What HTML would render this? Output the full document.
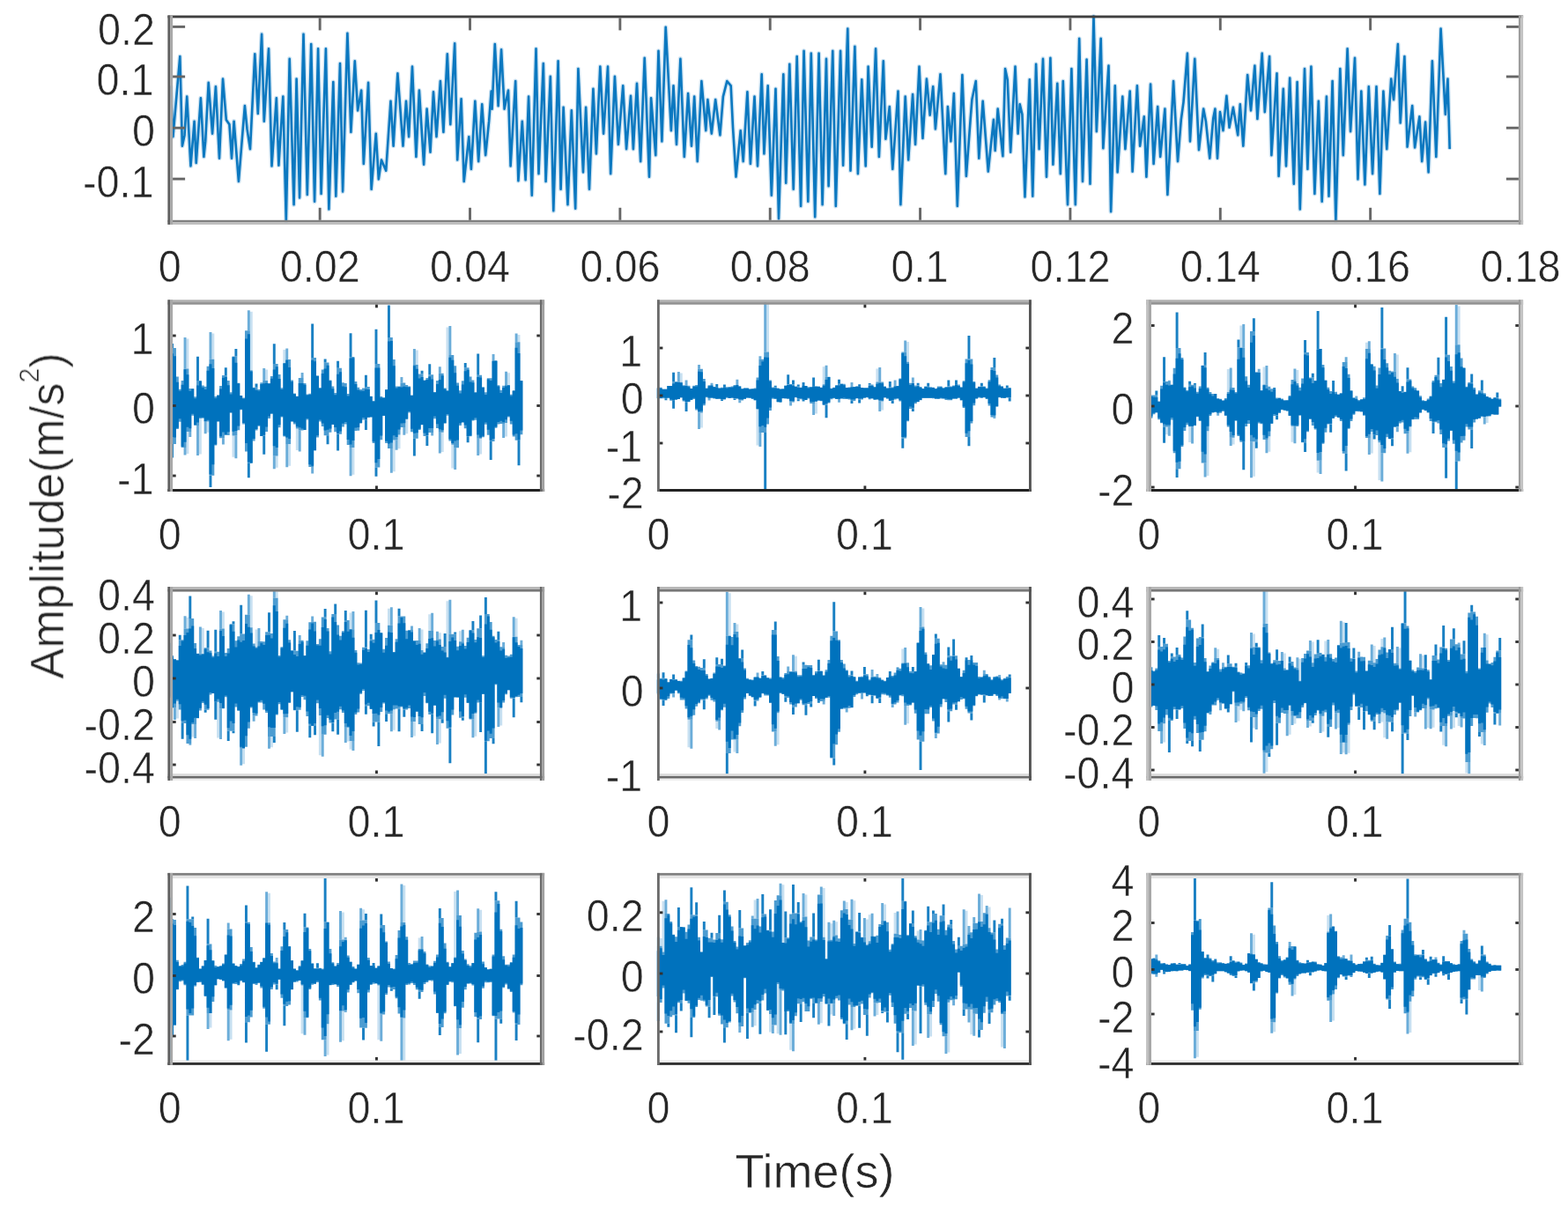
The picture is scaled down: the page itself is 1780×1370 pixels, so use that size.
<!DOCTYPE html>
<html><head><meta charset="utf-8"><title>Signals</title>
<style>
html,body{margin:0;padding:0;background:#fff;}
svg{display:block}
text{font-family:"Liberation Sans",Arial,Helvetica,sans-serif;fill:#262626;stroke:#fff;stroke-width:0.55px;filter:url(#bt);}
</style></head><body>
<svg xmlns="http://www.w3.org/2000/svg" width="1780" height="1370" viewBox="0 0 1780 1370">
<defs><filter id="bl" x="-2%" y="-5%" width="104%" height="110%"><feGaussianBlur stdDeviation="0.6"/></filter>
<filter id="bl2" x="-2%" y="-5%" width="104%" height="110%"><feGaussianBlur stdDeviation="0.45"/></filter>
<filter id="bt" x="-10%" y="-20%" width="120%" height="140%"><feGaussianBlur stdDeviation="0.7"/></filter></defs>
<rect width="1780" height="1370" fill="#fff"/>
<g id="top">
<g filter="url(#bl)"><path d="M193.8 97.4L196.4 155.2L199.9 114.9L204.3 64.1L206.9 165.7L209.5 153.4L212.2 109.6L216.5 188.5L220.6 137.7L222.7 185.0L227.9 111.4L231.4 178.0L233.2 160.4L236.7 93.9L241.1 151.7L244.9 98.2L249.0 179.7L253.0 89.5L256.8 135.9L260.4 141.2L263.0 179.7L265.6 137.7L270.9 206.0L277.9 120.1L280.5 146.4L284.0 169.2L289.3 61.4L292.8 128.9L297.1 38.7L299.8 137.7L305.0 55.3L308.5 188.5L313.8 111.4L316.4 187.6L321.3 109.6L324.8 250.7L328.7 66.7L333.6 232.3L336.6 89.5L340.1 224.4L344.5 38.7L348.8 220.9L353.2 50.0L357.1 228.8L361.1 55.3L364.6 220.0L369.9 55.3L373.4 237.5L378.3 93.0L381.3 222.7L386.0 72.0L389.1 217.4L394.4 37.8L398.4 149.9L402.8 69.3L406.1 125.4L410.2 102.6L412.8 185.9L418.1 93.9L421.6 214.8L426.8 151.7L429.8 203.4L433.0 181.5L438.2 193.7L443.5 114.9L446.6 165.7L451.4 83.3L457.5 165.7L461.0 114.9L464.1 155.2L468.0 75.5L472.4 178.0L475.9 102.6L481.1 186.7L484.6 123.6L488.5 172.7L492.0 104.4L495.5 155.2L499.9 92.1L503.4 149.9L507.8 61.4L511.3 141.2L516.2 49.2L519.2 181.5L523.6 112.3L526.7 206.0L532.3 155.2L534.9 192.0L539.3 114.9L543.2 183.2L547.2 118.4L551.2 176.2L555.1 137.7L557.7 103.5L558.6 123.6L561.8 50.0L565.6 120.1L569.1 56.2L572.6 123.6L577.0 102.6L579.6 188.5L585.2 92.1L588.4 205.1L592.8 137.7L596.6 204.3L600.1 109.6L603.8 221.8L608.5 55.3L611.5 197.2L616.8 72.0L619.6 206.0L624.8 86.8L628.3 239.3L633.6 69.3L636.6 214.8L639.6 121.9L644.5 232.3L648.8 125.4L653.2 236.7L656.4 78.1L662.0 195.5L665.1 121.9L669.0 214.8L673.4 100.9L676.9 174.5L681.3 75.5L685.1 151.7L690.0 75.5L693.2 197.2L697.9 86.8L701.9 163.9L707.2 97.4L711.1 169.2L716.0 108.8L718.9 169.2L723.0 94.7L727.2 183.2L731.7 65.8L737.0 200.7L739.1 111.4L744.3 176.2L747.5 57.9L751.4 160.4L755.7 30.8L761.9 148.2L764.5 97.4L768.0 163.9L772.4 66.7L776.8 178.0L781.1 106.1L785.0 165.7L788.2 109.6L791.7 183.2L796.4 92.1L801.3 148.2L803.4 113.1L807.8 151.7L812.2 113.1L817.4 153.4L820.9 109.6L825.3 92.1L829.7 97.4L832.0 144.7L835.5 200.7L840.7 148.2L843.7 183.2L848.4 104.4L851.9 185.9L856.5 109.6L860.0 188.5L864.7 84.2L867.4 174.5L871.7 97.4L875.8 221.8L880.5 100.9L884.0 248.1L889.3 84.2L892.2 207.8L896.3 72.8L900.7 214.8L904.7 64.1L909.1 234.0L912.6 57.9L917.3 228.8L920.8 60.6L925.2 246.3L929.6 60.6L933.6 232.3L938.0 66.7L940.6 211.3L945.3 57.9L948.8 234.0L954.1 57.9L957.1 187.6L962.3 32.5L965.5 193.7L970.4 52.7L973.9 197.2L978.3 90.4L982.7 188.5L985.6 75.5L989.7 166.6L994.1 55.3L997.9 178.0L1002.8 69.3L1005.4 157.8L1009.8 121.0L1013.3 192.0L1019.5 103.5L1022.4 232.3L1027.7 109.6L1031.2 181.5L1036.1 107.0L1039.1 163.9L1043.5 75.5L1047.5 156.9L1051.9 89.5L1055.7 130.7L1059.2 98.2L1061.9 146.4L1067.5 84.2L1073.3 197.2L1075.9 121.0L1079.4 160.4L1082.9 106.1L1086.8 234.0L1092.4 85.1L1096.9 199.9L1101.6 135.9L1103.4 113.1L1107.8 92.1L1111.3 179.7L1115.7 114.9L1121.8 194.6L1127.9 135.9L1129.7 171.0L1132.7 123.6L1138.4 177.1L1141.1 78.1L1143.7 90.4L1147.2 172.7L1152.5 75.5L1155.6 151.7L1157.7 118.4L1160.4 129.8L1163.5 223.5L1168.8 90.4L1172.3 222.7L1176.1 72.8L1179.6 169.2L1184.0 66.7L1188.0 200.7L1192.4 65.8L1195.4 186.7L1200.3 94.7L1203.8 197.2L1206.8 92.1L1212.0 232.3L1216.4 78.1L1220.8 232.3L1225.2 43.9L1229.0 206.0L1233.6 67.6L1237.5 208.6L1241.5 18.5L1244.8 149.1L1249.7 43.9L1252.3 168.3L1258.5 74.6L1261.1 240.2L1265.8 97.4L1268.6 195.5L1274.3 109.6L1277.4 169.2L1282.7 103.5L1285.6 194.6L1290.9 97.4L1294.1 165.7L1298.8 132.4L1301.4 200.7L1306.1 95.6L1309.6 185.9L1314.2 121.0L1317.2 178.0L1322.4 123.6L1325.4 220.9L1332.1 92.1L1337.0 183.2L1340.8 135.9L1343.5 115.8L1347.9 60.6L1351.0 160.4L1356.3 66.7L1361.0 170.1L1366.2 123.6L1368.9 137.7L1373.3 179.7L1377.3 134.2L1379.4 123.6L1382.0 179.7L1385.0 127.1L1388.5 148.2L1392.4 108.8L1395.5 144.7L1399.9 121.9L1405.2 153.4L1407.8 118.4L1411.3 165.7L1416.2 85.1L1420.0 125.4L1424.4 74.6L1427.4 135.0L1432.7 60.6L1435.8 127.1L1441.1 64.1L1443.4 176.2L1449.5 83.3L1451.6 199.9L1456.8 100.9L1460.0 188.5L1464.2 88.6L1468.8 208.6L1472.6 93.0L1475.8 237.5L1481.0 78.1L1484.4 192.0L1488.4 75.5L1492.4 220.0L1496.8 114.9L1500.7 228.8L1505.9 109.6L1508.5 222.7L1512.6 92.1L1516.4 250.7L1521.3 78.1L1524.8 176.2L1529.6 55.3L1533.1 149.1L1538.0 65.8L1541.5 203.4L1545.3 103.5L1549.4 209.5L1553.8 98.2L1558.1 197.2L1562.5 98.2L1566.4 220.0L1570.4 103.5L1574.3 169.2L1579.2 89.5L1582.1 113.1L1586.9 50.0L1589.7 139.4L1594.4 64.1L1597.6 166.6L1603.2 120.1L1606.1 167.5L1611.4 132.4L1614.2 183.2L1618.1 138.5L1621.6 195.5L1625.9 69.3L1630.3 178.0L1635.6 32.5L1640.8 129.8L1643.5 89.5L1645.7 169.2" fill="none" stroke="#0072bd" stroke-width="5.2" stroke-linejoin="round" stroke-opacity="0.2"/><path d="M193.8 97.4L196.4 155.2L199.9 114.9L204.3 64.1L206.9 165.7L209.5 153.4L212.2 109.6L216.5 188.5L220.6 137.7L222.7 185.0L227.9 111.4L231.4 178.0L233.2 160.4L236.7 93.9L241.1 151.7L244.9 98.2L249.0 179.7L253.0 89.5L256.8 135.9L260.4 141.2L263.0 179.7L265.6 137.7L270.9 206.0L277.9 120.1L280.5 146.4L284.0 169.2L289.3 61.4L292.8 128.9L297.1 38.7L299.8 137.7L305.0 55.3L308.5 188.5L313.8 111.4L316.4 187.6L321.3 109.6L324.8 250.7L328.7 66.7L333.6 232.3L336.6 89.5L340.1 224.4L344.5 38.7L348.8 220.9L353.2 50.0L357.1 228.8L361.1 55.3L364.6 220.0L369.9 55.3L373.4 237.5L378.3 93.0L381.3 222.7L386.0 72.0L389.1 217.4L394.4 37.8L398.4 149.9L402.8 69.3L406.1 125.4L410.2 102.6L412.8 185.9L418.1 93.9L421.6 214.8L426.8 151.7L429.8 203.4L433.0 181.5L438.2 193.7L443.5 114.9L446.6 165.7L451.4 83.3L457.5 165.7L461.0 114.9L464.1 155.2L468.0 75.5L472.4 178.0L475.9 102.6L481.1 186.7L484.6 123.6L488.5 172.7L492.0 104.4L495.5 155.2L499.9 92.1L503.4 149.9L507.8 61.4L511.3 141.2L516.2 49.2L519.2 181.5L523.6 112.3L526.7 206.0L532.3 155.2L534.9 192.0L539.3 114.9L543.2 183.2L547.2 118.4L551.2 176.2L555.1 137.7L557.7 103.5L558.6 123.6L561.8 50.0L565.6 120.1L569.1 56.2L572.6 123.6L577.0 102.6L579.6 188.5L585.2 92.1L588.4 205.1L592.8 137.7L596.6 204.3L600.1 109.6L603.8 221.8L608.5 55.3L611.5 197.2L616.8 72.0L619.6 206.0L624.8 86.8L628.3 239.3L633.6 69.3L636.6 214.8L639.6 121.9L644.5 232.3L648.8 125.4L653.2 236.7L656.4 78.1L662.0 195.5L665.1 121.9L669.0 214.8L673.4 100.9L676.9 174.5L681.3 75.5L685.1 151.7L690.0 75.5L693.2 197.2L697.9 86.8L701.9 163.9L707.2 97.4L711.1 169.2L716.0 108.8L718.9 169.2L723.0 94.7L727.2 183.2L731.7 65.8L737.0 200.7L739.1 111.4L744.3 176.2L747.5 57.9L751.4 160.4L755.7 30.8L761.9 148.2L764.5 97.4L768.0 163.9L772.4 66.7L776.8 178.0L781.1 106.1L785.0 165.7L788.2 109.6L791.7 183.2L796.4 92.1L801.3 148.2L803.4 113.1L807.8 151.7L812.2 113.1L817.4 153.4L820.9 109.6L825.3 92.1L829.7 97.4L832.0 144.7L835.5 200.7L840.7 148.2L843.7 183.2L848.4 104.4L851.9 185.9L856.5 109.6L860.0 188.5L864.7 84.2L867.4 174.5L871.7 97.4L875.8 221.8L880.5 100.9L884.0 248.1L889.3 84.2L892.2 207.8L896.3 72.8L900.7 214.8L904.7 64.1L909.1 234.0L912.6 57.9L917.3 228.8L920.8 60.6L925.2 246.3L929.6 60.6L933.6 232.3L938.0 66.7L940.6 211.3L945.3 57.9L948.8 234.0L954.1 57.9L957.1 187.6L962.3 32.5L965.5 193.7L970.4 52.7L973.9 197.2L978.3 90.4L982.7 188.5L985.6 75.5L989.7 166.6L994.1 55.3L997.9 178.0L1002.8 69.3L1005.4 157.8L1009.8 121.0L1013.3 192.0L1019.5 103.5L1022.4 232.3L1027.7 109.6L1031.2 181.5L1036.1 107.0L1039.1 163.9L1043.5 75.5L1047.5 156.9L1051.9 89.5L1055.7 130.7L1059.2 98.2L1061.9 146.4L1067.5 84.2L1073.3 197.2L1075.9 121.0L1079.4 160.4L1082.9 106.1L1086.8 234.0L1092.4 85.1L1096.9 199.9L1101.6 135.9L1103.4 113.1L1107.8 92.1L1111.3 179.7L1115.7 114.9L1121.8 194.6L1127.9 135.9L1129.7 171.0L1132.7 123.6L1138.4 177.1L1141.1 78.1L1143.7 90.4L1147.2 172.7L1152.5 75.5L1155.6 151.7L1157.7 118.4L1160.4 129.8L1163.5 223.5L1168.8 90.4L1172.3 222.7L1176.1 72.8L1179.6 169.2L1184.0 66.7L1188.0 200.7L1192.4 65.8L1195.4 186.7L1200.3 94.7L1203.8 197.2L1206.8 92.1L1212.0 232.3L1216.4 78.1L1220.8 232.3L1225.2 43.9L1229.0 206.0L1233.6 67.6L1237.5 208.6L1241.5 18.5L1244.8 149.1L1249.7 43.9L1252.3 168.3L1258.5 74.6L1261.1 240.2L1265.8 97.4L1268.6 195.5L1274.3 109.6L1277.4 169.2L1282.7 103.5L1285.6 194.6L1290.9 97.4L1294.1 165.7L1298.8 132.4L1301.4 200.7L1306.1 95.6L1309.6 185.9L1314.2 121.0L1317.2 178.0L1322.4 123.6L1325.4 220.9L1332.1 92.1L1337.0 183.2L1340.8 135.9L1343.5 115.8L1347.9 60.6L1351.0 160.4L1356.3 66.7L1361.0 170.1L1366.2 123.6L1368.9 137.7L1373.3 179.7L1377.3 134.2L1379.4 123.6L1382.0 179.7L1385.0 127.1L1388.5 148.2L1392.4 108.8L1395.5 144.7L1399.9 121.9L1405.2 153.4L1407.8 118.4L1411.3 165.7L1416.2 85.1L1420.0 125.4L1424.4 74.6L1427.4 135.0L1432.7 60.6L1435.8 127.1L1441.1 64.1L1443.4 176.2L1449.5 83.3L1451.6 199.9L1456.8 100.9L1460.0 188.5L1464.2 88.6L1468.8 208.6L1472.6 93.0L1475.8 237.5L1481.0 78.1L1484.4 192.0L1488.4 75.5L1492.4 220.0L1496.8 114.9L1500.7 228.8L1505.9 109.6L1508.5 222.7L1512.6 92.1L1516.4 250.7L1521.3 78.1L1524.8 176.2L1529.6 55.3L1533.1 149.1L1538.0 65.8L1541.5 203.4L1545.3 103.5L1549.4 209.5L1553.8 98.2L1558.1 197.2L1562.5 98.2L1566.4 220.0L1570.4 103.5L1574.3 169.2L1579.2 89.5L1582.1 113.1L1586.9 50.0L1589.7 139.4L1594.4 64.1L1597.6 166.6L1603.2 120.1L1606.1 167.5L1611.4 132.4L1614.2 183.2L1618.1 138.5L1621.6 195.5L1625.9 69.3L1630.3 178.0L1635.6 32.5L1640.8 129.8L1643.5 89.5L1645.7 169.2" fill="none" stroke="#0072bd" stroke-width="2.6" stroke-linejoin="round" stroke-opacity="0.95"/></g>
<g filter="url(#bl2)"><rect x="190.40" y="17.50" width="1538.70" height="2.90" fill="#404040"/><rect x="190.40" y="249.80" width="1538.70" height="2.60" fill="#808080"/><rect x="190.40" y="252.40" width="1538.70" height="2.50" fill="#bcbcbc"/><rect x="190.40" y="17.50" width="2.70" height="237.40" fill="#5f5f5f"/><rect x="193.10" y="17.50" width="3.00" height="237.40" fill="#a8a8a8"/><rect x="1723.90" y="17.50" width="2.60" height="237.40" fill="#9c9c9c"/><rect x="1726.50" y="17.50" width="2.60" height="237.40" fill="#c2c2c2"/><rect x="361.71" y="235.80" width="2.9" height="14.00" fill="#666666"/><rect x="361.71" y="20.40" width="2.9" height="14.00" fill="#666666"/><rect x="532.06" y="235.80" width="2.9" height="14.00" fill="#666666"/><rect x="532.06" y="20.40" width="2.9" height="14.00" fill="#666666"/><rect x="702.42" y="235.80" width="2.9" height="14.00" fill="#666666"/><rect x="702.42" y="20.40" width="2.9" height="14.00" fill="#666666"/><rect x="872.77" y="235.80" width="2.9" height="14.00" fill="#666666"/><rect x="872.77" y="20.40" width="2.9" height="14.00" fill="#666666"/><rect x="1043.13" y="235.80" width="2.9" height="14.00" fill="#666666"/><rect x="1043.13" y="20.40" width="2.9" height="14.00" fill="#666666"/><rect x="1213.48" y="235.80" width="2.9" height="14.00" fill="#666666"/><rect x="1213.48" y="20.40" width="2.9" height="14.00" fill="#666666"/><rect x="1383.84" y="235.80" width="2.9" height="14.00" fill="#666666"/><rect x="1383.84" y="20.40" width="2.9" height="14.00" fill="#666666"/><rect x="1554.19" y="235.80" width="2.9" height="14.00" fill="#666666"/><rect x="1554.19" y="20.40" width="2.9" height="14.00" fill="#666666"/><rect x="196.10" y="28.95" width="14.00" height="2.9" fill="#666666"/><rect x="1709.90" y="28.95" width="14.00" height="2.9" fill="#666666"/><rect x="196.10" y="85.55" width="14.00" height="2.9" fill="#666666"/><rect x="1709.90" y="85.55" width="14.00" height="2.9" fill="#666666"/><rect x="196.10" y="143.75" width="14.00" height="2.9" fill="#666666"/><rect x="1709.90" y="143.75" width="14.00" height="2.9" fill="#666666"/><rect x="196.10" y="201.65" width="14.00" height="2.9" fill="#666666"/><rect x="1709.90" y="201.65" width="14.00" height="2.9" fill="#666666"/></g><text transform="translate(192.8,319.5) scale(0.935,1)" text-anchor="middle" font-size="50">0</text><text transform="translate(363.2,319.5) scale(0.935,1)" text-anchor="middle" font-size="50">0.02</text><text transform="translate(533.5,319.5) scale(0.935,1)" text-anchor="middle" font-size="50">0.04</text><text transform="translate(703.9,319.5) scale(0.935,1)" text-anchor="middle" font-size="50">0.06</text><text transform="translate(874.2,319.5) scale(0.935,1)" text-anchor="middle" font-size="50">0.08</text><text transform="translate(1044.1,319.5) scale(0.935,1)" text-anchor="middle" font-size="50">0.1</text><text transform="translate(1214.9,319.5) scale(0.935,1)" text-anchor="middle" font-size="50">0.12</text><text transform="translate(1385.3,319.5) scale(0.935,1)" text-anchor="middle" font-size="50">0.14</text><text transform="translate(1555.6,319.5) scale(0.935,1)" text-anchor="middle" font-size="50">0.16</text><text transform="translate(1726.0,319.5) scale(0.935,1)" text-anchor="middle" font-size="50">0.18</text><text transform="translate(176.1,51.2) scale(0.935,1)" text-anchor="end" font-size="50">0.2</text><text transform="translate(174.6,107.8) scale(0.935,1)" text-anchor="end" font-size="50">0.1</text><text transform="translate(176.1,166.0) scale(0.935,1)" text-anchor="end" font-size="50">0</text><text transform="translate(174.6,223.9) scale(0.935,1)" text-anchor="end" font-size="50">-0.1</text>
</g>
<g id="p00">
<g filter="url(#bl)"><path d="M211.45 384.4h2.94V418.6h-2.94zM211.45 490.1h2.94V514.9h-2.94zM225.91 474.9h2.94V515.6h-2.94zM234.59 478.4h2.94V490.7h-2.94zM240.38 378.4h2.94V407.8h-2.94zM263.52 494.4h2.94V518.8h-2.94zM283.77 353.8h2.94V420.2h-2.94zM301.13 419.4h2.94V432.0h-2.94zM312.70 517.5h2.94V530.8h-2.94zM321.38 396.9h2.94V411.9h-2.94zM327.16 503.9h2.94V528.8h-2.94zM335.84 486.5h2.94V511.0h-2.94zM399.48 507.9h2.94V538.7h-2.94zM445.77 499.6h2.94V535.2h-2.94zM451.56 493.5h2.94V509.2h-2.94zM460.23 476.1h2.94V492.3h-2.94zM471.81 397.4h2.94V414.0h-2.94zM500.73 490.8h2.94V513.1h-2.94zM506.52 371.4h2.94V443.3h-2.94zM512.31 504.7h2.94V531.5h-2.94zM544.13 497.8h2.94V515.4h-2.94zM573.06 479.9h2.94V495.5h-2.94zM575.95 423.2h2.94V436.9h-2.94zM587.52 380.1h2.94V388.3h-2.94z" fill="#0072bd" fill-opacity="0.22"/><path d="M208.56 382.9h2.94V418.6h-2.94zM208.56 508.1h2.94V516.4h-2.94zM214.34 490.1h2.94V496.0h-2.94zM223.02 483.1h2.94V517.1h-2.94zM231.70 478.4h2.94V492.2h-2.94zM237.49 376.9h2.94V407.8h-2.94zM251.95 497.3h2.94V504.6h-2.94zM266.41 494.4h2.94V520.3h-2.94zM280.88 352.3h2.94V375.2h-2.94zM298.24 417.9h2.94V432.0h-2.94zM309.81 517.5h2.94V532.3h-2.94zM324.27 395.4h2.94V407.9h-2.94zM324.27 503.9h2.94V530.3h-2.94zM338.74 488.4h2.94V512.5h-2.94zM341.63 422.9h2.94V429.0h-2.94zM353.20 530.0h2.94V537.4h-2.94zM396.59 507.9h2.94V540.2h-2.94zM442.88 509.0h2.94V536.7h-2.94zM448.66 499.6h2.94V510.7h-2.94zM454.45 428.0h2.94V434.6h-2.94zM457.34 485.0h2.94V493.8h-2.94zM468.91 395.9h2.94V414.0h-2.94zM489.16 491.1h2.94V494.4h-2.94zM497.84 416.2h2.94V423.7h-2.94zM497.84 490.8h2.94V514.6h-2.94zM509.41 369.9h2.94V402.9h-2.94zM515.20 508.2h2.94V533.0h-2.94zM541.23 497.8h2.94V516.9h-2.94zM558.59 402.1h2.94V409.0h-2.94zM570.16 480.9h2.94V497.0h-2.94zM573.06 421.7h2.94V436.9h-2.94zM584.63 378.6h2.94V388.3h-2.94z" fill="#0072bd" fill-opacity="0.58"/><path d="M194.09 389.9h2.94V395.1h-2.94zM194.09 504.1h2.94V519.4h-2.94zM223.02 404.7h2.94V431.9h-2.94zM237.49 539.7h2.94V553.0h-2.94zM254.84 417.2h2.94V425.9h-2.94zM266.41 396.0h2.94V404.6h-2.94zM280.88 525.9h2.94V542.2h-2.94zM289.56 435.6h2.94V439.7h-2.94zM298.24 495.0h2.94V515.8h-2.94zM309.81 390.3h2.94V413.0h-2.94zM353.20 367.5h2.94V405.9h-2.94zM367.66 407.5h2.94V411.6h-2.94zM370.56 494.3h2.94V504.3h-2.94zM382.13 409.7h2.94V417.8h-2.94zM382.13 492.8h2.94V511.4h-2.94zM396.59 378.3h2.94V405.1h-2.94zM413.95 425.8h2.94V438.9h-2.94zM413.95 476.4h2.94V487.9h-2.94zM425.52 373.7h2.94V412.9h-2.94zM425.52 530.5h2.94V540.8h-2.94zM439.98 346.4h2.94V382.9h-2.94zM468.91 497.8h2.94V517.4h-2.94zM477.59 420.8h2.94V424.6h-2.94zM483.38 495.0h2.94V506.0h-2.94zM486.27 413.3h2.94V425.2h-2.94zM526.77 412.0h2.94V417.3h-2.94zM529.66 495.3h2.94V502.3h-2.94zM541.23 401.5h2.94V425.8h-2.94zM555.70 500.9h2.94V522.0h-2.94zM587.52 499.7h2.94V528.3h-2.94z" fill="#0072bd" fill-opacity="0.9"/><path d="M191.20 408.4h2.94V504.1h-2.94zM194.09 395.1h2.94V504.1h-2.94zM196.99 395.1h2.94V504.1h-2.94zM199.88 427.5h2.94V487.0h-2.94zM202.77 441.7h2.94V478.8h-2.94zM205.66 432.0h2.94V508.1h-2.94zM208.56 418.6h2.94V508.1h-2.94zM211.45 418.6h2.94V490.1h-2.94zM214.34 441.0h2.94V490.1h-2.94zM217.24 441.0h2.94V471.7h-2.94zM220.13 450.2h2.94V483.1h-2.94zM223.02 431.9h2.94V483.1h-2.94zM225.91 431.9h2.94V474.9h-2.94zM228.81 437.5h2.94V474.7h-2.94zM231.70 438.8h2.94V478.4h-2.94zM234.59 415.8h2.94V478.4h-2.94zM237.49 407.8h2.94V539.7h-2.94zM240.38 407.8h2.94V539.7h-2.94zM243.27 450.0h2.94V505.6h-2.94zM246.16 448.2h2.94V478.4h-2.94zM249.06 438.0h2.94V497.3h-2.94zM251.95 425.9h2.94V497.3h-2.94zM254.84 425.9h2.94V494.0h-2.94zM257.74 432.1h2.94V494.0h-2.94zM260.63 445.3h2.94V468.4h-2.94zM263.52 404.6h2.94V494.4h-2.94zM266.41 404.6h2.94V494.4h-2.94zM269.31 434.8h2.94V488.3h-2.94zM272.20 448.9h2.94V465.2h-2.94zM275.09 451.6h2.94V481.4h-2.94zM277.99 375.2h2.94V512.5h-2.94zM280.88 375.2h2.94V525.9h-2.94zM283.77 420.2h2.94V525.9h-2.94zM286.66 439.7h2.94V500.4h-2.94zM289.56 439.7h2.94V488.5h-2.94zM292.45 442.0h2.94V483.7h-2.94zM295.34 434.2h2.94V495.0h-2.94zM298.24 432.0h2.94V495.0h-2.94zM301.13 432.0h2.94V490.0h-2.94zM304.02 434.9h2.94V475.0h-2.94zM306.91 426.9h2.94V470.0h-2.94zM309.81 413.0h2.94V517.5h-2.94zM312.70 413.0h2.94V517.5h-2.94zM315.59 424.9h2.94V485.3h-2.94zM318.49 440.3h2.94V473.5h-2.94zM321.38 411.9h2.94V495.6h-2.94zM324.27 407.9h2.94V503.9h-2.94zM327.16 407.9h2.94V503.9h-2.94zM330.06 431.6h2.94V478.8h-2.94zM332.95 446.5h2.94V481.5h-2.94zM335.84 449.8h2.94V486.5h-2.94zM338.74 429.0h2.94V488.4h-2.94zM341.63 429.0h2.94V488.4h-2.94zM344.52 434.9h2.94V488.0h-2.94zM347.41 447.4h2.94V476.6h-2.94zM350.31 446.7h2.94V530.0h-2.94zM353.20 405.9h2.94V530.0h-2.94zM356.09 405.9h2.94V511.5h-2.94zM358.99 426.5h2.94V496.5h-2.94zM361.88 440.0h2.94V478.5h-2.94zM364.77 419.6h2.94V484.0h-2.94zM367.66 411.6h2.94V494.3h-2.94zM370.56 411.6h2.94V494.3h-2.94zM373.45 431.4h2.94V490.8h-2.94zM376.34 438.4h2.94V481.9h-2.94zM379.23 445.9h2.94V490.3h-2.94zM382.13 417.8h2.94V492.8h-2.94zM385.02 417.8h2.94V492.8h-2.94zM387.91 434.2h2.94V484.6h-2.94zM390.81 435.0h2.94V481.6h-2.94zM393.70 446.9h2.94V505.1h-2.94zM396.59 405.1h2.94V507.9h-2.94zM399.48 405.1h2.94V507.9h-2.94zM402.38 432.9h2.94V489.0h-2.94zM405.27 439.8h2.94V488.8h-2.94zM408.16 441.9h2.94V480.2h-2.94zM411.06 440.5h2.94V476.4h-2.94zM413.95 438.9h2.94V476.4h-2.94zM416.84 438.9h2.94V474.1h-2.94zM419.73 449.8h2.94V473.7h-2.94zM422.63 455.0h2.94V503.0h-2.94zM425.52 412.9h2.94V530.5h-2.94zM428.41 412.9h2.94V530.5h-2.94zM431.31 449.9h2.94V499.2h-2.94zM434.20 450.9h2.94V471.9h-2.94zM437.09 441.9h2.94V502.9h-2.94zM439.98 382.9h2.94V509.0h-2.94zM442.88 382.9h2.94V509.0h-2.94zM445.77 408.0h2.94V499.6h-2.94zM448.66 438.5h2.94V499.6h-2.94zM451.56 438.6h2.94V493.5h-2.94zM454.45 434.6h2.94V485.0h-2.94zM457.34 434.6h2.94V485.0h-2.94zM460.23 437.1h2.94V476.1h-2.94zM463.13 438.6h2.94V468.6h-2.94zM466.02 448.4h2.94V490.2h-2.94zM468.91 414.0h2.94V497.8h-2.94zM471.81 414.0h2.94V497.8h-2.94zM474.70 424.6h2.94V488.1h-2.94zM477.59 424.6h2.94V482.2h-2.94zM480.48 431.7h2.94V495.0h-2.94zM483.38 429.1h2.94V495.0h-2.94zM486.27 425.2h2.94V491.1h-2.94zM489.16 425.2h2.94V491.1h-2.94zM492.06 445.0h2.94V475.3h-2.94zM494.95 432.1h2.94V485.9h-2.94zM497.84 423.7h2.94V490.8h-2.94zM500.73 423.7h2.94V490.8h-2.94zM503.63 440.4h2.94V480.4h-2.94zM506.52 443.3h2.94V471.8h-2.94zM509.41 402.9h2.94V500.5h-2.94zM512.31 402.9h2.94V504.7h-2.94zM515.20 415.3h2.94V508.2h-2.94zM518.09 434.6h2.94V508.2h-2.94zM520.98 443.3h2.94V482.9h-2.94zM523.88 432.3h2.94V479.4h-2.94zM526.77 417.3h2.94V486.3h-2.94zM529.66 417.3h2.94V495.3h-2.94zM532.56 427.5h2.94V495.3h-2.94zM535.45 431.5h2.94V477.6h-2.94zM538.34 445.1h2.94V476.7h-2.94zM541.23 425.8h2.94V497.8h-2.94zM544.13 425.8h2.94V497.8h-2.94zM547.02 439.2h2.94V496.3h-2.94zM549.91 445.3h2.94V481.7h-2.94zM552.81 429.2h2.94V493.8h-2.94zM555.70 429.2h2.94V500.9h-2.94zM558.59 409.0h2.94V500.9h-2.94zM561.48 409.0h2.94V485.8h-2.94zM564.38 437.2h2.94V481.5h-2.94zM567.27 442.8h2.94V480.9h-2.94zM570.16 437.7h2.94V480.9h-2.94zM573.06 436.9h2.94V479.9h-2.94zM575.95 436.9h2.94V473.5h-2.94zM578.84 447.8h2.94V481.4h-2.94zM581.73 443.1h2.94V495.5h-2.94zM584.63 388.3h2.94V499.7h-2.94zM587.52 388.3h2.94V499.7h-2.94zM590.41 432.1h2.94V493.3h-2.94z" fill="#0072bd" fill-opacity="0.7"/><path d="M191.20 413.7h2.94V498.0h-2.94zM194.09 401.3h2.94V495.9h-2.94zM196.99 404.2h2.94V496.5h-2.94zM199.88 433.7h2.94V485.7h-2.94zM202.77 443.8h2.94V475.3h-2.94zM205.66 436.8h2.94V506.8h-2.94zM208.56 419.2h2.94V501.7h-2.94zM211.45 425.2h2.94V484.8h-2.94zM214.34 443.8h2.94V486.2h-2.94zM217.24 441.6h2.94V469.7h-2.94zM220.13 452.2h2.94V482.1h-2.94zM223.02 437.6h2.94V479.4h-2.94zM225.91 432.8h2.94V473.7h-2.94zM228.81 439.8h2.94V473.7h-2.94zM231.70 441.9h2.94V478.3h-2.94zM234.59 420.8h2.94V476.8h-2.94zM237.49 413.2h2.94V538.6h-2.94zM240.38 418.1h2.94V527.2h-2.94zM243.27 452.0h2.94V504.6h-2.94zM246.16 448.9h2.94V478.3h-2.94zM249.06 441.5h2.94V495.3h-2.94zM251.95 428.8h2.94V490.6h-2.94zM254.84 427.7h2.94V493.0h-2.94zM257.74 437.3h2.94V490.2h-2.94zM260.63 447.4h2.94V468.3h-2.94zM263.52 405.3h2.94V489.8h-2.94zM266.41 411.7h2.94V489.0h-2.94zM269.31 435.2h2.94V483.6h-2.94zM272.20 449.1h2.94V464.4h-2.94zM275.09 452.4h2.94V480.0h-2.94zM277.99 384.6h2.94V502.9h-2.94zM280.88 379.3h2.94V524.5h-2.94zM283.77 421.5h2.94V525.3h-2.94zM286.66 440.5h2.94V497.9h-2.94zM289.56 442.8h2.94V486.9h-2.94zM292.45 443.8h2.94V482.8h-2.94zM295.34 436.0h2.94V494.9h-2.94zM298.24 435.2h2.94V493.7h-2.94zM301.13 434.7h2.94V484.5h-2.94zM304.02 435.5h2.94V472.6h-2.94zM306.91 429.8h2.94V469.0h-2.94zM309.81 419.5h2.94V506.3h-2.94zM312.70 416.2h2.94V508.0h-2.94zM315.59 430.0h2.94V482.2h-2.94zM318.49 441.9h2.94V472.6h-2.94zM321.38 412.4h2.94V494.6h-2.94zM324.27 408.8h2.94V496.6h-2.94zM327.16 417.1h2.94V498.1h-2.94zM330.06 433.2h2.94V477.9h-2.94zM332.95 447.3h2.94V479.6h-2.94zM335.84 450.1h2.94V484.2h-2.94zM338.74 435.1h2.94V485.3h-2.94zM341.63 435.1h2.94V486.6h-2.94zM344.52 436.7h2.94V488.0h-2.94zM347.41 448.4h2.94V475.0h-2.94zM350.31 448.1h2.94V527.2h-2.94zM353.20 408.8h2.94V528.7h-2.94zM356.09 410.2h2.94V511.1h-2.94zM358.99 426.7h2.94V494.3h-2.94zM361.88 441.0h2.94V476.4h-2.94zM364.77 424.0h2.94V480.5h-2.94zM367.66 418.6h2.94V488.4h-2.94zM370.56 414.8h2.94V487.7h-2.94zM373.45 432.3h2.94V486.4h-2.94zM376.34 441.2h2.94V481.8h-2.94zM379.23 448.3h2.94V485.0h-2.94zM382.13 424.8h2.94V491.9h-2.94zM385.02 422.3h2.94V489.6h-2.94zM387.91 438.6h2.94V480.7h-2.94zM390.81 439.2h2.94V479.1h-2.94zM393.70 449.4h2.94V499.0h-2.94zM396.59 406.5h2.94V504.5h-2.94zM399.48 406.2h2.94V500.0h-2.94zM402.38 436.0h2.94V485.4h-2.94zM405.27 442.4h2.94V485.0h-2.94zM408.16 443.7h2.94V480.2h-2.94zM411.06 443.7h2.94V474.1h-2.94zM413.95 441.7h2.94V476.2h-2.94zM416.84 442.0h2.94V473.4h-2.94zM419.73 449.9h2.94V473.0h-2.94zM422.63 455.8h2.94V501.3h-2.94zM425.52 417.6h2.94V525.2h-2.94zM428.41 417.4h2.94V520.9h-2.94zM431.31 451.5h2.94V494.4h-2.94zM434.20 452.1h2.94V471.7h-2.94zM437.09 442.5h2.94V500.8h-2.94zM439.98 387.6h2.94V503.5h-2.94zM442.88 387.1h2.94V502.5h-2.94zM445.77 415.2h2.94V494.3h-2.94zM448.66 440.5h2.94V495.9h-2.94zM451.56 439.2h2.94V487.6h-2.94zM454.45 439.6h2.94V480.4h-2.94zM457.34 438.8h2.94V480.3h-2.94zM460.23 439.2h2.94V475.3h-2.94zM463.13 439.5h2.94V467.1h-2.94zM466.02 448.9h2.94V486.8h-2.94zM468.91 415.2h2.94V491.7h-2.94zM471.81 418.7h2.94V491.2h-2.94zM474.70 429.6h2.94V486.8h-2.94zM477.59 428.1h2.94V482.1h-2.94zM480.48 431.7h2.94V491.6h-2.94zM483.38 431.0h2.94V494.1h-2.94zM486.27 427.5h2.94V486.0h-2.94zM489.16 430.5h2.94V486.0h-2.94zM492.06 445.4h2.94V472.6h-2.94zM494.95 436.1h2.94V481.3h-2.94zM497.84 431.0h2.94V487.2h-2.94zM500.73 426.3h2.94V488.2h-2.94zM503.63 441.5h2.94V480.2h-2.94zM506.52 443.7h2.94V469.9h-2.94zM509.41 405.8h2.94V498.4h-2.94zM512.31 408.8h2.94V503.1h-2.94zM515.20 423.3h2.94V500.4h-2.94zM518.09 437.8h2.94V499.5h-2.94zM520.98 446.5h2.94V480.4h-2.94zM523.88 436.4h2.94V479.2h-2.94zM526.77 421.2h2.94V482.4h-2.94zM529.66 419.8h2.94V495.0h-2.94zM532.56 433.6h2.94V494.4h-2.94zM535.45 434.2h2.94V476.4h-2.94zM538.34 446.0h2.94V474.3h-2.94zM541.23 427.9h2.94V493.6h-2.94zM544.13 428.5h2.94V496.5h-2.94zM547.02 439.9h2.94V494.8h-2.94zM549.91 448.1h2.94V479.6h-2.94zM552.81 430.6h2.94V487.7h-2.94zM555.70 432.0h2.94V499.7h-2.94zM558.59 410.0h2.94V498.1h-2.94zM561.48 410.0h2.94V484.6h-2.94zM564.38 438.4h2.94V479.1h-2.94zM567.27 445.9h2.94V477.8h-2.94zM570.16 440.1h2.94V479.3h-2.94zM573.06 438.2h2.94V476.2h-2.94zM575.95 437.5h2.94V472.2h-2.94zM578.84 449.4h2.94V477.8h-2.94zM581.73 443.9h2.94V493.6h-2.94zM584.63 394.7h2.94V492.3h-2.94zM587.52 400.9h2.94V499.6h-2.94zM590.41 432.3h2.94V488.6h-2.94z" fill="#0072bd"/></g>
<g filter="url(#bl2)"><rect x="190.40" y="340.30" width="427.70" height="2.80" fill="#b0b0b0"/><rect x="190.40" y="343.10" width="427.70" height="2.60" fill="#909090"/><rect x="190.40" y="555.00" width="427.70" height="3.00" fill="#222222"/><rect x="190.40" y="340.30" width="2.70" height="217.70" fill="#5f5f5f"/><rect x="193.10" y="340.30" width="3.00" height="217.70" fill="#a8a8a8"/><rect x="612.90" y="340.30" width="2.60" height="217.70" fill="#6a6a6a"/><rect x="615.50" y="340.30" width="2.60" height="217.70" fill="#a0a0a0"/><rect x="426.02" y="551.40" width="2.9" height="3.60" fill="#333333"/><rect x="426.02" y="345.70" width="2.9" height="3.60" fill="#333333"/><rect x="196.10" y="379.55" width="3.60" height="2.9" fill="#333333"/><rect x="609.30" y="379.55" width="3.60" height="2.9" fill="#333333"/><rect x="196.10" y="459.05" width="3.60" height="2.9" fill="#333333"/><rect x="609.30" y="459.05" width="3.60" height="2.9" fill="#333333"/><rect x="196.10" y="538.55" width="3.60" height="2.9" fill="#333333"/><rect x="609.30" y="538.55" width="3.60" height="2.9" fill="#333333"/></g><text transform="translate(192.8,624.0) scale(0.935,1)" text-anchor="middle" font-size="50">0</text><text transform="translate(427.0,624.0) scale(0.935,1)" text-anchor="middle" font-size="50">0.1</text><text transform="translate(174.6,401.8) scale(0.935,1)" text-anchor="end" font-size="50">1</text><text transform="translate(176.1,481.3) scale(0.935,1)" text-anchor="end" font-size="50">0</text><text transform="translate(174.6,560.8) scale(0.935,1)" text-anchor="end" font-size="50">-1</text>
</g>
<g id="p01">
<g filter="url(#bl)"><path d="M771.82 423.4h2.94V433.7h-2.94zM794.94 468.5h2.94V485.5h-2.94zM858.54 464.2h2.94V505.6h-2.94zM870.10 344.7h2.94V399.6h-2.94zM925.03 455.9h2.94V469.4h-2.94zM933.70 416.2h2.94V436.3h-2.94zM994.41 418.6h2.94V433.6h-2.94zM1000.19 455.6h2.94V465.4h-2.94zM1029.10 388.1h2.94V410.7h-2.94z" fill="#0072bd" fill-opacity="0.22"/><path d="M768.93 421.9h2.94V433.2h-2.94zM777.60 431.6h2.94V437.2h-2.94zM792.05 413.9h2.94V418.7h-2.94zM792.05 468.5h2.94V487.0h-2.94zM803.62 452.1h2.94V454.5h-2.94zM806.51 434.8h2.94V437.3h-2.94zM835.41 430.8h2.94V436.9h-2.94zM838.31 454.6h2.94V457.3h-2.94zM861.43 404.3h2.94V407.7h-2.94zM861.43 490.9h2.94V507.1h-2.94zM867.21 343.2h2.94V399.6h-2.94zM896.12 456.4h2.94V460.5h-2.94zM922.14 458.0h2.94V470.9h-2.94zM936.59 414.7h2.94V427.8h-2.94zM951.05 453.0h2.94V456.7h-2.94zM965.50 434.0h2.94V438.9h-2.94zM997.30 417.1h2.94V433.4h-2.94zM997.30 455.6h2.94V466.9h-2.94zM1014.64 431.6h2.94V437.9h-2.94zM1026.21 386.6h2.94V399.4h-2.94zM1034.88 428.4h2.94V434.8h-2.94zM1127.39 473.4h2.94V475.0h-2.94z" fill="#0072bd" fill-opacity="0.58"/><path d="M754.47 452.2h2.94V454.3h-2.94zM763.14 422.7h2.94V433.2h-2.94zM763.14 454.7h2.94V463.7h-2.94zM777.60 456.2h2.94V466.9h-2.94zM812.29 435.9h2.94V439.2h-2.94zM818.07 453.2h2.94V454.9h-2.94zM820.96 436.4h2.94V439.2h-2.94zM832.52 452.6h2.94V454.1h-2.94zM867.21 490.9h2.94V555.5h-2.94zM878.78 437.7h2.94V439.6h-2.94zM893.23 425.2h2.94V436.3h-2.94zM899.01 431.6h2.94V436.3h-2.94zM904.79 436.6h2.94V438.7h-2.94zM904.79 453.2h2.94V455.2h-2.94zM910.58 434.0h2.94V437.9h-2.94zM910.58 454.0h2.94V455.4h-2.94zM922.14 428.4h2.94V438.5h-2.94zM936.59 460.1h2.94V474.2h-2.94zM951.05 430.8h2.94V435.7h-2.94zM965.50 454.9h2.94V458.1h-2.94zM974.17 436.3h2.94V438.4h-2.94zM974.17 453.5h2.94V457.4h-2.94zM985.74 435.0h2.94V436.4h-2.94zM985.74 452.2h2.94V453.3h-2.94zM1008.86 432.9h2.94V439.4h-2.94zM1011.75 455.1h2.94V458.1h-2.94zM1023.32 497.5h2.94V508.7h-2.94zM1034.88 464.1h2.94V466.9h-2.94zM1040.66 434.8h2.94V437.5h-2.94zM1052.22 434.8h2.94V438.8h-2.94zM1075.35 431.6h2.94V438.5h-2.94zM1084.02 431.6h2.94V436.4h-2.94zM1098.48 381.0h2.94V407.5h-2.94zM1098.48 495.9h2.94V506.3h-2.94zM1112.93 434.8h2.94V438.4h-2.94zM1127.39 405.9h2.94V417.1h-2.94zM1141.84 437.5h2.94V440.3h-2.94zM1144.73 451.6h2.94V455.4h-2.94z" fill="#0072bd" fill-opacity="0.9"/><path d="M745.80 439.8h2.94V452.3h-2.94zM748.69 439.8h2.94V452.3h-2.94zM751.58 441.4h2.94V452.2h-2.94zM754.47 441.4h2.94V452.2h-2.94zM757.36 437.9h2.94V451.7h-2.94zM760.25 437.9h2.94V454.7h-2.94zM763.14 433.2h2.94V454.7h-2.94zM766.04 433.2h2.94V454.0h-2.94zM768.93 433.2h2.94V453.1h-2.94zM771.82 433.7h2.94V451.4h-2.94zM774.71 437.2h2.94V455.4h-2.94zM777.60 437.2h2.94V456.2h-2.94zM780.49 437.8h2.94V456.2h-2.94zM783.38 440.9h2.94V453.9h-2.94zM786.27 437.8h2.94V453.1h-2.94zM789.16 437.1h2.94V465.4h-2.94zM792.05 418.7h2.94V468.5h-2.94zM794.94 418.7h2.94V468.5h-2.94zM797.83 430.0h2.94V460.2h-2.94zM800.73 440.6h2.94V451.2h-2.94zM803.62 437.3h2.94V452.1h-2.94zM806.51 437.3h2.94V452.1h-2.94zM809.40 439.2h2.94V452.5h-2.94zM812.29 439.2h2.94V452.9h-2.94zM815.18 440.2h2.94V452.9h-2.94zM818.07 439.7h2.94V453.2h-2.94zM820.96 439.2h2.94V453.2h-2.94zM823.85 439.2h2.94V451.7h-2.94zM826.74 439.0h2.94V452.0h-2.94zM829.63 438.6h2.94V452.0h-2.94zM832.52 436.9h2.94V452.6h-2.94zM835.41 436.9h2.94V452.6h-2.94zM838.31 438.2h2.94V454.6h-2.94zM841.20 441.0h2.94V454.6h-2.94zM844.09 440.3h2.94V453.0h-2.94zM846.98 440.3h2.94V451.8h-2.94zM849.87 441.2h2.94V451.9h-2.94zM852.76 441.3h2.94V453.1h-2.94zM855.65 440.6h2.94V454.4h-2.94zM858.54 428.6h2.94V464.2h-2.94zM861.43 407.7h2.94V490.9h-2.94zM864.32 407.7h2.94V490.9h-2.94zM867.21 399.6h2.94V490.9h-2.94zM870.10 399.6h2.94V481.4h-2.94zM873.00 431.4h2.94V466.0h-2.94zM875.89 439.6h2.94V452.7h-2.94zM878.78 439.6h2.94V453.1h-2.94zM881.67 440.5h2.94V456.6h-2.94zM884.56 441.3h2.94V456.6h-2.94zM887.45 441.0h2.94V452.2h-2.94zM890.34 437.8h2.94V452.3h-2.94zM893.23 436.3h2.94V452.6h-2.94zM896.12 436.3h2.94V456.4h-2.94zM899.01 436.3h2.94V456.4h-2.94zM901.90 438.7h2.94V451.3h-2.94zM904.79 438.7h2.94V453.2h-2.94zM907.68 439.8h2.94V453.2h-2.94zM910.58 437.9h2.94V454.0h-2.94zM913.47 437.9h2.94V454.0h-2.94zM916.36 439.3h2.94V452.5h-2.94zM919.25 438.9h2.94V458.0h-2.94zM922.14 438.5h2.94V458.0h-2.94zM925.03 438.5h2.94V455.9h-2.94zM927.92 438.5h2.94V454.5h-2.94zM930.81 439.8h2.94V455.3h-2.94zM933.70 436.3h2.94V460.1h-2.94zM936.59 427.8h2.94V460.1h-2.94zM939.48 427.8h2.94V457.4h-2.94zM942.37 440.7h2.94V453.2h-2.94zM945.27 439.8h2.94V452.3h-2.94zM948.16 437.1h2.94V453.0h-2.94zM951.05 435.7h2.94V453.0h-2.94zM953.94 435.7h2.94V452.6h-2.94zM956.83 435.7h2.94V452.9h-2.94zM959.72 439.9h2.94V452.9h-2.94zM962.61 439.6h2.94V453.4h-2.94zM965.50 438.9h2.94V454.9h-2.94zM968.39 438.9h2.94V454.9h-2.94zM971.28 438.4h2.94V452.3h-2.94zM974.17 438.4h2.94V453.5h-2.94zM977.06 440.0h2.94V453.5h-2.94zM979.95 439.9h2.94V451.9h-2.94zM982.85 439.9h2.94V451.2h-2.94zM985.74 436.4h2.94V452.2h-2.94zM988.63 436.4h2.94V452.2h-2.94zM991.52 439.2h2.94V453.8h-2.94zM994.41 433.6h2.94V453.8h-2.94zM997.30 433.4h2.94V455.6h-2.94zM1000.19 433.4h2.94V455.6h-2.94zM1003.08 438.4h2.94V451.5h-2.94zM1005.97 440.5h2.94V452.8h-2.94zM1008.86 439.4h2.94V455.1h-2.94zM1011.75 439.4h2.94V455.1h-2.94zM1014.64 437.9h2.94V453.6h-2.94zM1017.54 437.9h2.94V452.5h-2.94zM1020.43 429.6h2.94V455.6h-2.94zM1023.32 399.4h2.94V497.5h-2.94zM1026.21 399.4h2.94V497.5h-2.94zM1029.10 410.7h2.94V478.2h-2.94zM1031.99 434.8h2.94V464.1h-2.94zM1034.88 434.8h2.94V464.1h-2.94zM1037.77 437.5h2.94V458.3h-2.94zM1040.66 437.5h2.94V456.3h-2.94zM1043.55 439.0h2.94V454.2h-2.94zM1046.44 441.0h2.94V451.9h-2.94zM1049.33 438.8h2.94V452.1h-2.94zM1052.22 438.8h2.94V452.1h-2.94zM1055.12 439.3h2.94V452.1h-2.94zM1058.01 439.8h2.94V452.2h-2.94zM1060.90 441.1h2.94V452.9h-2.94zM1063.79 438.6h2.94V452.9h-2.94zM1066.68 438.6h2.94V452.6h-2.94zM1069.57 440.3h2.94V452.6h-2.94zM1072.46 439.1h2.94V454.0h-2.94zM1075.35 438.5h2.94V454.3h-2.94zM1078.24 438.5h2.94V454.3h-2.94zM1081.13 437.6h2.94V452.7h-2.94zM1084.02 436.4h2.94V452.7h-2.94zM1086.91 436.4h2.94V452.0h-2.94zM1089.81 439.3h2.94V454.5h-2.94zM1092.70 432.2h2.94V463.1h-2.94zM1095.59 407.5h2.94V495.9h-2.94zM1098.48 407.5h2.94V495.9h-2.94zM1101.37 407.5h2.94V480.6h-2.94zM1104.26 432.9h2.94V460.2h-2.94zM1107.15 440.8h2.94V452.7h-2.94zM1110.04 438.7h2.94V451.5h-2.94zM1112.93 438.4h2.94V451.5h-2.94zM1115.82 438.4h2.94V451.3h-2.94zM1118.71 440.5h2.94V452.9h-2.94zM1121.60 431.3h2.94V460.5h-2.94zM1124.49 417.1h2.94V473.4h-2.94zM1127.39 417.1h2.94V473.4h-2.94zM1130.28 425.4h2.94V461.6h-2.94zM1133.17 436.4h2.94V451.2h-2.94zM1136.06 438.6h2.94V451.8h-2.94zM1138.95 440.5h2.94V451.8h-2.94zM1141.84 440.3h2.94V451.6h-2.94zM1144.73 440.3h2.94V451.6h-2.94z" fill="#0072bd" fill-opacity="0.7"/><path d="M745.80 440.7h2.94V452.2h-2.94zM748.69 440.8h2.94V452.0h-2.94zM751.58 442.0h2.94V451.0h-2.94zM754.47 442.0h2.94V451.8h-2.94zM757.36 437.9h2.94V451.6h-2.94zM760.25 438.1h2.94V453.6h-2.94zM763.14 435.5h2.94V454.4h-2.94zM766.04 433.8h2.94V452.9h-2.94zM768.93 434.1h2.94V453.0h-2.94zM771.82 434.5h2.94V451.1h-2.94zM774.71 438.2h2.94V454.3h-2.94zM777.60 438.0h2.94V455.9h-2.94zM780.49 439.3h2.94V455.7h-2.94zM783.38 441.1h2.94V453.8h-2.94zM786.27 438.8h2.94V451.8h-2.94zM789.16 438.5h2.94V463.8h-2.94zM792.05 421.8h2.94V467.0h-2.94zM794.94 422.3h2.94V466.5h-2.94zM797.83 433.0h2.94V458.2h-2.94zM800.73 440.9h2.94V450.3h-2.94zM803.62 438.2h2.94V451.6h-2.94zM806.51 437.4h2.94V451.1h-2.94zM809.40 439.2h2.94V451.8h-2.94zM812.29 439.4h2.94V452.6h-2.94zM815.18 440.9h2.94V452.2h-2.94zM818.07 440.8h2.94V453.0h-2.94zM820.96 439.6h2.94V453.2h-2.94zM823.85 440.4h2.94V450.8h-2.94zM826.74 440.0h2.94V452.0h-2.94zM829.63 439.8h2.94V451.1h-2.94zM832.52 438.3h2.94V452.0h-2.94zM835.41 437.1h2.94V452.3h-2.94zM838.31 438.8h2.94V453.3h-2.94zM841.20 441.7h2.94V453.2h-2.94zM844.09 441.1h2.94V452.6h-2.94zM846.98 441.0h2.94V451.3h-2.94zM849.87 441.9h2.94V451.3h-2.94zM852.76 441.5h2.94V452.2h-2.94zM855.65 441.6h2.94V454.0h-2.94zM858.54 431.6h2.94V464.2h-2.94zM861.43 414.9h2.94V484.2h-2.94zM864.32 410.2h2.94V483.0h-2.94zM867.21 405.5h2.94V484.7h-2.94zM870.10 405.8h2.94V474.5h-2.94zM873.00 432.8h2.94V462.6h-2.94zM875.89 440.5h2.94V451.6h-2.94zM878.78 440.5h2.94V452.3h-2.94zM881.67 440.9h2.94V456.1h-2.94zM884.56 441.9h2.94V456.4h-2.94zM887.45 441.9h2.94V452.0h-2.94zM890.34 437.8h2.94V452.2h-2.94zM893.23 437.0h2.94V452.4h-2.94zM896.12 436.4h2.94V455.0h-2.94zM899.01 437.7h2.94V454.9h-2.94zM901.90 438.8h2.94V450.7h-2.94zM904.79 439.9h2.94V451.9h-2.94zM907.68 439.9h2.94V452.0h-2.94zM910.58 438.0h2.94V453.6h-2.94zM913.47 438.0h2.94V453.9h-2.94zM916.36 440.4h2.94V451.5h-2.94zM919.25 439.8h2.94V456.0h-2.94zM922.14 438.6h2.94V456.1h-2.94zM925.03 438.8h2.94V455.3h-2.94zM927.92 439.1h2.94V454.5h-2.94zM930.81 440.1h2.94V454.8h-2.94zM933.70 437.7h2.94V459.0h-2.94zM936.59 430.9h2.94V458.3h-2.94zM939.48 427.9h2.94V456.5h-2.94zM942.37 441.2h2.94V452.1h-2.94zM945.27 440.3h2.94V451.4h-2.94zM948.16 438.0h2.94V452.7h-2.94zM951.05 437.4h2.94V452.7h-2.94zM953.94 435.7h2.94V452.3h-2.94zM956.83 437.3h2.94V451.6h-2.94zM959.72 439.9h2.94V452.2h-2.94zM962.61 440.3h2.94V452.2h-2.94zM965.50 439.4h2.94V453.4h-2.94zM968.39 439.3h2.94V453.2h-2.94zM971.28 438.8h2.94V452.1h-2.94zM974.17 438.6h2.94V452.5h-2.94zM977.06 440.1h2.94V452.3h-2.94zM979.95 440.8h2.94V451.0h-2.94zM982.85 440.7h2.94V450.8h-2.94zM985.74 438.1h2.94V452.1h-2.94zM988.63 438.1h2.94V452.2h-2.94zM991.52 439.5h2.94V453.4h-2.94zM994.41 435.8h2.94V453.0h-2.94zM997.30 434.7h2.94V454.2h-2.94zM1000.19 435.3h2.94V454.4h-2.94zM1003.08 438.9h2.94V451.1h-2.94zM1005.97 440.7h2.94V451.7h-2.94zM1008.86 440.4h2.94V454.8h-2.94zM1011.75 440.4h2.94V454.0h-2.94zM1014.64 438.7h2.94V452.2h-2.94zM1017.54 438.3h2.94V452.2h-2.94zM1020.43 430.6h2.94V454.2h-2.94zM1023.32 400.9h2.94V495.9h-2.94zM1026.21 404.3h2.94V495.8h-2.94zM1029.10 413.0h2.94V477.0h-2.94zM1031.99 437.0h2.94V461.5h-2.94zM1034.88 435.1h2.94V462.7h-2.94zM1037.77 439.2h2.94V456.4h-2.94zM1040.66 438.2h2.94V455.9h-2.94zM1043.55 439.9h2.94V454.0h-2.94zM1046.44 441.2h2.94V451.5h-2.94zM1049.33 438.8h2.94V451.6h-2.94zM1052.22 439.8h2.94V451.5h-2.94zM1055.12 440.2h2.94V451.6h-2.94zM1058.01 440.0h2.94V451.4h-2.94zM1060.90 441.5h2.94V451.9h-2.94zM1063.79 440.0h2.94V452.3h-2.94zM1066.68 439.5h2.94V451.6h-2.94zM1069.57 440.8h2.94V452.3h-2.94zM1072.46 440.1h2.94V452.6h-2.94zM1075.35 439.5h2.94V452.9h-2.94zM1078.24 439.5h2.94V453.3h-2.94zM1081.13 438.4h2.94V452.3h-2.94zM1084.02 436.6h2.94V452.2h-2.94zM1086.91 437.9h2.94V451.1h-2.94zM1089.81 440.1h2.94V454.1h-2.94zM1092.70 433.4h2.94V461.5h-2.94zM1095.59 412.3h2.94V491.8h-2.94zM1098.48 408.9h2.94V489.3h-2.94zM1101.37 413.5h2.94V477.9h-2.94zM1104.26 434.2h2.94V457.5h-2.94zM1107.15 440.8h2.94V452.0h-2.94zM1110.04 438.9h2.94V450.6h-2.94zM1112.93 439.2h2.94V451.4h-2.94zM1115.82 439.3h2.94V450.7h-2.94zM1118.71 441.3h2.94V452.2h-2.94zM1121.60 433.2h2.94V458.1h-2.94zM1124.49 420.1h2.94V471.1h-2.94zM1127.39 421.1h2.94V471.2h-2.94zM1130.28 428.6h2.94V461.2h-2.94zM1133.17 438.3h2.94V450.8h-2.94zM1136.06 438.7h2.94V451.5h-2.94zM1138.95 441.0h2.94V451.8h-2.94zM1141.84 440.8h2.94V450.8h-2.94zM1144.73 440.6h2.94V451.3h-2.94z" fill="#0072bd"/></g>
<g filter="url(#bl2)"><rect x="746.00" y="340.30" width="424.90" height="2.80" fill="#b0b0b0"/><rect x="746.00" y="343.10" width="424.90" height="2.60" fill="#909090"/><rect x="746.00" y="555.00" width="424.90" height="3.00" fill="#222222"/><rect x="746.00" y="340.30" width="2.80" height="217.70" fill="#6a6a6a"/><rect x="1168.00" y="340.30" width="2.90" height="217.70" fill="#555555"/><rect x="980.45" y="551.40" width="2.9" height="3.60" fill="#333333"/><rect x="980.45" y="345.70" width="2.9" height="3.60" fill="#333333"/><rect x="748.80" y="393.55" width="3.60" height="2.9" fill="#333333"/><rect x="1164.40" y="393.55" width="3.60" height="2.9" fill="#333333"/><rect x="748.80" y="447.55" width="3.60" height="2.9" fill="#333333"/><rect x="1164.40" y="447.55" width="3.60" height="2.9" fill="#333333"/><rect x="748.80" y="501.55" width="3.60" height="2.9" fill="#333333"/><rect x="1164.40" y="501.55" width="3.60" height="2.9" fill="#333333"/></g><text transform="translate(747.4,624.0) scale(0.935,1)" text-anchor="middle" font-size="50">0</text><text transform="translate(981.4,624.0) scale(0.935,1)" text-anchor="middle" font-size="50">0.1</text><text transform="translate(729.2,415.8) scale(0.935,1)" text-anchor="end" font-size="50">1</text><text transform="translate(730.7,469.8) scale(0.935,1)" text-anchor="end" font-size="50">0</text><text transform="translate(729.2,523.8) scale(0.935,1)" text-anchor="end" font-size="50">-1</text><text transform="translate(730.7,577.3) scale(0.935,1)" text-anchor="end" font-size="50">-2</text>
</g>
<g id="p02">
<g filter="url(#bl)"><path d="M1322.97 484.4h2.96V493.2h-2.96zM1349.15 484.3h2.96V501.9h-2.96zM1369.52 489.2h2.96V540.0h-2.96zM1392.80 419.1h2.96V445.0h-2.96zM1398.62 496.8h2.96V504.4h-2.96zM1407.35 369.4h2.96V394.6h-2.96zM1421.90 501.2h2.96V540.7h-2.96zM1433.54 416.6h2.96V436.5h-2.96zM1439.36 495.3h2.96V512.7h-2.96zM1471.36 420.0h2.96V435.0h-2.96zM1465.54 483.8h2.96V501.8h-2.96zM1494.64 522.8h2.96V536.6h-2.96zM1549.92 388.8h2.96V396.0h-2.96zM1555.74 489.9h2.96V514.6h-2.96zM1564.47 502.3h2.96V545.0h-2.96zM1584.84 402.4h2.96V430.0h-2.96zM1599.39 484.4h2.96V513.3h-2.96zM1654.67 347.4h2.96V391.3h-2.96zM1686.68 472.6h2.96V479.9h-2.96z" fill="#0072bd" fill-opacity="0.22"/><path d="M1325.88 431.8h2.96V432.9h-2.96zM1325.88 484.4h2.96V494.7h-2.96zM1352.06 484.3h2.96V503.4h-2.96zM1366.61 525.5h2.96V541.5h-2.96zM1381.16 468.7h2.96V471.7h-2.96zM1395.71 417.6h2.96V439.9h-2.96zM1395.71 496.8h2.96V505.9h-2.96zM1410.26 367.9h2.96V394.6h-2.96zM1418.99 501.2h2.96V542.2h-2.96zM1427.72 418.8h2.96V422.2h-2.96zM1436.45 415.1h2.96V436.5h-2.96zM1436.45 498.9h2.96V514.2h-2.96zM1468.45 418.5h2.96V431.0h-2.96zM1468.45 483.9h2.96V503.3h-2.96zM1497.55 522.8h2.96V538.1h-2.96zM1526.65 405.3h2.96V410.9h-2.96zM1538.28 449.5h2.96V451.3h-2.96zM1552.83 387.3h2.96V396.0h-2.96zM1552.83 497.0h2.96V516.1h-2.96zM1567.38 514.2h2.96V546.5h-2.96zM1581.93 400.9h2.96V421.4h-2.96zM1584.84 484.6h2.96V490.3h-2.96zM1596.48 492.2h2.96V514.8h-2.96zM1651.76 345.9h2.96V391.3h-2.96zM1683.77 473.3h2.96V481.4h-2.96z" fill="#0072bd" fill-opacity="0.58"/><path d="M1305.51 473.2h2.96V474.4h-2.96zM1311.33 443.4h2.96V448.6h-2.96zM1320.06 405.3h2.96V432.9h-2.96zM1320.06 484.4h2.96V502.7h-2.96zM1334.61 354.4h2.96V395.0h-2.96zM1334.61 532.2h2.96V542.1h-2.96zM1349.15 432.8h2.96V436.7h-2.96zM1354.97 435.0h2.96V436.7h-2.96zM1366.61 400.1h2.96V414.8h-2.96zM1404.44 385.5h2.96V394.6h-2.96zM1410.26 501.8h2.96V533.2h-2.96zM1421.90 361.2h2.96V376.0h-2.96zM1424.81 501.2h2.96V508.7h-2.96zM1445.17 439.9h2.96V441.2h-2.96zM1448.08 471.9h2.96V476.2h-2.96zM1480.09 386.1h2.96V400.0h-2.96zM1480.09 502.2h2.96V513.0h-2.96zM1488.82 423.7h2.96V428.4h-2.96zM1494.64 353.0h2.96V395.9h-2.96zM1509.19 481.6h2.96V490.7h-2.96zM1512.10 431.9h2.96V444.0h-2.96zM1526.65 514.8h2.96V534.4h-2.96zM1558.65 494.0h2.96V498.5h-2.96zM1567.38 348.9h2.96V395.6h-2.96zM1579.02 498.2h2.96V506.2h-2.96zM1590.66 438.3h2.96V444.1h-2.96zM1596.48 417.3h2.96V430.5h-2.96zM1625.58 479.3h2.96V492.1h-2.96zM1631.39 405.8h2.96V425.7h-2.96zM1640.12 359.8h2.96V402.7h-2.96zM1640.12 508.1h2.96V542.7h-2.96zM1651.76 523.5h2.96V555.5h-2.96zM1669.22 424.4h2.96V434.1h-2.96zM1669.22 487.4h2.96V508.9h-2.96zM1680.86 431.6h2.96V443.2h-2.96zM1698.32 445.5h2.96V451.2h-2.96z" fill="#0072bd" fill-opacity="0.9"/><path d="M1302.60 449.5h2.96V473.2h-2.96zM1305.51 448.6h2.96V473.2h-2.96zM1308.42 448.6h2.96V470.2h-2.96zM1311.33 448.6h2.96V468.5h-2.96zM1314.24 455.7h2.96V476.3h-2.96zM1317.15 437.8h2.96V480.2h-2.96zM1320.06 432.9h2.96V484.4h-2.96zM1322.97 432.9h2.96V484.4h-2.96zM1325.88 432.9h2.96V484.4h-2.96zM1328.79 436.6h2.96V476.5h-2.96zM1331.70 417.8h2.96V514.3h-2.96zM1334.61 395.0h2.96V532.2h-2.96zM1337.52 395.0h2.96V532.2h-2.96zM1340.43 406.0h2.96V507.0h-2.96zM1343.34 439.6h2.96V489.0h-2.96zM1346.25 442.9h2.96V482.2h-2.96zM1349.15 436.7h2.96V484.3h-2.96zM1352.06 436.7h2.96V484.3h-2.96zM1354.97 436.7h2.96V483.3h-2.96zM1357.88 444.8h2.96V473.2h-2.96zM1360.79 438.6h2.96V477.6h-2.96zM1363.70 414.8h2.96V525.5h-2.96zM1366.61 414.8h2.96V525.5h-2.96zM1369.52 439.8h2.96V489.2h-2.96zM1372.43 444.9h2.96V472.1h-2.96zM1375.34 446.9h2.96V468.5h-2.96zM1378.25 446.9h2.96V467.8h-2.96zM1381.16 452.4h2.96V468.7h-2.96zM1384.07 452.7h2.96V468.7h-2.96zM1386.98 454.3h2.96V466.9h-2.96zM1389.89 452.0h2.96V471.8h-2.96zM1392.80 445.0h2.96V484.4h-2.96zM1395.71 439.9h2.96V496.8h-2.96zM1398.62 439.9h2.96V496.8h-2.96zM1401.53 444.9h2.96V477.7h-2.96zM1404.44 394.6h2.96V494.9h-2.96zM1407.35 394.6h2.96V501.8h-2.96zM1410.26 394.6h2.96V501.8h-2.96zM1413.17 427.3h2.96V484.1h-2.96zM1416.08 436.7h2.96V481.1h-2.96zM1418.99 376.0h2.96V501.2h-2.96zM1421.90 376.0h2.96V501.2h-2.96zM1424.81 422.2h2.96V501.2h-2.96zM1427.72 422.2h2.96V480.6h-2.96zM1430.63 443.0h2.96V481.3h-2.96zM1433.54 436.5h2.96V498.9h-2.96zM1436.45 436.5h2.96V498.9h-2.96zM1439.36 438.8h2.96V495.3h-2.96zM1442.26 441.2h2.96V480.9h-2.96zM1445.17 441.2h2.96V471.9h-2.96zM1448.08 451.5h2.96V471.9h-2.96zM1450.99 451.5h2.96V469.0h-2.96zM1453.90 452.5h2.96V465.3h-2.96zM1456.81 454.4h2.96V465.8h-2.96zM1459.72 454.3h2.96V466.8h-2.96zM1462.63 448.9h2.96V472.0h-2.96zM1465.54 431.0h2.96V483.8h-2.96zM1468.45 431.0h2.96V483.9h-2.96zM1471.36 435.0h2.96V483.9h-2.96zM1474.27 439.8h2.96V471.4h-2.96zM1477.18 429.5h2.96V502.2h-2.96zM1480.09 400.0h2.96V502.2h-2.96zM1483.00 400.0h2.96V490.3h-2.96zM1485.91 428.4h2.96V476.0h-2.96zM1488.82 428.4h2.96V483.0h-2.96zM1491.73 432.0h2.96V487.5h-2.96zM1494.64 395.9h2.96V522.8h-2.96zM1497.55 395.9h2.96V522.8h-2.96zM1500.46 414.1h2.96V503.7h-2.96zM1503.37 431.8h2.96V490.7h-2.96zM1506.28 439.8h2.96V481.6h-2.96zM1509.19 444.0h2.96V481.6h-2.96zM1512.10 444.0h2.96V475.1h-2.96zM1515.01 444.7h2.96V472.9h-2.96zM1517.92 447.5h2.96V473.9h-2.96zM1520.83 446.4h2.96V478.0h-2.96zM1523.74 410.9h2.96V514.8h-2.96zM1526.65 410.9h2.96V514.8h-2.96zM1529.56 424.7h2.96V486.8h-2.96zM1532.47 443.4h2.96V477.9h-2.96zM1535.37 451.3h2.96V470.8h-2.96zM1538.28 451.3h2.96V466.8h-2.96zM1541.19 454.0h2.96V467.3h-2.96zM1544.10 452.9h2.96V467.3h-2.96zM1547.01 451.2h2.96V471.7h-2.96zM1549.92 396.0h2.96V497.0h-2.96zM1552.83 396.0h2.96V497.0h-2.96zM1555.74 413.4h2.96V489.9h-2.96zM1558.65 415.8h2.96V494.0h-2.96zM1561.56 437.4h2.96V494.0h-2.96zM1564.47 417.4h2.96V502.3h-2.96zM1567.38 395.6h2.96V514.2h-2.96zM1570.29 395.6h2.96V514.2h-2.96zM1573.20 412.2h2.96V496.2h-2.96zM1576.11 420.7h2.96V498.2h-2.96zM1579.02 421.4h2.96V498.2h-2.96zM1581.93 421.4h2.96V484.6h-2.96zM1584.84 430.0h2.96V484.6h-2.96zM1587.75 444.1h2.96V480.6h-2.96zM1590.66 444.1h2.96V479.4h-2.96zM1593.57 444.7h2.96V492.2h-2.96zM1596.48 430.5h2.96V492.2h-2.96zM1599.39 430.5h2.96V484.4h-2.96zM1602.30 438.6h2.96V476.2h-2.96zM1605.21 440.2h2.96V476.1h-2.96zM1608.12 443.3h2.96V476.1h-2.96zM1611.03 449.2h2.96V468.4h-2.96zM1613.94 454.2h2.96V465.2h-2.96zM1616.85 455.1h2.96V466.2h-2.96zM1619.76 452.5h2.96V468.5h-2.96zM1622.67 449.4h2.96V478.1h-2.96zM1625.58 431.9h2.96V479.3h-2.96zM1628.48 425.7h2.96V479.3h-2.96zM1631.39 425.7h2.96V480.6h-2.96zM1634.30 434.9h2.96V493.0h-2.96zM1637.21 430.8h2.96V508.1h-2.96zM1640.12 402.7h2.96V508.1h-2.96zM1643.03 402.7h2.96V500.6h-2.96zM1645.94 415.9h2.96V489.0h-2.96zM1648.85 432.5h2.96V503.8h-2.96zM1651.76 391.3h2.96V523.5h-2.96zM1654.67 391.3h2.96V523.5h-2.96zM1657.58 406.6h2.96V502.4h-2.96zM1660.49 417.4h2.96V499.8h-2.96zM1663.40 438.7h2.96V484.5h-2.96zM1666.31 434.1h2.96V487.4h-2.96zM1669.22 434.1h2.96V487.4h-2.96zM1672.13 440.0h2.96V479.5h-2.96zM1675.04 447.3h2.96V476.0h-2.96zM1677.95 443.2h2.96V474.9h-2.96zM1680.86 443.2h2.96V473.3h-2.96zM1683.77 446.3h2.96V473.3h-2.96zM1686.68 450.0h2.96V472.6h-2.96zM1689.59 451.1h2.96V472.6h-2.96zM1692.50 452.5h2.96V470.5h-2.96zM1695.41 451.2h2.96V471.0h-2.96zM1698.32 451.2h2.96V471.0h-2.96zM1701.23 452.6h2.96V461.5h-2.96z" fill="#0072bd" fill-opacity="0.7"/><path d="M1302.60 451.4h2.96V471.2h-2.96zM1305.51 450.1h2.96V472.5h-2.96zM1308.42 450.7h2.96V468.7h-2.96zM1311.33 450.9h2.96V468.0h-2.96zM1314.24 455.8h2.96V474.6h-2.96zM1317.15 441.5h2.96V479.4h-2.96zM1320.06 434.3h2.96V481.6h-2.96zM1322.97 436.7h2.96V482.2h-2.96zM1325.88 437.4h2.96V482.3h-2.96zM1328.79 437.0h2.96V474.0h-2.96zM1331.70 424.4h2.96V511.8h-2.96zM1334.61 406.7h2.96V524.8h-2.96zM1337.52 401.3h2.96V523.8h-2.96zM1340.43 408.1h2.96V505.3h-2.96zM1343.34 440.4h2.96V485.1h-2.96zM1346.25 444.2h2.96V479.8h-2.96zM1349.15 439.2h2.96V483.6h-2.96zM1352.06 438.5h2.96V483.8h-2.96zM1354.97 440.5h2.96V482.6h-2.96zM1357.88 446.7h2.96V472.4h-2.96zM1360.79 441.0h2.96V477.6h-2.96zM1363.70 415.1h2.96V512.7h-2.96zM1366.61 417.2h2.96V515.5h-2.96zM1369.52 441.6h2.96V483.8h-2.96zM1372.43 447.3h2.96V470.3h-2.96zM1375.34 449.6h2.96V468.1h-2.96zM1378.25 447.0h2.96V467.5h-2.96zM1381.16 452.6h2.96V468.6h-2.96zM1384.07 453.6h2.96V467.3h-2.96zM1386.98 454.9h2.96V465.7h-2.96zM1389.89 453.6h2.96V471.6h-2.96zM1392.80 446.9h2.96V482.6h-2.96zM1395.71 442.6h2.96V490.0h-2.96zM1398.62 442.7h2.96V494.0h-2.96zM1401.53 446.4h2.96V477.1h-2.96zM1404.44 407.8h2.96V493.4h-2.96zM1407.35 395.1h2.96V499.7h-2.96zM1410.26 405.7h2.96V501.4h-2.96zM1413.17 432.6h2.96V480.8h-2.96zM1416.08 439.9h2.96V477.1h-2.96zM1418.99 388.8h2.96V493.7h-2.96zM1421.90 381.0h2.96V496.5h-2.96zM1424.81 423.0h2.96V498.6h-2.96zM1427.72 423.1h2.96V478.7h-2.96zM1430.63 443.6h2.96V480.3h-2.96zM1433.54 437.2h2.96V493.8h-2.96zM1436.45 441.0h2.96V497.2h-2.96zM1439.36 442.9h2.96V489.4h-2.96zM1442.26 444.7h2.96V480.4h-2.96zM1445.17 441.6h2.96V469.9h-2.96zM1448.08 452.7h2.96V470.9h-2.96zM1450.99 452.1h2.96V467.7h-2.96zM1453.90 453.4h2.96V464.8h-2.96zM1456.81 454.6h2.96V465.6h-2.96zM1459.72 454.4h2.96V466.0h-2.96zM1462.63 450.3h2.96V471.7h-2.96zM1465.54 436.3h2.96V482.5h-2.96zM1468.45 433.0h2.96V483.1h-2.96zM1471.36 437.6h2.96V482.4h-2.96zM1474.27 443.6h2.96V471.2h-2.96zM1477.18 435.6h2.96V501.7h-2.96zM1480.09 402.5h2.96V498.3h-2.96zM1483.00 403.5h2.96V488.7h-2.96zM1485.91 429.7h2.96V474.9h-2.96zM1488.82 434.9h2.96V478.9h-2.96zM1491.73 432.6h2.96V486.0h-2.96zM1494.64 396.7h2.96V513.9h-2.96zM1497.55 396.1h2.96V512.9h-2.96zM1500.46 417.3h2.96V502.5h-2.96zM1503.37 431.8h2.96V485.8h-2.96zM1506.28 442.0h2.96V480.8h-2.96zM1509.19 447.1h2.96V480.7h-2.96zM1512.10 444.5h2.96V474.6h-2.96zM1515.01 447.3h2.96V471.2h-2.96zM1517.92 448.0h2.96V473.7h-2.96zM1520.83 446.6h2.96V475.9h-2.96zM1523.74 415.9h2.96V511.9h-2.96zM1526.65 418.0h2.96V506.1h-2.96zM1529.56 428.9h2.96V485.8h-2.96zM1532.47 443.6h2.96V475.4h-2.96zM1535.37 452.1h2.96V469.4h-2.96zM1538.28 452.9h2.96V466.4h-2.96zM1541.19 455.2h2.96V466.2h-2.96zM1544.10 453.7h2.96V467.3h-2.96zM1547.01 453.0h2.96V470.7h-2.96zM1549.92 407.3h2.96V495.1h-2.96zM1552.83 400.8h2.96V492.8h-2.96zM1555.74 413.4h2.96V486.9h-2.96zM1558.65 420.4h2.96V493.2h-2.96zM1561.56 440.8h2.96V488.6h-2.96zM1564.47 424.9h2.96V499.7h-2.96zM1567.38 396.4h2.96V504.9h-2.96zM1570.29 408.1h2.96V508.9h-2.96zM1573.20 417.2h2.96V492.5h-2.96zM1576.11 425.0h2.96V498.1h-2.96zM1579.02 423.1h2.96V496.9h-2.96zM1581.93 427.8h2.96V484.5h-2.96zM1584.84 434.4h2.96V483.7h-2.96zM1587.75 444.1h2.96V478.2h-2.96zM1590.66 445.9h2.96V476.8h-2.96zM1593.57 445.0h2.96V486.8h-2.96zM1596.48 433.5h2.96V489.1h-2.96zM1599.39 432.2h2.96V483.8h-2.96zM1602.30 440.4h2.96V475.8h-2.96zM1605.21 442.7h2.96V473.5h-2.96zM1608.12 443.8h2.96V474.3h-2.96zM1611.03 450.9h2.96V468.2h-2.96zM1613.94 455.3h2.96V464.4h-2.96zM1616.85 455.5h2.96V465.8h-2.96zM1619.76 453.9h2.96V467.7h-2.96zM1622.67 450.3h2.96V474.9h-2.96zM1625.58 433.9h2.96V478.4h-2.96zM1628.48 428.1h2.96V477.7h-2.96zM1631.39 431.4h2.96V477.0h-2.96zM1634.30 439.2h2.96V487.6h-2.96zM1637.21 431.1h2.96V503.3h-2.96zM1640.12 405.6h2.96V504.2h-2.96zM1643.03 410.1h2.96V497.7h-2.96zM1645.94 420.7h2.96V488.6h-2.96zM1648.85 435.0h2.96V499.5h-2.96zM1651.76 402.2h2.96V511.8h-2.96zM1654.67 400.2h2.96V513.4h-2.96zM1657.58 416.2h2.96V495.0h-2.96zM1660.49 417.7h2.96V494.8h-2.96zM1663.40 439.8h2.96V481.3h-2.96zM1666.31 435.6h2.96V484.5h-2.96zM1669.22 435.5h2.96V484.6h-2.96zM1672.13 441.9h2.96V476.0h-2.96zM1675.04 448.0h2.96V475.0h-2.96zM1677.95 445.5h2.96V474.5h-2.96zM1680.86 446.6h2.96V472.0h-2.96zM1683.77 447.8h2.96V472.9h-2.96zM1686.68 450.3h2.96V472.3h-2.96zM1689.59 451.7h2.96V471.7h-2.96zM1692.50 453.0h2.96V470.1h-2.96zM1695.41 451.4h2.96V469.9h-2.96zM1698.32 452.4h2.96V469.9h-2.96zM1701.23 453.7h2.96V461.5h-2.96z" fill="#0072bd"/></g>
<g filter="url(#bl2)"><rect x="1301.10" y="340.30" width="428.00" height="2.80" fill="#b0b0b0"/><rect x="1301.10" y="343.10" width="428.00" height="2.60" fill="#909090"/><rect x="1301.10" y="555.00" width="428.00" height="3.00" fill="#222222"/><rect x="1301.10" y="340.30" width="2.90" height="217.70" fill="#c0c0c0"/><rect x="1304.00" y="340.30" width="3.00" height="217.70" fill="#a8a8a8"/><rect x="1723.90" y="340.30" width="2.60" height="217.70" fill="#9c9c9c"/><rect x="1726.50" y="340.30" width="2.60" height="217.70" fill="#c2c2c2"/><rect x="1537.08" y="551.40" width="2.9" height="3.60" fill="#333333"/><rect x="1537.08" y="345.70" width="2.9" height="3.60" fill="#333333"/><rect x="1307.00" y="368.05" width="3.60" height="2.9" fill="#333333"/><rect x="1720.30" y="368.05" width="3.60" height="2.9" fill="#333333"/><rect x="1307.00" y="459.55" width="3.60" height="2.9" fill="#333333"/><rect x="1720.30" y="459.55" width="3.60" height="2.9" fill="#333333"/><rect x="1307.00" y="551.55" width="3.60" height="2.9" fill="#333333"/><rect x="1720.30" y="551.55" width="3.60" height="2.9" fill="#333333"/></g><text transform="translate(1304.2,624.0) scale(0.935,1)" text-anchor="middle" font-size="50">0</text><text transform="translate(1538.0,624.0) scale(0.935,1)" text-anchor="middle" font-size="50">0.1</text><text transform="translate(1287.5,390.3) scale(0.935,1)" text-anchor="end" font-size="50">2</text><text transform="translate(1287.5,481.8) scale(0.935,1)" text-anchor="end" font-size="50">0</text><text transform="translate(1287.5,573.8) scale(0.935,1)" text-anchor="end" font-size="50">-2</text>
</g>
<g id="p10">
<g filter="url(#bl)"><path d="M199.88 795.8h2.94V815.4h-2.94zM211.45 700.8h2.94V713.4h-2.94zM217.24 822.1h2.94V836.6h-2.94zM228.81 713.0h2.94V742.3h-2.94zM251.95 694.5h2.94V713.6h-2.94zM246.16 796.7h2.94V837.4h-2.94zM275.09 849.8h2.94V867.2h-2.94zM283.77 676.3h2.94V712.2h-2.94zM289.56 714.6h2.94V734.4h-2.94zM306.91 836.1h2.94V848.3h-2.94zM312.70 671.6h2.94V678.8h-2.94zM324.27 814.3h2.94V831.4h-2.94zM361.88 811.9h2.94V857.3h-2.94zM393.70 825.8h2.94V841.5h-2.94zM396.59 695.5h2.94V714.2h-2.94zM396.59 841.1h2.94V850.5h-2.94zM439.98 690.7h2.94V709.7h-2.94zM445.77 805.2h2.94V828.7h-2.94zM468.91 819.0h2.94V835.4h-2.94zM477.59 714.5h2.94V738.1h-2.94zM486.27 697.2h2.94V716.0h-2.94zM497.84 718.3h2.94V725.6h-2.94zM497.84 816.3h2.94V843.4h-2.94zM506.52 682.2h2.94V745.8h-2.94zM520.98 716.3h2.94V728.3h-2.94zM538.34 809.7h2.94V835.7h-2.94zM567.27 803.6h2.94V823.4h-2.94zM584.63 701.8h2.94V722.8h-2.94z" fill="#0072bd" fill-opacity="0.22"/><path d="M196.99 803.4h2.94V816.9h-2.94zM208.56 699.3h2.94V713.4h-2.94zM214.34 844.0h2.94V845.8h-2.94zM220.13 822.1h2.94V838.1h-2.94zM225.91 711.5h2.94V741.7h-2.94zM249.06 693.0h2.94V713.6h-2.94zM249.06 804.2h2.94V838.9h-2.94zM272.20 849.8h2.94V868.7h-2.94zM280.88 674.8h2.94V697.8h-2.94zM286.66 812.4h2.94V818.8h-2.94zM292.45 713.1h2.94V727.9h-2.94zM304.02 836.1h2.94V849.8h-2.94zM309.81 670.1h2.94V678.8h-2.94zM321.38 814.3h2.94V832.9h-2.94zM324.27 698.8h2.94V703.3h-2.94zM338.74 720.9h2.94V726.8h-2.94zM353.20 699.6h2.94V705.7h-2.94zM364.77 833.8h2.94V858.8h-2.94zM390.81 825.8h2.94V843.0h-2.94zM399.48 694.0h2.94V714.2h-2.94zM399.48 841.1h2.94V852.0h-2.94zM442.88 689.2h2.94V709.7h-2.94zM442.88 810.2h2.94V830.2h-2.94zM466.02 710.4h2.94V714.9h-2.94zM466.02 819.0h2.94V836.9h-2.94zM474.70 713.0h2.94V727.0h-2.94zM489.16 695.7h2.94V716.0h-2.94zM494.95 716.8h2.94V725.6h-2.94zM494.95 816.3h2.94V844.9h-2.94zM509.41 680.7h2.94V719.7h-2.94zM523.88 714.8h2.94V728.3h-2.94zM535.45 816.4h2.94V837.2h-2.94zM564.38 803.6h2.94V824.9h-2.94zM570.16 729.1h2.94V734.2h-2.94zM581.73 700.3h2.94V722.8h-2.94zM590.41 726.8h2.94V732.0h-2.94z" fill="#0072bd" fill-opacity="0.58"/><path d="M191.20 729.7h2.94V743.9h-2.94zM202.77 720.7h2.94V726.3h-2.94zM205.66 821.0h2.94V838.7h-2.94zM214.34 676.5h2.94V702.1h-2.94zM231.70 805.7h2.94V808.8h-2.94zM234.59 715.8h2.94V735.2h-2.94zM243.27 714.8h2.94V739.8h-2.94zM243.27 796.7h2.94V816.7h-2.94zM257.74 829.7h2.94V840.9h-2.94zM263.52 705.3h2.94V708.2h-2.94zM263.52 829.7h2.94V832.2h-2.94zM272.20 686.8h2.94V719.4h-2.94zM304.02 695.3h2.94V717.2h-2.94zM309.81 836.1h2.94V843.1h-2.94zM332.95 715.9h2.94V738.3h-2.94zM335.84 806.3h2.94V830.7h-2.94zM350.31 824.1h2.94V837.3h-2.94zM356.09 824.1h2.94V834.3h-2.94zM367.66 690.9h2.94V700.5h-2.94zM376.34 820.4h2.94V830.2h-2.94zM379.23 685.6h2.94V696.9h-2.94zM382.13 816.6h2.94V833.8h-2.94zM390.81 693.0h2.94V704.0h-2.94zM413.95 692.8h2.94V734.7h-2.94zM413.95 801.2h2.94V810.8h-2.94zM419.73 719.8h2.94V725.7h-2.94zM422.63 819.5h2.94V824.6h-2.94zM425.52 681.6h2.94V707.1h-2.94zM428.41 819.5h2.94V847.1h-2.94zM437.09 810.2h2.94V818.9h-2.94zM451.56 690.7h2.94V699.5h-2.94zM451.56 804.4h2.94V830.2h-2.94zM457.34 805.4h2.94V813.8h-2.94zM477.59 822.1h2.94V829.9h-2.94zM489.16 810.9h2.94V832.3h-2.94zM500.73 816.3h2.94V820.8h-2.94zM503.63 718.9h2.94V733.9h-2.94zM509.41 826.8h2.94V866.3h-2.94zM515.20 717.5h2.94V719.7h-2.94zM523.88 814.7h2.94V817.8h-2.94zM535.45 705.0h2.94V715.2h-2.94zM544.13 698.4h2.94V713.3h-2.94zM544.13 797.5h2.94V831.0h-2.94zM549.91 678.0h2.94V696.9h-2.94zM549.91 841.3h2.94V878.2h-2.94zM558.59 838.1h2.94V844.3h-2.94zM564.38 716.7h2.94V726.1h-2.94zM581.73 792.8h2.94V814.2h-2.94zM590.41 790.9h2.94V797.3h-2.94z" fill="#0072bd" fill-opacity="0.9"/><path d="M191.20 743.9h2.94V792.1h-2.94zM194.09 743.9h2.94V803.4h-2.94zM196.99 747.9h2.94V803.4h-2.94zM199.88 748.9h2.94V795.8h-2.94zM202.77 726.3h2.94V805.5h-2.94zM205.66 726.3h2.94V821.0h-2.94zM208.56 713.4h2.94V821.0h-2.94zM211.45 713.4h2.94V844.0h-2.94zM214.34 702.1h2.94V844.0h-2.94zM217.24 702.1h2.94V822.1h-2.94zM220.13 730.1h2.94V822.1h-2.94zM223.02 741.7h2.94V815.3h-2.94zM225.91 741.7h2.94V806.6h-2.94zM228.81 742.3h2.94V797.9h-2.94zM231.70 735.2h2.94V805.7h-2.94zM234.59 735.2h2.94V805.7h-2.94zM237.49 738.6h2.94V788.5h-2.94zM240.38 744.5h2.94V786.9h-2.94zM243.27 739.8h2.94V796.7h-2.94zM246.16 739.8h2.94V796.7h-2.94zM249.06 713.6h2.94V804.2h-2.94zM251.95 713.6h2.94V804.2h-2.94zM254.84 741.1h2.94V791.2h-2.94zM257.74 735.9h2.94V829.7h-2.94zM260.63 708.2h2.94V829.7h-2.94zM263.52 708.2h2.94V829.7h-2.94zM266.41 727.3h2.94V802.5h-2.94zM269.31 722.3h2.94V806.7h-2.94zM272.20 719.4h2.94V849.8h-2.94zM275.09 719.4h2.94V849.8h-2.94zM277.99 697.8h2.94V847.7h-2.94zM280.88 697.8h2.94V826.8h-2.94zM283.77 712.2h2.94V803.6h-2.94zM286.66 730.6h2.94V812.4h-2.94zM289.56 734.4h2.94V812.4h-2.94zM292.45 727.9h2.94V797.6h-2.94zM295.34 727.9h2.94V797.5h-2.94zM298.24 728.3h2.94V805.5h-2.94zM301.13 717.2h2.94V809.1h-2.94zM304.02 717.2h2.94V836.1h-2.94zM306.91 719.0h2.94V836.1h-2.94zM309.81 678.8h2.94V836.1h-2.94zM312.70 678.8h2.94V811.5h-2.94zM315.59 744.0h2.94V799.2h-2.94zM318.49 734.2h2.94V805.8h-2.94zM321.38 703.3h2.94V814.3h-2.94zM324.27 703.3h2.94V814.3h-2.94zM327.16 726.2h2.94V798.1h-2.94zM330.06 738.3h2.94V785.2h-2.94zM332.95 738.3h2.94V806.3h-2.94zM335.84 738.7h2.94V806.3h-2.94zM338.74 726.8h2.94V805.8h-2.94zM341.63 726.8h2.94V791.1h-2.94zM344.52 744.3h2.94V794.2h-2.94zM347.41 727.3h2.94V813.0h-2.94zM350.31 706.3h2.94V824.1h-2.94zM353.20 705.7h2.94V824.1h-2.94zM356.09 705.7h2.94V824.1h-2.94zM358.99 731.1h2.94V798.2h-2.94zM361.88 725.2h2.94V811.9h-2.94zM364.77 700.5h2.94V833.8h-2.94zM367.66 700.5h2.94V833.8h-2.94zM370.56 712.9h2.94V815.1h-2.94zM373.45 739.3h2.94V820.4h-2.94zM376.34 696.9h2.94V820.4h-2.94zM379.23 696.9h2.94V816.6h-2.94zM382.13 709.6h2.94V816.6h-2.94zM385.02 721.8h2.94V805.3h-2.94zM387.91 716.3h2.94V808.9h-2.94zM390.81 704.0h2.94V825.8h-2.94zM393.70 704.0h2.94V825.8h-2.94zM396.59 714.2h2.94V841.1h-2.94zM399.48 714.2h2.94V841.1h-2.94zM402.38 738.1h2.94V811.0h-2.94zM405.27 752.3h2.94V808.6h-2.94zM408.16 752.4h2.94V787.8h-2.94zM411.06 734.7h2.94V783.9h-2.94zM413.95 734.7h2.94V801.2h-2.94zM416.84 736.9h2.94V801.2h-2.94zM419.73 725.7h2.94V805.1h-2.94zM422.63 725.7h2.94V819.5h-2.94zM425.52 707.1h2.94V819.5h-2.94zM428.41 707.1h2.94V819.5h-2.94zM431.31 718.1h2.94V808.1h-2.94zM434.20 736.7h2.94V798.6h-2.94zM437.09 723.9h2.94V810.2h-2.94zM439.98 709.7h2.94V810.2h-2.94zM442.88 709.7h2.94V810.2h-2.94zM445.77 740.1h2.94V805.2h-2.94zM448.66 725.3h2.94V804.4h-2.94zM451.56 699.5h2.94V804.4h-2.94zM454.45 699.5h2.94V802.6h-2.94zM457.34 699.5h2.94V805.4h-2.94zM460.23 715.8h2.94V805.4h-2.94zM463.13 714.9h2.94V804.1h-2.94zM466.02 714.9h2.94V819.0h-2.94zM468.91 726.9h2.94V819.0h-2.94zM471.81 727.0h2.94V807.9h-2.94zM474.70 727.0h2.94V822.1h-2.94zM477.59 738.1h2.94V822.1h-2.94zM480.48 740.3h2.94V789.9h-2.94zM483.38 730.3h2.94V798.2h-2.94zM486.27 716.0h2.94V810.9h-2.94zM489.16 716.0h2.94V810.9h-2.94zM492.06 726.9h2.94V800.8h-2.94zM494.95 725.6h2.94V816.3h-2.94zM497.84 725.6h2.94V816.3h-2.94zM500.73 733.9h2.94V816.3h-2.94zM503.63 733.9h2.94V792.8h-2.94zM506.52 745.8h2.94V826.8h-2.94zM509.41 719.7h2.94V826.8h-2.94zM512.31 719.7h2.94V811.5h-2.94zM515.20 719.7h2.94V791.5h-2.94zM518.09 733.8h2.94V791.7h-2.94zM520.98 728.3h2.94V814.7h-2.94zM523.88 728.3h2.94V814.7h-2.94zM526.77 733.1h2.94V791.8h-2.94zM529.66 723.7h2.94V798.0h-2.94zM532.56 715.2h2.94V816.4h-2.94zM535.45 715.2h2.94V816.4h-2.94zM538.34 725.9h2.94V809.7h-2.94zM541.23 713.3h2.94V797.5h-2.94zM544.13 713.3h2.94V797.5h-2.94zM547.02 744.2h2.94V788.1h-2.94zM549.91 696.9h2.94V841.3h-2.94zM552.81 696.9h2.94V841.3h-2.94zM555.70 706.0h2.94V838.1h-2.94zM558.59 721.7h2.94V838.1h-2.94zM561.48 726.1h2.94V777.3h-2.94zM564.38 726.1h2.94V803.6h-2.94zM567.27 734.2h2.94V803.6h-2.94zM570.16 734.2h2.94V797.6h-2.94zM573.06 743.7h2.94V788.3h-2.94zM575.95 744.5h2.94V783.3h-2.94zM578.84 742.7h2.94V792.8h-2.94zM581.73 722.8h2.94V792.8h-2.94zM584.63 722.8h2.94V791.3h-2.94zM587.52 732.0h2.94V790.9h-2.94zM590.41 732.0h2.94V790.9h-2.94z" fill="#0072bd" fill-opacity="0.7"/><path d="M191.20 745.8h2.94V789.9h-2.94zM194.09 745.4h2.94V802.9h-2.94zM196.99 748.5h2.94V798.6h-2.94zM199.88 750.1h2.94V793.7h-2.94zM202.77 733.1h2.94V799.3h-2.94zM205.66 727.5h2.94V818.2h-2.94zM208.56 720.9h2.94V817.4h-2.94zM211.45 718.1h2.94V834.3h-2.94zM214.34 713.6h2.94V838.8h-2.94zM217.24 710.6h2.94V820.2h-2.94zM220.13 736.0h2.94V814.7h-2.94zM223.02 741.9h2.94V814.9h-2.94zM225.91 743.4h2.94V803.8h-2.94zM228.81 742.5h2.94V796.2h-2.94zM231.70 736.4h2.94V799.7h-2.94zM234.59 740.2h2.94V803.9h-2.94zM237.49 741.3h2.94V786.0h-2.94zM240.38 746.3h2.94V786.9h-2.94zM243.27 741.5h2.94V796.5h-2.94zM246.16 744.9h2.94V793.5h-2.94zM249.06 715.9h2.94V798.0h-2.94zM251.95 722.0h2.94V803.7h-2.94zM254.84 745.1h2.94V789.5h-2.94zM257.74 741.5h2.94V826.3h-2.94zM260.63 709.3h2.94V818.4h-2.94zM263.52 716.7h2.94V820.9h-2.94zM266.41 734.4h2.94V798.5h-2.94zM269.31 726.6h2.94V806.3h-2.94zM272.20 728.8h2.94V847.7h-2.94zM275.09 727.1h2.94V849.1h-2.94zM277.99 708.0h2.94V835.2h-2.94zM280.88 711.8h2.94V819.6h-2.94zM283.77 718.5h2.94V801.9h-2.94zM286.66 733.5h2.94V808.9h-2.94zM289.56 735.8h2.94V809.8h-2.94zM292.45 733.5h2.94V796.3h-2.94zM295.34 729.9h2.94V794.7h-2.94zM298.24 732.0h2.94V798.8h-2.94zM301.13 720.9h2.94V806.7h-2.94zM304.02 720.7h2.94V825.3h-2.94zM306.91 724.6h2.94V826.0h-2.94zM309.81 687.2h2.94V825.9h-2.94zM312.70 694.0h2.94V810.6h-2.94zM315.59 745.5h2.94V797.1h-2.94zM318.49 735.6h2.94V805.3h-2.94zM321.38 712.7h2.94V810.3h-2.94zM324.27 707.7h2.94V810.1h-2.94zM327.16 729.4h2.94V797.1h-2.94zM330.06 738.8h2.94V785.2h-2.94zM332.95 743.1h2.94V805.7h-2.94zM335.84 744.9h2.94V802.2h-2.94zM338.74 731.0h2.94V802.7h-2.94zM341.63 728.4h2.94V788.9h-2.94zM344.52 744.3h2.94V789.7h-2.94zM347.41 732.8h2.94V807.6h-2.94zM350.31 714.6h2.94V821.4h-2.94zM353.20 707.5h2.94V823.8h-2.94zM356.09 716.5h2.94V820.9h-2.94zM358.99 732.5h2.94V794.6h-2.94zM361.88 732.7h2.94V804.1h-2.94zM364.77 712.1h2.94V824.3h-2.94zM367.66 703.1h2.94V823.2h-2.94zM370.56 716.5h2.94V811.8h-2.94zM373.45 742.6h2.94V816.7h-2.94zM376.34 700.4h2.94V820.0h-2.94zM379.23 706.0h2.94V809.0h-2.94zM382.13 720.5h2.94V807.8h-2.94zM385.02 726.6h2.94V801.7h-2.94zM387.91 718.0h2.94V806.5h-2.94zM390.81 706.1h2.94V820.9h-2.94zM393.70 716.8h2.94V824.8h-2.94zM396.59 714.6h2.94V834.9h-2.94zM399.48 723.7h2.94V829.9h-2.94zM402.38 740.8h2.94V808.7h-2.94zM405.27 754.6h2.94V804.6h-2.94zM408.16 753.9h2.94V786.6h-2.94zM411.06 737.8h2.94V782.0h-2.94zM413.95 735.9h2.94V799.4h-2.94zM416.84 739.9h2.94V797.7h-2.94zM419.73 727.4h2.94V804.5h-2.94zM422.63 729.8h2.94V809.9h-2.94zM425.52 718.0h2.94V809.8h-2.94zM428.41 714.9h2.94V811.5h-2.94zM431.31 718.7h2.94V803.0h-2.94zM434.20 740.8h2.94V796.9h-2.94zM437.09 732.7h2.94V806.4h-2.94zM439.98 717.5h2.94V807.8h-2.94zM442.88 717.9h2.94V806.6h-2.94zM445.77 740.6h2.94V800.6h-2.94zM448.66 728.7h2.94V800.4h-2.94zM451.56 707.4h2.94V801.7h-2.94zM454.45 701.1h2.94V801.4h-2.94zM457.34 707.2h2.94V804.6h-2.94zM460.23 725.2h2.94V803.6h-2.94zM463.13 716.0h2.94V800.5h-2.94zM466.02 717.4h2.94V813.4h-2.94zM468.91 727.9h2.94V814.0h-2.94zM471.81 732.1h2.94V807.3h-2.94zM474.70 730.8h2.94V813.1h-2.94zM477.59 742.7h2.94V814.2h-2.94zM480.48 741.0h2.94V785.9h-2.94zM483.38 736.1h2.94V797.6h-2.94zM486.27 724.9h2.94V807.7h-2.94zM489.16 724.3h2.94V809.8h-2.94zM492.06 733.6h2.94V800.4h-2.94zM494.95 727.5h2.94V813.6h-2.94zM497.84 731.9h2.94V812.4h-2.94zM500.73 738.4h2.94V808.3h-2.94zM503.63 740.5h2.94V788.8h-2.94zM506.52 746.6h2.94V818.3h-2.94zM509.41 728.0h2.94V825.4h-2.94zM512.31 723.5h2.94V805.4h-2.94zM515.20 727.0h2.94V791.3h-2.94zM518.09 738.2h2.94V791.3h-2.94zM520.98 732.9h2.94V807.5h-2.94zM523.88 730.4h2.94V813.0h-2.94zM526.77 736.4h2.94V788.2h-2.94zM529.66 729.1h2.94V797.4h-2.94zM532.56 715.4h2.94V815.4h-2.94zM535.45 718.4h2.94V810.1h-2.94zM538.34 729.2h2.94V808.6h-2.94zM541.23 723.2h2.94V794.5h-2.94zM544.13 724.0h2.94V797.4h-2.94zM547.02 746.0h2.94V787.5h-2.94zM549.91 708.6h2.94V840.8h-2.94zM552.81 699.5h2.94V829.6h-2.94zM555.70 714.7h2.94V832.7h-2.94zM558.59 723.3h2.94V826.6h-2.94zM561.48 729.5h2.94V776.0h-2.94zM564.38 728.0h2.94V797.6h-2.94zM567.27 738.4h2.94V803.3h-2.94zM570.16 736.7h2.94V795.0h-2.94zM573.06 746.7h2.94V786.8h-2.94zM575.95 746.3h2.94V783.3h-2.94zM578.84 745.8h2.94V791.2h-2.94zM581.73 723.3h2.94V792.1h-2.94zM584.63 729.2h2.94V790.2h-2.94zM587.52 734.0h2.94V788.8h-2.94zM590.41 736.0h2.94V786.9h-2.94z" fill="#0072bd"/></g>
<g filter="url(#bl2)"><rect x="190.40" y="666.00" width="427.70" height="2.80" fill="#b8b8b8"/><rect x="190.40" y="668.80" width="427.70" height="2.80" fill="#777777"/><rect x="190.40" y="878.10" width="427.70" height="2.80" fill="#dcdcdc"/><rect x="190.40" y="880.90" width="427.70" height="2.80" fill="#6a6a6a"/><rect x="190.40" y="883.70" width="427.70" height="2.30" fill="#eeeeee"/><rect x="190.40" y="666.00" width="2.70" height="220.00" fill="#5f5f5f"/><rect x="193.10" y="666.00" width="3.00" height="220.00" fill="#a8a8a8"/><rect x="612.90" y="666.00" width="2.60" height="220.00" fill="#6a6a6a"/><rect x="615.50" y="666.00" width="2.60" height="220.00" fill="#a0a0a0"/><rect x="426.02" y="874.50" width="2.9" height="3.60" fill="#333333"/><rect x="426.02" y="671.60" width="2.9" height="3.60" fill="#333333"/><rect x="196.10" y="719.55" width="3.60" height="2.9" fill="#333333"/><rect x="609.30" y="719.55" width="3.60" height="2.9" fill="#333333"/><rect x="196.10" y="768.55" width="3.60" height="2.9" fill="#333333"/><rect x="609.30" y="768.55" width="3.60" height="2.9" fill="#333333"/><rect x="196.10" y="818.05" width="3.60" height="2.9" fill="#333333"/><rect x="609.30" y="818.05" width="3.60" height="2.9" fill="#333333"/><rect x="196.10" y="866.55" width="3.60" height="2.9" fill="#333333"/><rect x="609.30" y="866.55" width="3.60" height="2.9" fill="#333333"/></g><text transform="translate(192.8,949.8) scale(0.935,1)" text-anchor="middle" font-size="50">0</text><text transform="translate(427.0,949.8) scale(0.935,1)" text-anchor="middle" font-size="50">0.1</text><text transform="translate(176.1,693.3) scale(0.935,1)" text-anchor="end" font-size="50">0.4</text><text transform="translate(176.1,741.8) scale(0.935,1)" text-anchor="end" font-size="50">0.2</text><text transform="translate(176.1,790.8) scale(0.935,1)" text-anchor="end" font-size="50">0</text><text transform="translate(176.1,840.3) scale(0.935,1)" text-anchor="end" font-size="50">-0.2</text><text transform="translate(176.1,888.8) scale(0.935,1)" text-anchor="end" font-size="50">-0.4</text>
</g>
<g id="p11">
<g filter="url(#bl)"><path d="M780.49 816.7h2.94V848.2h-2.94zM812.29 818.7h2.94V826.9h-2.94zM826.74 673.3h2.94V721.5h-2.94zM835.41 708.6h2.94V717.0h-2.94zM832.52 839.6h2.94V853.4h-2.94zM881.67 809.3h2.94V845.2h-2.94zM901.90 744.8h2.94V761.8h-2.94zM1023.32 736.5h2.94V752.5h-2.94zM1029.10 801.1h2.94V821.2h-2.94zM1046.44 690.6h2.94V711.6h-2.94z" fill="#0072bd" fill-opacity="0.22"/><path d="M763.14 787.4h2.94V791.5h-2.94zM783.38 816.7h2.94V849.7h-2.94zM815.18 818.7h2.94V828.4h-2.94zM823.85 671.8h2.94V721.5h-2.94zM832.52 707.1h2.94V717.0h-2.94zM835.41 839.6h2.94V854.9h-2.94zM858.54 763.6h2.94V768.2h-2.94zM878.78 830.5h2.94V846.7h-2.94zM893.23 756.6h2.94V761.9h-2.94zM899.01 743.3h2.94V761.8h-2.94zM933.70 795.9h2.94V799.6h-2.94zM959.72 804.4h2.94V808.6h-2.94zM977.06 786.8h2.94V793.5h-2.94zM988.63 759.9h2.94V767.7h-2.94zM994.41 765.0h2.94V767.7h-2.94zM1011.75 799.5h2.94V803.1h-2.94zM1026.21 735.0h2.94V752.2h-2.94zM1026.21 801.1h2.94V822.7h-2.94zM1043.55 689.1h2.94V711.6h-2.94zM1060.90 832.5h2.94V838.0h-2.94zM1069.57 751.2h2.94V754.2h-2.94zM1115.82 760.8h2.94V765.1h-2.94zM1133.17 765.9h2.94V767.5h-2.94zM1133.17 793.0h2.94V794.5h-2.94zM1141.84 793.3h2.94V796.4h-2.94z" fill="#0072bd" fill-opacity="0.58"/><path d="M745.80 764.6h2.94V769.7h-2.94zM751.58 763.3h2.94V769.7h-2.94zM751.58 795.0h2.94V800.9h-2.94zM763.14 765.6h2.94V771.0h-2.94zM783.38 720.4h2.94V726.2h-2.94zM797.83 748.2h2.94V758.1h-2.94zM797.83 794.4h2.94V805.3h-2.94zM812.29 746.2h2.94V754.1h-2.94zM818.07 747.8h2.94V754.1h-2.94zM823.85 854.9h2.94V879.1h-2.94zM841.20 737.5h2.94V747.1h-2.94zM855.65 795.5h2.94V801.5h-2.94zM864.32 761.9h2.94V766.3h-2.94zM878.78 705.4h2.94V714.9h-2.94zM890.34 792.1h2.94V796.7h-2.94zM899.01 802.6h2.94V810.9h-2.94zM910.58 751.5h2.94V754.8h-2.94zM913.47 800.2h2.94V811.8h-2.94zM919.25 799.0h2.94V802.5h-2.94zM927.92 748.7h2.94V761.6h-2.94zM927.92 795.9h2.94V797.7h-2.94zM945.27 683.2h2.94V716.6h-2.94zM945.27 860.6h2.94V868.5h-2.94zM965.50 761.5h2.94V766.3h-2.94zM979.95 757.0h2.94V765.2h-2.94zM982.85 789.0h2.94V790.3h-2.94zM988.63 789.7h2.94V798.2h-2.94zM997.30 793.1h2.94V798.1h-2.94zM1008.86 761.9h2.94V767.1h-2.94zM1017.54 757.4h2.94V758.7h-2.94zM1034.88 757.1h2.94V761.9h-2.94zM1043.55 841.7h2.94V874.0h-2.94zM1060.90 719.5h2.94V724.7h-2.94zM1075.35 734.4h2.94V744.5h-2.94zM1075.35 807.3h2.94V819.6h-2.94zM1081.13 725.5h2.94V744.3h-2.94zM1084.02 799.4h2.94V805.7h-2.94zM1095.59 746.2h2.94V749.0h-2.94zM1101.37 744.0h2.94V749.0h-2.94zM1101.37 809.6h2.94V817.5h-2.94zM1115.82 789.3h2.94V797.6h-2.94zM1144.73 765.5h2.94V768.0h-2.94z" fill="#0072bd" fill-opacity="0.9"/><path d="M745.80 769.7h2.94V788.5h-2.94zM748.69 769.7h2.94V794.3h-2.94zM751.58 769.7h2.94V795.0h-2.94zM754.47 770.0h2.94V795.0h-2.94zM757.36 774.3h2.94V793.0h-2.94zM760.25 771.0h2.94V787.4h-2.94zM763.14 771.0h2.94V787.4h-2.94zM766.04 771.2h2.94V783.7h-2.94zM768.93 772.8h2.94V787.2h-2.94zM771.82 772.7h2.94V794.6h-2.94zM774.71 769.5h2.94V794.6h-2.94zM777.60 761.5h2.94V804.4h-2.94zM780.49 726.2h2.94V816.7h-2.94zM783.38 726.2h2.94V816.7h-2.94zM786.27 749.4h2.94V811.7h-2.94zM789.16 756.1h2.94V801.8h-2.94zM792.05 756.8h2.94V798.3h-2.94zM794.94 758.1h2.94V794.4h-2.94zM797.83 758.1h2.94V794.4h-2.94zM800.73 765.0h2.94V793.4h-2.94zM803.62 770.4h2.94V789.7h-2.94zM806.51 769.8h2.94V794.7h-2.94zM809.40 763.6h2.94V796.4h-2.94zM812.29 754.1h2.94V818.7h-2.94zM815.18 754.1h2.94V818.7h-2.94zM818.07 754.1h2.94V806.2h-2.94zM820.96 755.5h2.94V802.7h-2.94zM823.85 721.5h2.94V854.9h-2.94zM826.74 721.5h2.94V854.9h-2.94zM829.63 723.0h2.94V839.5h-2.94zM832.52 717.0h2.94V839.6h-2.94zM835.41 717.0h2.94V839.6h-2.94zM838.31 747.1h2.94V824.2h-2.94zM841.20 747.1h2.94V808.9h-2.94zM844.09 758.6h2.94V793.5h-2.94zM846.98 769.7h2.94V787.0h-2.94zM849.87 770.9h2.94V790.1h-2.94zM852.76 771.5h2.94V791.6h-2.94zM855.65 768.2h2.94V795.5h-2.94zM858.54 768.2h2.94V795.5h-2.94zM861.43 769.7h2.94V791.7h-2.94zM864.32 766.3h2.94V787.2h-2.94zM867.21 766.3h2.94V789.6h-2.94zM870.10 769.3h2.94V789.6h-2.94zM873.00 769.5h2.94V797.9h-2.94zM875.89 714.9h2.94V830.5h-2.94zM878.78 714.9h2.94V830.5h-2.94zM881.67 745.1h2.94V809.3h-2.94zM884.56 768.2h2.94V787.0h-2.94zM887.45 769.1h2.94V788.1h-2.94zM890.34 764.0h2.94V792.1h-2.94zM893.23 761.9h2.94V792.1h-2.94zM896.12 761.9h2.94V799.6h-2.94zM899.01 761.8h2.94V802.6h-2.94zM901.90 761.8h2.94V802.6h-2.94zM904.79 766.3h2.94V798.3h-2.94zM907.68 766.3h2.94V794.7h-2.94zM910.58 754.8h2.94V800.2h-2.94zM913.47 754.8h2.94V800.2h-2.94zM916.36 754.9h2.94V799.0h-2.94zM919.25 754.9h2.94V799.0h-2.94zM922.14 765.9h2.94V790.1h-2.94zM925.03 762.0h2.94V793.0h-2.94zM927.92 761.6h2.94V795.9h-2.94zM930.81 761.6h2.94V795.9h-2.94zM933.70 766.6h2.94V795.9h-2.94zM936.59 760.3h2.94V791.9h-2.94zM939.48 748.9h2.94V791.7h-2.94zM942.37 721.7h2.94V860.6h-2.94zM945.27 716.6h2.94V860.6h-2.94zM948.16 716.6h2.94V845.2h-2.94zM951.05 726.2h2.94V830.7h-2.94zM953.94 748.9h2.94V804.6h-2.94zM956.83 753.4h2.94V804.4h-2.94zM959.72 760.4h2.94V804.4h-2.94zM962.61 766.3h2.94V803.7h-2.94zM965.50 766.3h2.94V803.2h-2.94zM968.39 768.1h2.94V790.9h-2.94zM971.28 772.8h2.94V788.3h-2.94zM974.17 768.2h2.94V786.8h-2.94zM977.06 767.8h2.94V786.8h-2.94zM979.95 765.2h2.94V786.8h-2.94zM982.85 765.2h2.94V789.0h-2.94zM985.74 771.2h2.94V789.0h-2.94zM988.63 767.7h2.94V789.7h-2.94zM991.52 767.7h2.94V789.7h-2.94zM994.41 767.7h2.94V793.1h-2.94zM997.30 768.9h2.94V793.1h-2.94zM1000.19 771.5h2.94V788.2h-2.94zM1003.08 772.8h2.94V788.5h-2.94zM1005.97 769.0h2.94V789.4h-2.94zM1008.86 767.1h2.94V791.8h-2.94zM1011.75 767.1h2.94V799.5h-2.94zM1014.64 763.5h2.94V799.5h-2.94zM1017.54 758.7h2.94V797.6h-2.94zM1020.43 758.7h2.94V789.5h-2.94zM1023.32 752.5h2.94V790.2h-2.94zM1026.21 752.2h2.94V801.1h-2.94zM1029.10 752.2h2.94V801.1h-2.94zM1031.99 761.9h2.94V800.5h-2.94zM1034.88 761.9h2.94V797.8h-2.94zM1037.77 762.1h2.94V809.8h-2.94zM1040.66 729.4h2.94V839.5h-2.94zM1043.55 711.6h2.94V841.7h-2.94zM1046.44 711.6h2.94V841.7h-2.94zM1049.33 740.4h2.94V810.3h-2.94zM1052.22 752.9h2.94V810.3h-2.94zM1055.12 755.2h2.94V803.1h-2.94zM1058.01 743.1h2.94V818.4h-2.94zM1060.90 724.7h2.94V832.5h-2.94zM1063.79 724.7h2.94V832.5h-2.94zM1066.68 754.2h2.94V802.4h-2.94zM1069.57 754.2h2.94V793.4h-2.94zM1072.46 754.7h2.94V797.1h-2.94zM1075.35 744.5h2.94V807.3h-2.94zM1078.24 744.5h2.94V807.3h-2.94zM1081.13 744.3h2.94V799.4h-2.94zM1084.02 744.3h2.94V799.4h-2.94zM1086.91 758.6h2.94V796.4h-2.94zM1089.81 768.0h2.94V793.9h-2.94zM1092.70 760.8h2.94V793.2h-2.94zM1095.59 749.0h2.94V804.8h-2.94zM1098.48 749.0h2.94V809.6h-2.94zM1101.37 749.0h2.94V809.6h-2.94zM1104.26 752.1h2.94V801.3h-2.94zM1107.15 752.1h2.94V790.2h-2.94zM1110.04 767.9h2.94V788.4h-2.94zM1112.93 768.5h2.94V789.1h-2.94zM1115.82 765.1h2.94V789.3h-2.94zM1118.71 765.1h2.94V789.3h-2.94zM1121.60 768.1h2.94V789.9h-2.94zM1124.49 771.2h2.94V789.9h-2.94zM1127.39 768.0h2.94V788.0h-2.94zM1130.28 767.5h2.94V790.0h-2.94zM1133.17 767.5h2.94V793.0h-2.94zM1136.06 771.3h2.94V793.0h-2.94zM1138.95 769.8h2.94V793.3h-2.94zM1141.84 768.0h2.94V793.3h-2.94zM1144.73 768.0h2.94V787.0h-2.94z" fill="#0072bd" fill-opacity="0.7"/><path d="M745.80 771.5h2.94V786.8h-2.94zM748.69 771.0h2.94V793.1h-2.94zM751.58 771.5h2.94V793.8h-2.94zM754.47 770.7h2.94V793.7h-2.94zM757.36 774.4h2.94V790.2h-2.94zM760.25 771.0h2.94V786.4h-2.94zM763.14 772.0h2.94V786.7h-2.94zM766.04 771.5h2.94V783.5h-2.94zM768.93 773.0h2.94V785.8h-2.94zM771.82 773.7h2.94V791.8h-2.94zM774.71 769.6h2.94V792.4h-2.94zM777.60 762.6h2.94V801.2h-2.94zM780.49 732.0h2.94V814.3h-2.94zM783.38 735.2h2.94V812.8h-2.94zM786.27 752.9h2.94V805.2h-2.94zM789.16 757.2h2.94V798.9h-2.94zM792.05 760.1h2.94V796.8h-2.94zM794.94 761.1h2.94V793.1h-2.94zM797.83 760.9h2.94V793.4h-2.94zM800.73 766.8h2.94V791.8h-2.94zM803.62 770.8h2.94V788.4h-2.94zM806.51 770.3h2.94V791.9h-2.94zM809.40 765.1h2.94V793.9h-2.94zM812.29 756.4h2.94V816.9h-2.94zM815.18 756.7h2.94V814.5h-2.94zM818.07 758.1h2.94V804.9h-2.94zM820.96 756.3h2.94V798.8h-2.94zM823.85 731.8h2.94V841.7h-2.94zM826.74 722.0h2.94V849.1h-2.94zM829.63 732.3h2.94V829.6h-2.94zM832.52 720.1h2.94V838.4h-2.94zM835.41 723.5h2.94V834.1h-2.94zM838.31 747.7h2.94V820.6h-2.94zM841.20 751.5h2.94V806.2h-2.94zM844.09 760.6h2.94V791.2h-2.94zM846.98 771.1h2.94V786.8h-2.94zM849.87 772.0h2.94V789.3h-2.94zM852.76 772.3h2.94V791.0h-2.94zM855.65 768.9h2.94V794.3h-2.94zM858.54 768.6h2.94V793.6h-2.94zM861.43 769.8h2.94V791.3h-2.94zM864.32 767.0h2.94V786.7h-2.94zM867.21 766.9h2.94V787.8h-2.94zM870.10 769.5h2.94V788.3h-2.94zM873.00 771.1h2.94V797.2h-2.94zM875.89 720.4h2.94V822.3h-2.94zM878.78 720.6h2.94V826.7h-2.94zM881.67 749.9h2.94V807.5h-2.94zM884.56 769.1h2.94V786.0h-2.94zM887.45 770.7h2.94V787.5h-2.94zM890.34 765.7h2.94V789.7h-2.94zM893.23 765.2h2.94V790.2h-2.94zM896.12 763.1h2.94V796.9h-2.94zM899.01 763.1h2.94V800.1h-2.94zM901.90 763.5h2.94V798.4h-2.94zM904.79 768.2h2.94V798.2h-2.94zM907.68 767.8h2.94V793.2h-2.94zM910.58 758.9h2.94V798.5h-2.94zM913.47 759.1h2.94V798.3h-2.94zM916.36 757.3h2.94V796.9h-2.94zM919.25 758.1h2.94V796.0h-2.94zM922.14 766.9h2.94V790.0h-2.94zM925.03 764.3h2.94V791.4h-2.94zM927.92 762.0h2.94V795.2h-2.94zM930.81 761.9h2.94V793.2h-2.94zM933.70 766.8h2.94V793.4h-2.94zM936.59 762.4h2.94V791.7h-2.94zM939.48 753.0h2.94V789.9h-2.94zM942.37 727.3h2.94V859.7h-2.94zM945.27 723.9h2.94V844.3h-2.94zM948.16 726.8h2.94V833.6h-2.94zM951.05 727.7h2.94V827.3h-2.94zM953.94 752.0h2.94V804.5h-2.94zM956.83 758.5h2.94V803.0h-2.94zM959.72 761.6h2.94V803.1h-2.94zM962.61 768.5h2.94V801.0h-2.94zM965.50 767.3h2.94V802.9h-2.94zM968.39 768.8h2.94V788.9h-2.94zM971.28 773.8h2.94V786.7h-2.94zM974.17 768.8h2.94V786.4h-2.94zM977.06 769.0h2.94V786.2h-2.94zM979.95 766.6h2.94V785.9h-2.94zM982.85 767.4h2.94V788.6h-2.94zM985.74 772.6h2.94V787.9h-2.94zM988.63 768.9h2.94V788.9h-2.94zM991.52 769.0h2.94V789.1h-2.94zM994.41 769.5h2.94V792.2h-2.94zM997.30 770.5h2.94V791.4h-2.94zM1000.19 772.2h2.94V786.5h-2.94zM1003.08 773.4h2.94V786.8h-2.94zM1005.97 769.1h2.94V788.5h-2.94zM1008.86 767.2h2.94V789.6h-2.94zM1011.75 768.5h2.94V798.8h-2.94zM1014.64 766.4h2.94V797.2h-2.94zM1017.54 760.7h2.94V795.1h-2.94zM1020.43 761.4h2.94V788.8h-2.94zM1023.32 753.6h2.94V788.3h-2.94zM1026.21 752.7h2.94V797.6h-2.94zM1029.10 757.3h2.94V799.2h-2.94zM1031.99 764.1h2.94V799.4h-2.94zM1034.88 764.2h2.94V797.2h-2.94zM1037.77 762.3h2.94V805.5h-2.94zM1040.66 729.8h2.94V829.4h-2.94zM1043.55 715.9h2.94V834.7h-2.94zM1046.44 713.7h2.94V830.3h-2.94zM1049.33 742.9h2.94V805.1h-2.94zM1052.22 753.7h2.94V805.3h-2.94zM1055.12 759.9h2.94V801.2h-2.94zM1058.01 743.3h2.94V815.4h-2.94zM1060.90 730.7h2.94V831.5h-2.94zM1063.79 729.8h2.94V824.7h-2.94zM1066.68 756.4h2.94V799.2h-2.94zM1069.57 758.4h2.94V793.0h-2.94zM1072.46 759.2h2.94V793.5h-2.94zM1075.35 746.5h2.94V805.3h-2.94zM1078.24 749.7h2.94V804.5h-2.94zM1081.13 745.0h2.94V797.4h-2.94zM1084.02 748.5h2.94V797.2h-2.94zM1086.91 758.9h2.94V795.9h-2.94zM1089.81 768.6h2.94V791.2h-2.94zM1092.70 763.9h2.94V792.5h-2.94zM1095.59 749.2h2.94V801.7h-2.94zM1098.48 754.8h2.94V807.5h-2.94zM1101.37 749.3h2.94V807.6h-2.94zM1104.26 754.5h2.94V800.2h-2.94zM1107.15 756.1h2.94V789.8h-2.94zM1110.04 769.7h2.94V787.8h-2.94zM1112.93 768.7h2.94V787.9h-2.94zM1115.82 767.3h2.94V788.0h-2.94zM1118.71 766.4h2.94V789.2h-2.94zM1121.60 769.2h2.94V789.7h-2.94zM1124.49 772.2h2.94V789.6h-2.94zM1127.39 769.3h2.94V787.4h-2.94zM1130.28 768.4h2.94V788.6h-2.94zM1133.17 769.7h2.94V792.1h-2.94zM1136.06 772.6h2.94V790.6h-2.94zM1138.95 770.7h2.94V792.8h-2.94zM1141.84 769.9h2.94V792.9h-2.94zM1144.73 769.2h2.94V786.8h-2.94z" fill="#0072bd"/></g>
<g filter="url(#bl2)"><rect x="746.00" y="666.00" width="424.90" height="2.80" fill="#b8b8b8"/><rect x="746.00" y="668.80" width="424.90" height="2.80" fill="#777777"/><rect x="746.00" y="878.10" width="424.90" height="2.80" fill="#dcdcdc"/><rect x="746.00" y="880.90" width="424.90" height="2.80" fill="#6a6a6a"/><rect x="746.00" y="883.70" width="424.90" height="2.30" fill="#eeeeee"/><rect x="746.00" y="666.00" width="2.80" height="220.00" fill="#6a6a6a"/><rect x="1168.00" y="666.00" width="2.90" height="220.00" fill="#555555"/><rect x="980.45" y="874.50" width="2.9" height="3.60" fill="#333333"/><rect x="980.45" y="671.60" width="2.9" height="3.60" fill="#333333"/><rect x="748.80" y="682.55" width="3.60" height="2.9" fill="#333333"/><rect x="1164.40" y="682.55" width="3.60" height="2.9" fill="#333333"/><rect x="748.80" y="779.55" width="3.60" height="2.9" fill="#333333"/><rect x="1164.40" y="779.55" width="3.60" height="2.9" fill="#333333"/></g><text transform="translate(747.4,949.8) scale(0.935,1)" text-anchor="middle" font-size="50">0</text><text transform="translate(981.4,949.8) scale(0.935,1)" text-anchor="middle" font-size="50">0.1</text><text transform="translate(729.2,704.8) scale(0.935,1)" text-anchor="end" font-size="50">1</text><text transform="translate(730.7,801.8) scale(0.935,1)" text-anchor="end" font-size="50">0</text><text transform="translate(729.2,898.3) scale(0.935,1)" text-anchor="end" font-size="50">-1</text>
</g>
<g id="p12">
<g filter="url(#bl)"><path d="M1320.06 821.2h2.96V842.6h-2.96zM1381.16 736.8h2.96V747.1h-2.96zM1404.44 801.4h2.96V818.6h-2.96zM1407.35 798.7h2.96V805.7h-2.96zM1421.90 719.5h2.96V734.4h-2.96zM1421.90 814.0h2.96V826.6h-2.96zM1436.45 670.9h2.96V708.0h-2.96zM1436.45 854.5h2.96V876.2h-2.96zM1456.81 741.6h2.96V758.4h-2.96zM1462.63 800.6h2.96V833.8h-2.96zM1468.45 812.8h2.96V821.5h-2.96zM1474.27 747.8h2.96V772.8h-2.96zM1485.91 817.9h2.96V824.4h-2.96zM1488.82 728.6h2.96V752.3h-2.96zM1500.46 812.7h2.96V830.5h-2.96zM1503.37 727.5h2.96V745.8h-2.96zM1517.92 809.3h2.96V826.1h-2.96zM1523.74 706.2h2.96V729.6h-2.96zM1523.74 843.0h2.96V854.4h-2.96zM1529.56 822.7h2.96V854.7h-2.96zM1558.65 733.1h2.96V752.3h-2.96zM1567.38 808.3h2.96V819.4h-2.96zM1567.38 725.1h2.96V734.2h-2.96zM1570.29 809.4h2.96V837.3h-2.96zM1587.75 735.6h2.96V758.4h-2.96zM1613.94 743.8h2.96V758.4h-2.96zM1619.76 793.5h2.96V826.0h-2.96zM1625.58 805.4h2.96V825.7h-2.96zM1637.21 823.9h2.96V845.7h-2.96zM1648.85 807.0h2.96V825.9h-2.96zM1654.67 809.6h2.96V823.9h-2.96zM1663.40 865.1h2.96V877.5h-2.96zM1686.68 720.3h2.96V749.4h-2.96zM1680.86 831.0h2.96V844.4h-2.96z" fill="#0072bd" fill-opacity="0.22"/><path d="M1302.60 728.7h2.96V757.3h-2.96zM1302.60 802.5h2.96V811.8h-2.96zM1317.15 830.1h2.96V844.1h-2.96zM1378.25 735.3h2.96V747.1h-2.96zM1384.07 798.7h2.96V806.3h-2.96zM1386.98 752.2h2.96V756.8h-2.96zM1401.53 801.4h2.96V820.1h-2.96zM1410.26 798.7h2.96V807.2h-2.96zM1418.99 718.0h2.96V734.4h-2.96zM1424.81 814.0h2.96V828.1h-2.96zM1433.54 669.4h2.96V708.0h-2.96zM1433.54 854.5h2.96V877.7h-2.96zM1453.90 740.1h2.96V750.1h-2.96zM1459.72 810.1h2.96V835.3h-2.96zM1465.54 812.8h2.96V823.0h-2.96zM1471.36 746.3h2.96V757.4h-2.96zM1483.00 817.9h2.96V825.9h-2.96zM1485.91 727.1h2.96V738.4h-2.96zM1497.55 812.7h2.96V832.0h-2.96zM1506.28 726.0h2.96V742.3h-2.96zM1515.01 809.3h2.96V827.6h-2.96zM1520.83 704.7h2.96V729.6h-2.96zM1520.83 843.0h2.96V855.9h-2.96zM1526.65 843.0h2.96V856.2h-2.96zM1541.19 739.8h2.96V745.4h-2.96zM1555.74 731.6h2.96V749.8h-2.96zM1564.47 810.9h2.96V820.9h-2.96zM1570.29 723.6h2.96V734.2h-2.96zM1573.20 819.4h2.96V838.8h-2.96zM1584.84 734.1h2.96V752.7h-2.96zM1605.21 808.4h2.96V813.5h-2.96zM1611.03 742.3h2.96V757.5h-2.96zM1616.85 804.0h2.96V827.5h-2.96zM1622.67 805.4h2.96V827.2h-2.96zM1640.12 823.9h2.96V847.2h-2.96zM1645.94 812.8h2.96V827.4h-2.96zM1654.67 729.6h2.96V731.3h-2.96zM1657.58 815.5h2.96V825.4h-2.96zM1666.31 865.1h2.96V879.0h-2.96zM1683.77 718.8h2.96V735.0h-2.96zM1683.77 831.0h2.96V845.9h-2.96zM1701.23 809.7h2.96V823.4h-2.96z" fill="#0072bd" fill-opacity="0.58"/><path d="M1314.24 721.1h2.96V733.9h-2.96zM1320.06 724.1h2.96V730.8h-2.96zM1325.88 817.9h2.96V854.0h-2.96zM1328.79 741.6h2.96V745.5h-2.96zM1334.61 734.9h2.96V743.0h-2.96zM1334.61 805.6h2.96V816.0h-2.96zM1346.25 693.3h2.96V703.4h-2.96zM1346.25 840.9h2.96V843.9h-2.96zM1352.06 840.9h2.96V847.2h-2.96zM1360.79 839.8h2.96V853.1h-2.96zM1363.70 708.4h2.96V723.0h-2.96zM1372.43 809.4h2.96V810.8h-2.96zM1392.80 743.5h2.96V753.2h-2.96zM1392.80 804.6h2.96V808.6h-2.96zM1401.53 752.7h2.96V756.8h-2.96zM1413.17 752.0h2.96V755.3h-2.96zM1418.99 814.0h2.96V842.5h-2.96zM1424.81 729.7h2.96V734.4h-2.96zM1439.36 854.5h2.96V859.0h-2.96zM1448.08 737.2h2.96V749.2h-2.96zM1448.08 820.7h2.96V845.7h-2.96zM1462.63 745.4h2.96V751.1h-2.96zM1488.82 817.9h2.96V820.7h-2.96zM1494.64 726.2h2.96V740.9h-2.96zM1506.28 824.9h2.96V836.7h-2.96zM1526.65 706.9h2.96V729.1h-2.96zM1535.37 735.6h2.96V747.2h-2.96zM1541.19 803.0h2.96V817.1h-2.96zM1547.01 807.2h2.96V828.2h-2.96zM1558.65 818.8h2.96V828.2h-2.96zM1579.02 711.7h2.96V737.0h-2.96zM1579.02 819.4h2.96V830.2h-2.96zM1590.66 832.4h2.96V879.2h-2.96zM1593.57 669.7h2.96V707.3h-2.96zM1596.48 832.4h2.96V840.0h-2.96zM1616.85 743.3h2.96V758.4h-2.96zM1628.48 731.5h2.96V744.0h-2.96zM1634.30 823.9h2.96V830.5h-2.96zM1637.21 710.0h2.96V734.4h-2.96zM1648.85 713.3h2.96V725.6h-2.96zM1651.76 809.6h2.96V814.3h-2.96zM1660.49 727.3h2.96V742.4h-2.96zM1669.22 686.8h2.96V694.5h-2.96zM1677.95 831.0h2.96V835.9h-2.96zM1695.41 809.7h2.96V822.4h-2.96zM1701.23 724.0h2.96V738.4h-2.96z" fill="#0072bd" fill-opacity="0.9"/><path d="M1302.60 757.3h2.96V802.5h-2.96zM1305.51 757.3h2.96V802.5h-2.96zM1308.42 761.6h2.96V801.0h-2.96zM1311.33 758.6h2.96V806.0h-2.96zM1314.24 733.9h2.96V830.1h-2.96zM1317.15 733.9h2.96V830.1h-2.96zM1320.06 730.8h2.96V821.2h-2.96zM1322.97 730.8h2.96V811.4h-2.96zM1325.88 749.9h2.96V817.9h-2.96zM1328.79 745.5h2.96V817.9h-2.96zM1331.70 745.5h2.96V805.2h-2.96zM1334.61 743.0h2.96V805.6h-2.96zM1337.52 743.0h2.96V805.6h-2.96zM1340.43 746.6h2.96V804.0h-2.96zM1343.34 722.5h2.96V827.1h-2.96zM1346.25 703.4h2.96V840.9h-2.96zM1349.15 703.4h2.96V840.9h-2.96zM1352.06 712.7h2.96V840.9h-2.96zM1354.97 752.1h2.96V816.8h-2.96zM1357.88 724.5h2.96V832.0h-2.96zM1360.79 723.0h2.96V839.8h-2.96zM1363.70 723.0h2.96V839.8h-2.96zM1366.61 747.0h2.96V830.3h-2.96zM1369.52 762.0h2.96V809.4h-2.96zM1372.43 755.5h2.96V809.4h-2.96zM1375.34 751.6h2.96V800.4h-2.96zM1378.25 747.1h2.96V800.4h-2.96zM1381.16 747.1h2.96V794.8h-2.96zM1384.07 759.6h2.96V798.7h-2.96zM1386.98 756.8h2.96V798.7h-2.96zM1389.89 756.8h2.96V804.6h-2.96zM1392.80 753.2h2.96V804.6h-2.96zM1395.71 753.2h2.96V799.4h-2.96zM1398.62 756.8h2.96V785.2h-2.96zM1401.53 756.8h2.96V801.4h-2.96zM1404.44 762.6h2.96V801.4h-2.96zM1407.35 763.5h2.96V798.7h-2.96zM1410.26 764.6h2.96V798.7h-2.96zM1413.17 755.3h2.96V791.9h-2.96zM1416.08 755.3h2.96V806.3h-2.96zM1418.99 734.4h2.96V814.0h-2.96zM1421.90 734.4h2.96V814.0h-2.96zM1424.81 734.4h2.96V814.0h-2.96zM1427.72 734.4h2.96V807.1h-2.96zM1430.63 749.2h2.96V804.7h-2.96zM1433.54 708.0h2.96V854.5h-2.96zM1436.45 708.0h2.96V854.5h-2.96zM1439.36 740.6h2.96V854.5h-2.96zM1442.26 752.8h2.96V850.3h-2.96zM1445.17 749.2h2.96V798.0h-2.96zM1448.08 749.2h2.96V820.7h-2.96zM1450.99 750.1h2.96V820.7h-2.96zM1453.90 750.1h2.96V809.0h-2.96zM1456.81 758.4h2.96V810.1h-2.96zM1459.72 760.3h2.96V810.1h-2.96zM1462.63 751.1h2.96V800.6h-2.96zM1465.54 751.1h2.96V812.8h-2.96zM1468.45 757.4h2.96V812.8h-2.96zM1471.36 757.4h2.96V815.2h-2.96zM1474.27 772.8h2.96V815.2h-2.96zM1477.18 747.0h2.96V803.1h-2.96zM1480.09 741.9h2.96V798.3h-2.96zM1483.00 738.4h2.96V817.9h-2.96zM1485.91 738.4h2.96V817.9h-2.96zM1488.82 752.3h2.96V817.9h-2.96zM1491.73 742.4h2.96V811.9h-2.96zM1494.64 740.9h2.96V806.5h-2.96zM1497.55 740.9h2.96V812.7h-2.96zM1500.46 742.8h2.96V812.7h-2.96zM1503.37 745.8h2.96V808.4h-2.96zM1506.28 742.3h2.96V824.9h-2.96zM1509.19 742.3h2.96V824.9h-2.96zM1512.10 747.9h2.96V800.6h-2.96zM1515.01 746.5h2.96V809.3h-2.96zM1517.92 731.9h2.96V809.3h-2.96zM1520.83 729.6h2.96V843.0h-2.96zM1523.74 729.6h2.96V843.0h-2.96zM1526.65 729.1h2.96V843.0h-2.96zM1529.56 729.1h2.96V822.7h-2.96zM1532.47 747.2h2.96V805.9h-2.96zM1535.37 747.2h2.96V788.4h-2.96zM1538.28 761.5h2.96V801.7h-2.96zM1541.19 745.4h2.96V803.0h-2.96zM1544.10 745.4h2.96V803.0h-2.96zM1547.01 745.7h2.96V807.2h-2.96zM1549.92 761.5h2.96V807.2h-2.96zM1552.83 749.8h2.96V811.3h-2.96zM1555.74 749.8h2.96V818.8h-2.96zM1558.65 752.3h2.96V818.8h-2.96zM1561.56 748.1h2.96V810.9h-2.96zM1564.47 737.6h2.96V810.9h-2.96zM1567.38 734.2h2.96V808.3h-2.96zM1570.29 734.2h2.96V809.4h-2.96zM1573.20 740.6h2.96V819.4h-2.96zM1576.11 737.0h2.96V819.4h-2.96zM1579.02 737.0h2.96V819.4h-2.96zM1581.93 752.7h2.96V811.2h-2.96zM1584.84 752.7h2.96V806.6h-2.96zM1587.75 758.4h2.96V797.6h-2.96zM1590.66 707.3h2.96V832.4h-2.96zM1593.57 707.3h2.96V832.4h-2.96zM1596.48 710.5h2.96V832.4h-2.96zM1599.39 749.5h2.96V813.0h-2.96zM1602.30 760.3h2.96V790.0h-2.96zM1605.21 761.9h2.96V808.4h-2.96zM1608.12 757.5h2.96V808.4h-2.96zM1611.03 757.5h2.96V806.3h-2.96zM1613.94 758.4h2.96V804.0h-2.96zM1616.85 758.4h2.96V804.0h-2.96zM1619.76 760.2h2.96V793.5h-2.96zM1622.67 771.1h2.96V805.4h-2.96zM1625.58 744.0h2.96V805.4h-2.96zM1628.48 744.0h2.96V804.2h-2.96zM1631.39 748.6h2.96V803.4h-2.96zM1634.30 734.4h2.96V823.9h-2.96zM1637.21 734.4h2.96V823.9h-2.96zM1640.12 735.7h2.96V823.9h-2.96zM1643.03 748.9h2.96V812.8h-2.96zM1645.94 725.6h2.96V812.8h-2.96zM1648.85 725.6h2.96V807.0h-2.96zM1651.76 731.3h2.96V809.6h-2.96zM1654.67 731.3h2.96V809.6h-2.96zM1657.58 742.4h2.96V815.5h-2.96zM1660.49 742.4h2.96V815.5h-2.96zM1663.40 761.7h2.96V865.1h-2.96zM1666.31 695.6h2.96V865.1h-2.96zM1669.22 694.5h2.96V824.0h-2.96zM1672.13 694.5h2.96V814.9h-2.96zM1675.04 699.8h2.96V815.2h-2.96zM1677.95 758.5h2.96V831.0h-2.96zM1680.86 735.0h2.96V831.0h-2.96zM1683.77 735.0h2.96V831.0h-2.96zM1686.68 749.4h2.96V808.7h-2.96zM1689.59 753.2h2.96V798.4h-2.96zM1692.50 751.9h2.96V803.1h-2.96zM1695.41 745.8h2.96V809.7h-2.96zM1698.32 738.4h2.96V809.7h-2.96zM1701.23 738.4h2.96V809.7h-2.96z" fill="#0072bd" fill-opacity="0.7"/><path d="M1302.60 759.5h2.96V800.7h-2.96zM1305.51 761.0h2.96V801.2h-2.96zM1308.42 762.3h2.96V800.7h-2.96zM1311.33 760.6h2.96V801.6h-2.96zM1314.24 737.5h2.96V821.5h-2.96zM1317.15 739.5h2.96V819.8h-2.96zM1320.06 737.2h2.96V814.4h-2.96zM1322.97 734.4h2.96V805.0h-2.96zM1325.88 751.7h2.96V814.7h-2.96zM1328.79 747.7h2.96V816.4h-2.96zM1331.70 751.0h2.96V802.2h-2.96zM1334.61 749.1h2.96V804.9h-2.96zM1337.52 745.3h2.96V805.3h-2.96zM1340.43 749.1h2.96V801.3h-2.96zM1343.34 731.8h2.96V820.4h-2.96zM1346.25 711.8h2.96V837.4h-2.96zM1349.15 715.8h2.96V830.8h-2.96zM1352.06 714.7h2.96V832.3h-2.96zM1354.97 755.8h2.96V812.8h-2.96zM1357.88 733.9h2.96V822.1h-2.96zM1360.79 731.9h2.96V831.6h-2.96zM1363.70 724.4h2.96V830.9h-2.96zM1366.61 751.2h2.96V823.8h-2.96zM1369.52 762.8h2.96V808.9h-2.96zM1372.43 759.1h2.96V807.6h-2.96zM1375.34 752.7h2.96V799.3h-2.96zM1378.25 752.9h2.96V796.6h-2.96zM1381.16 749.2h2.96V792.3h-2.96zM1384.07 762.5h2.96V797.3h-2.96zM1386.98 759.3h2.96V798.1h-2.96zM1389.89 757.9h2.96V804.2h-2.96zM1392.80 757.0h2.96V804.4h-2.96zM1395.71 757.1h2.96V798.9h-2.96zM1398.62 757.7h2.96V784.2h-2.96zM1401.53 757.7h2.96V797.6h-2.96zM1404.44 763.2h2.96V797.3h-2.96zM1407.35 765.7h2.96V796.3h-2.96zM1410.26 764.7h2.96V796.5h-2.96zM1413.17 755.6h2.96V790.0h-2.96zM1416.08 758.5h2.96V802.8h-2.96zM1418.99 736.3h2.96V807.6h-2.96zM1421.90 742.9h2.96V808.1h-2.96zM1424.81 735.0h2.96V810.5h-2.96zM1427.72 735.6h2.96V804.4h-2.96zM1430.63 753.0h2.96V800.8h-2.96zM1433.54 711.9h2.96V851.5h-2.96zM1436.45 718.2h2.96V846.5h-2.96zM1439.36 742.0h2.96V843.6h-2.96zM1442.26 753.8h2.96V846.4h-2.96zM1445.17 752.3h2.96V795.0h-2.96zM1448.08 754.5h2.96V812.7h-2.96zM1450.99 753.9h2.96V814.4h-2.96zM1453.90 750.1h2.96V803.4h-2.96zM1456.81 761.1h2.96V805.9h-2.96zM1459.72 760.8h2.96V805.9h-2.96zM1462.63 752.7h2.96V800.4h-2.96zM1465.54 755.7h2.96V807.0h-2.96zM1468.45 759.2h2.96V812.1h-2.96zM1471.36 760.5h2.96V811.6h-2.96zM1474.27 773.6h2.96V808.2h-2.96zM1477.18 751.7h2.96V800.6h-2.96zM1480.09 747.6h2.96V797.7h-2.96zM1483.00 742.3h2.96V816.2h-2.96zM1485.91 745.4h2.96V812.1h-2.96zM1488.82 757.1h2.96V814.4h-2.96zM1491.73 747.5h2.96V809.2h-2.96zM1494.64 747.0h2.96V805.7h-2.96zM1497.55 745.1h2.96V810.0h-2.96zM1500.46 742.9h2.96V806.7h-2.96zM1503.37 750.7h2.96V805.5h-2.96zM1506.28 742.8h2.96V821.8h-2.96zM1509.19 746.7h2.96V816.4h-2.96zM1512.10 750.7h2.96V797.6h-2.96zM1515.01 752.0h2.96V806.8h-2.96zM1517.92 732.9h2.96V805.5h-2.96zM1520.83 735.6h2.96V833.7h-2.96zM1523.74 733.7h2.96V842.1h-2.96zM1526.65 732.9h2.96V834.1h-2.96zM1529.56 735.9h2.96V820.5h-2.96zM1532.47 751.1h2.96V801.9h-2.96zM1535.37 748.1h2.96V786.4h-2.96zM1538.28 763.4h2.96V801.4h-2.96zM1541.19 746.8h2.96V800.9h-2.96zM1544.10 750.4h2.96V798.7h-2.96zM1547.01 750.3h2.96V807.0h-2.96zM1549.92 761.8h2.96V801.3h-2.96zM1552.83 754.2h2.96V811.1h-2.96zM1555.74 754.9h2.96V816.9h-2.96zM1558.65 756.9h2.96V813.4h-2.96zM1561.56 753.4h2.96V809.1h-2.96zM1564.47 743.6h2.96V810.2h-2.96zM1567.38 742.5h2.96V803.8h-2.96zM1570.29 735.6h2.96V806.1h-2.96zM1573.20 747.1h2.96V811.6h-2.96zM1576.11 737.0h2.96V812.2h-2.96zM1579.02 741.0h2.96V814.1h-2.96zM1581.93 755.6h2.96V805.8h-2.96zM1584.84 755.3h2.96V804.9h-2.96zM1587.75 759.8h2.96V797.6h-2.96zM1590.66 707.7h2.96V823.2h-2.96zM1593.57 713.7h2.96V831.1h-2.96zM1596.48 713.2h2.96V827.7h-2.96zM1599.39 750.1h2.96V806.0h-2.96zM1602.30 762.1h2.96V789.0h-2.96zM1605.21 764.1h2.96V803.0h-2.96zM1608.12 760.8h2.96V807.7h-2.96zM1611.03 760.5h2.96V805.5h-2.96zM1613.94 760.7h2.96V798.8h-2.96zM1616.85 758.8h2.96V800.3h-2.96zM1619.76 762.2h2.96V791.8h-2.96zM1622.67 771.8h2.96V801.7h-2.96zM1625.58 750.1h2.96V801.2h-2.96zM1628.48 750.0h2.96V799.6h-2.96zM1631.39 752.7h2.96V803.3h-2.96zM1634.30 741.6h2.96V819.8h-2.96zM1637.21 735.9h2.96V815.0h-2.96zM1640.12 737.7h2.96V821.1h-2.96zM1643.03 750.9h2.96V810.4h-2.96zM1645.94 735.7h2.96V808.1h-2.96zM1648.85 733.4h2.96V802.0h-2.96zM1651.76 738.2h2.96V807.8h-2.96zM1654.67 735.1h2.96V809.5h-2.96zM1657.58 748.8h2.96V812.9h-2.96zM1660.49 747.8h2.96V808.6h-2.96zM1663.40 764.2h2.96V855.7h-2.96zM1666.31 700.8h2.96V854.0h-2.96zM1669.22 703.4h2.96V814.9h-2.96zM1672.13 697.2h2.96V810.9h-2.96zM1675.04 709.8h2.96V811.1h-2.96zM1677.95 760.0h2.96V821.2h-2.96zM1680.86 740.8h2.96V820.6h-2.96zM1683.77 735.1h2.96V828.2h-2.96zM1686.68 753.4h2.96V802.4h-2.96zM1689.59 754.0h2.96V796.5h-2.96zM1692.50 755.3h2.96V799.5h-2.96zM1695.41 750.5h2.96V808.1h-2.96zM1698.32 740.4h2.96V809.5h-2.96zM1701.23 745.9h2.96V805.5h-2.96z" fill="#0072bd"/></g>
<g filter="url(#bl2)"><rect x="1301.10" y="666.00" width="428.00" height="2.80" fill="#b8b8b8"/><rect x="1301.10" y="668.80" width="428.00" height="2.80" fill="#777777"/><rect x="1301.10" y="878.10" width="428.00" height="2.80" fill="#dcdcdc"/><rect x="1301.10" y="880.90" width="428.00" height="2.80" fill="#6a6a6a"/><rect x="1301.10" y="883.70" width="428.00" height="2.30" fill="#eeeeee"/><rect x="1301.10" y="666.00" width="2.90" height="220.00" fill="#c0c0c0"/><rect x="1304.00" y="666.00" width="3.00" height="220.00" fill="#a8a8a8"/><rect x="1723.90" y="666.00" width="2.60" height="220.00" fill="#9c9c9c"/><rect x="1726.50" y="666.00" width="2.60" height="220.00" fill="#c2c2c2"/><rect x="1537.08" y="874.50" width="2.9" height="3.60" fill="#333333"/><rect x="1537.08" y="671.60" width="2.9" height="3.60" fill="#333333"/><rect x="1307.00" y="678.55" width="3.60" height="2.9" fill="#333333"/><rect x="1720.30" y="678.55" width="3.60" height="2.9" fill="#333333"/><rect x="1307.00" y="727.05" width="3.60" height="2.9" fill="#333333"/><rect x="1720.30" y="727.05" width="3.60" height="2.9" fill="#333333"/><rect x="1307.00" y="775.55" width="3.60" height="2.9" fill="#333333"/><rect x="1720.30" y="775.55" width="3.60" height="2.9" fill="#333333"/><rect x="1307.00" y="824.05" width="3.60" height="2.9" fill="#333333"/><rect x="1720.30" y="824.05" width="3.60" height="2.9" fill="#333333"/><rect x="1307.00" y="872.55" width="3.60" height="2.9" fill="#333333"/><rect x="1720.30" y="872.55" width="3.60" height="2.9" fill="#333333"/></g><text transform="translate(1304.2,949.8) scale(0.935,1)" text-anchor="middle" font-size="50">0</text><text transform="translate(1538.0,949.8) scale(0.935,1)" text-anchor="middle" font-size="50">0.1</text><text transform="translate(1287.5,700.8) scale(0.935,1)" text-anchor="end" font-size="50">0.4</text><text transform="translate(1287.5,749.3) scale(0.935,1)" text-anchor="end" font-size="50">0.2</text><text transform="translate(1287.5,797.8) scale(0.935,1)" text-anchor="end" font-size="50">0</text><text transform="translate(1287.5,846.3) scale(0.935,1)" text-anchor="end" font-size="50">-0.2</text><text transform="translate(1287.5,894.8) scale(0.935,1)" text-anchor="end" font-size="50">-0.4</text>
</g>
<g id="p20">
<g filter="url(#bl)"><path d="M237.49 1150.1h2.94V1166.6h-2.94zM260.63 1146.6h2.94V1179.8h-2.94zM304.02 1013.7h2.94V1047.2h-2.94zM341.63 1118.5h2.94V1173.3h-2.94zM370.56 1162.3h2.94V1197.4h-2.94zM387.91 1035.6h2.94V1066.6h-2.94zM387.91 1147.6h2.94V1181.2h-2.94zM411.06 1032.2h2.94V1044.6h-2.94zM428.41 1118.4h2.94V1180.2h-2.94zM457.34 1005.1h2.94V1047.0h-2.94zM457.34 1155.5h2.94V1203.7h-2.94zM474.70 1064.6h2.94V1077.1h-2.94zM515.20 1012.1h2.94V1086.5h-2.94zM520.98 1167.1h2.94V1196.1h-2.94zM544.13 1032.8h2.94V1057.5h-2.94z" fill="#0072bd" fill-opacity="0.22"/><path d="M234.59 1150.1h2.94V1168.1h-2.94zM257.74 1047.6h2.94V1054.4h-2.94zM257.74 1146.6h2.94V1181.3h-2.94zM301.13 1012.2h2.94V1047.2h-2.94zM312.70 1087.1h2.94V1091.4h-2.94zM344.52 1155.3h2.94V1174.8h-2.94zM367.66 1180.3h2.94V1198.9h-2.94zM385.02 1034.1h2.94V1066.6h-2.94zM385.02 1147.6h2.94V1182.7h-2.94zM390.81 1063.7h2.94V1066.6h-2.94zM390.81 1147.6h2.94V1149.0h-2.94zM408.16 1030.7h2.94V1044.6h-2.94zM431.31 1151.4h2.94V1181.7h-2.94zM454.45 1003.6h2.94V1047.0h-2.94zM454.45 1155.5h2.94V1205.2h-2.94zM477.59 1063.1h2.94V1077.1h-2.94zM518.09 1010.6h2.94V1038.9h-2.94zM518.09 1167.1h2.94V1197.6h-2.94zM541.23 1031.3h2.94V1057.5h-2.94z" fill="#0072bd" fill-opacity="0.58"/><path d="M191.20 1018.8h2.94V1043.1h-2.94zM191.20 1177.3h2.94V1204.3h-2.94zM211.45 1005.4h2.94V1043.3h-2.94zM211.45 1152.5h2.94V1204.9h-2.94zM217.24 1040.5h2.94V1043.3h-2.94zM234.59 1042.8h2.94V1071.5h-2.94zM269.31 1117.1h2.94V1118.3h-2.94zM277.99 1027.4h2.94V1046.7h-2.94zM277.99 1160.3h2.94V1183.5h-2.94zM289.56 1116.6h2.94V1117.7h-2.94zM301.13 1162.8h2.94V1193.7h-2.94zM312.70 1117.4h2.94V1123.2h-2.94zM321.38 1046.9h2.94V1055.0h-2.94zM321.38 1142.0h2.94V1164.2h-2.94zM344.52 1036.7h2.94V1052.5h-2.94zM358.99 1093.2h2.94V1098.8h-2.94zM367.66 996.4h2.94V1046.5h-2.94zM411.06 1166.7h2.94V1180.6h-2.94zM413.95 1037.0h2.94V1044.6h-2.94zM422.63 1093.1h2.94V1096.0h-2.94zM431.31 1037.4h2.94V1050.0h-2.94zM442.88 1123.1h2.94V1124.7h-2.94zM474.70 1125.9h2.94V1133.8h-2.94zM497.84 1030.9h2.94V1042.0h-2.94zM497.84 1165.9h2.94V1174.9h-2.94zM541.23 1157.0h2.94V1183.3h-2.94zM561.48 1012.3h2.94V1022.3h-2.94zM561.48 1156.6h2.94V1204.4h-2.94zM567.27 1156.6h2.94V1161.7h-2.94zM584.63 1022.7h2.94V1041.6h-2.94zM584.63 1163.0h2.94V1181.0h-2.94z" fill="#0072bd" fill-opacity="0.9"/><path d="M191.20 1043.1h2.94V1177.3h-2.94zM194.09 1043.1h2.94V1177.3h-2.94zM196.99 1044.0h2.94V1163.6h-2.94zM199.88 1089.8h2.94V1123.3h-2.94zM202.77 1096.1h2.94V1114.3h-2.94zM205.66 1094.9h2.94V1113.5h-2.94zM208.56 1091.8h2.94V1118.3h-2.94zM211.45 1043.3h2.94V1152.5h-2.94zM214.34 1043.3h2.94V1152.5h-2.94zM217.24 1043.3h2.94V1152.5h-2.94zM220.13 1053.0h2.94V1119.6h-2.94zM223.02 1086.8h2.94V1114.8h-2.94zM225.91 1099.3h2.94V1115.0h-2.94zM228.81 1096.3h2.94V1117.6h-2.94zM231.70 1090.1h2.94V1131.1h-2.94zM234.59 1071.5h2.94V1150.1h-2.94zM237.49 1071.5h2.94V1150.1h-2.94zM240.38 1090.2h2.94V1137.1h-2.94zM243.27 1095.9h2.94V1118.4h-2.94zM246.16 1097.0h2.94V1111.6h-2.94zM249.06 1096.2h2.94V1112.1h-2.94zM251.95 1093.6h2.94V1113.5h-2.94zM254.84 1083.4h2.94V1121.4h-2.94zM257.74 1054.4h2.94V1146.6h-2.94zM260.63 1054.4h2.94V1146.6h-2.94zM263.52 1093.2h2.94V1116.7h-2.94zM266.41 1096.1h2.94V1117.1h-2.94zM269.31 1097.2h2.94V1117.1h-2.94zM272.20 1093.9h2.94V1113.4h-2.94zM275.09 1088.6h2.94V1115.3h-2.94zM277.99 1046.7h2.94V1160.3h-2.94zM280.88 1046.7h2.94V1160.3h-2.94zM283.77 1074.9h2.94V1154.4h-2.94zM286.66 1091.7h2.94V1116.6h-2.94zM289.56 1098.1h2.94V1116.6h-2.94zM292.45 1094.8h2.94V1116.1h-2.94zM295.34 1091.7h2.94V1121.4h-2.94zM298.24 1087.1h2.94V1144.8h-2.94zM301.13 1047.2h2.94V1162.8h-2.94zM304.02 1047.2h2.94V1162.8h-2.94zM306.91 1081.9h2.94V1122.9h-2.94zM309.81 1091.4h2.94V1117.4h-2.94zM312.70 1091.4h2.94V1117.4h-2.94zM315.59 1099.5h2.94V1111.9h-2.94zM318.49 1074.2h2.94V1132.8h-2.94zM321.38 1055.0h2.94V1142.0h-2.94zM324.27 1055.0h2.94V1142.0h-2.94zM327.16 1074.1h2.94V1140.4h-2.94zM330.06 1090.1h2.94V1123.2h-2.94zM332.95 1099.3h2.94V1114.6h-2.94zM335.84 1101.1h2.94V1114.6h-2.94zM338.74 1096.3h2.94V1113.0h-2.94zM341.63 1090.2h2.94V1118.5h-2.94zM344.52 1052.5h2.94V1155.3h-2.94zM347.41 1052.5h2.94V1155.3h-2.94zM350.31 1077.0h2.94V1123.0h-2.94zM353.20 1093.3h2.94V1117.8h-2.94zM356.09 1099.3h2.94V1116.9h-2.94zM358.99 1098.8h2.94V1115.0h-2.94zM361.88 1098.8h2.94V1135.4h-2.94zM364.77 1099.4h2.94V1180.3h-2.94zM367.66 1046.5h2.94V1180.3h-2.94zM370.56 1046.5h2.94V1162.3h-2.94zM373.45 1077.0h2.94V1118.2h-2.94zM376.34 1092.3h2.94V1117.9h-2.94zM379.23 1096.3h2.94V1117.3h-2.94zM382.13 1093.0h2.94V1120.1h-2.94zM385.02 1066.6h2.94V1147.6h-2.94zM387.91 1066.6h2.94V1147.6h-2.94zM390.81 1066.6h2.94V1147.6h-2.94zM393.70 1084.5h2.94V1126.6h-2.94zM396.59 1091.6h2.94V1118.1h-2.94zM399.48 1097.1h2.94V1115.3h-2.94zM402.38 1099.4h2.94V1113.4h-2.94zM405.27 1094.5h2.94V1127.2h-2.94zM408.16 1044.6h2.94V1166.6h-2.94zM411.06 1044.6h2.94V1166.7h-2.94zM413.95 1044.6h2.94V1166.7h-2.94zM416.84 1087.0h2.94V1126.5h-2.94zM419.73 1096.0h2.94V1117.8h-2.94zM422.63 1096.0h2.94V1116.7h-2.94zM425.52 1098.6h2.94V1116.5h-2.94zM428.41 1096.3h2.94V1118.4h-2.94zM431.31 1050.0h2.94V1151.4h-2.94zM434.20 1050.0h2.94V1151.4h-2.94zM437.09 1068.5h2.94V1128.9h-2.94zM439.98 1091.5h2.94V1120.6h-2.94zM442.88 1098.9h2.94V1123.1h-2.94zM445.77 1099.5h2.94V1123.1h-2.94zM448.66 1084.0h2.94V1133.3h-2.94zM451.56 1056.1h2.94V1150.5h-2.94zM454.45 1047.0h2.94V1155.5h-2.94zM457.34 1047.0h2.94V1155.5h-2.94zM460.23 1063.2h2.94V1118.1h-2.94zM463.13 1092.9h2.94V1117.5h-2.94zM466.02 1094.3h2.94V1116.0h-2.94zM468.91 1090.5h2.94V1118.1h-2.94zM471.81 1090.5h2.94V1123.3h-2.94zM474.70 1077.1h2.94V1125.9h-2.94zM477.59 1077.1h2.94V1125.9h-2.94zM480.48 1080.1h2.94V1116.9h-2.94zM483.38 1094.5h2.94V1115.1h-2.94zM486.27 1096.3h2.94V1113.1h-2.94zM489.16 1096.4h2.94V1113.4h-2.94zM492.06 1090.8h2.94V1128.5h-2.94zM494.95 1083.6h2.94V1150.0h-2.94zM497.84 1042.0h2.94V1165.9h-2.94zM500.73 1042.0h2.94V1165.9h-2.94zM503.63 1070.5h2.94V1150.3h-2.94zM506.52 1091.7h2.94V1118.0h-2.94zM509.41 1097.2h2.94V1114.4h-2.94zM512.31 1093.2h2.94V1115.2h-2.94zM515.20 1086.5h2.94V1142.2h-2.94zM518.09 1038.9h2.94V1167.1h-2.94zM520.98 1038.9h2.94V1167.1h-2.94zM523.88 1079.1h2.94V1143.7h-2.94zM526.77 1088.4h2.94V1123.2h-2.94zM529.66 1094.3h2.94V1116.7h-2.94zM532.56 1096.1h2.94V1116.6h-2.94zM535.45 1093.0h2.94V1118.5h-2.94zM538.34 1058.7h2.94V1153.9h-2.94zM541.23 1057.5h2.94V1157.0h-2.94zM544.13 1057.5h2.94V1157.0h-2.94zM547.02 1091.5h2.94V1121.7h-2.94zM549.91 1098.0h2.94V1115.3h-2.94zM552.81 1100.3h2.94V1115.3h-2.94zM555.70 1099.4h2.94V1115.1h-2.94zM558.59 1083.6h2.94V1153.2h-2.94zM561.48 1022.3h2.94V1156.6h-2.94zM564.38 1022.3h2.94V1156.6h-2.94zM567.27 1054.8h2.94V1156.6h-2.94zM570.16 1085.2h2.94V1121.3h-2.94zM573.06 1094.8h2.94V1117.5h-2.94zM575.95 1094.7h2.94V1122.7h-2.94zM578.84 1092.1h2.94V1126.1h-2.94zM581.73 1083.5h2.94V1149.6h-2.94zM584.63 1041.6h2.94V1163.0h-2.94zM587.52 1041.6h2.94V1163.0h-2.94zM590.41 1046.4h2.94V1118.3h-2.94z" fill="#0072bd" fill-opacity="0.7"/><path d="M191.20 1047.6h2.94V1167.3h-2.94zM194.09 1048.6h2.94V1174.8h-2.94zM196.99 1050.0h2.94V1163.4h-2.94zM199.88 1092.0h2.94V1122.7h-2.94zM202.77 1096.9h2.94V1112.7h-2.94zM205.66 1096.6h2.94V1112.2h-2.94zM208.56 1093.6h2.94V1116.8h-2.94zM211.45 1045.8h2.94V1145.4h-2.94zM214.34 1047.1h2.94V1150.1h-2.94zM217.24 1050.9h2.94V1144.6h-2.94zM220.13 1062.3h2.94V1118.0h-2.94zM223.02 1087.6h2.94V1114.8h-2.94zM225.91 1100.0h2.94V1113.7h-2.94zM228.81 1096.8h2.94V1117.4h-2.94zM231.70 1090.1h2.94V1130.3h-2.94zM234.59 1073.3h2.94V1143.8h-2.94zM237.49 1078.3h2.94V1149.9h-2.94zM240.38 1090.6h2.94V1131.3h-2.94zM243.27 1097.9h2.94V1118.0h-2.94zM246.16 1097.6h2.94V1111.0h-2.94zM249.06 1096.8h2.94V1111.6h-2.94zM251.95 1094.8h2.94V1113.1h-2.94zM254.84 1083.7h2.94V1121.2h-2.94zM257.74 1061.6h2.94V1144.4h-2.94zM260.63 1062.6h2.94V1140.7h-2.94zM263.52 1094.1h2.94V1115.7h-2.94zM266.41 1096.4h2.94V1115.1h-2.94zM269.31 1097.3h2.94V1116.8h-2.94zM272.20 1095.6h2.94V1112.8h-2.94zM275.09 1091.1h2.94V1114.8h-2.94zM277.99 1047.8h2.94V1153.9h-2.94zM280.88 1049.0h2.94V1152.6h-2.94zM283.77 1079.9h2.94V1146.8h-2.94zM286.66 1092.3h2.94V1116.4h-2.94zM289.56 1099.0h2.94V1116.3h-2.94zM292.45 1095.2h2.94V1114.9h-2.94zM295.34 1092.0h2.94V1119.4h-2.94zM298.24 1088.0h2.94V1142.8h-2.94zM301.13 1047.6h2.94V1154.6h-2.94zM304.02 1049.8h2.94V1159.5h-2.94zM306.91 1085.0h2.94V1120.6h-2.94zM309.81 1093.2h2.94V1115.3h-2.94zM312.70 1093.3h2.94V1116.8h-2.94zM315.59 1099.7h2.94V1111.6h-2.94zM318.49 1079.1h2.94V1128.4h-2.94zM321.38 1063.1h2.94V1139.8h-2.94zM324.27 1058.2h2.94V1136.8h-2.94zM327.16 1074.5h2.94V1136.2h-2.94zM330.06 1090.4h2.94V1123.0h-2.94zM332.95 1100.0h2.94V1114.4h-2.94zM335.84 1102.0h2.94V1113.1h-2.94zM338.74 1097.2h2.94V1112.7h-2.94zM341.63 1090.6h2.94V1117.3h-2.94zM344.52 1058.1h2.94V1147.7h-2.94zM347.41 1053.6h2.94V1154.6h-2.94zM350.31 1079.2h2.94V1121.4h-2.94zM353.20 1093.9h2.94V1116.2h-2.94zM356.09 1099.6h2.94V1116.2h-2.94zM358.99 1099.8h2.94V1113.6h-2.94zM361.88 1099.3h2.94V1132.7h-2.94zM364.77 1100.6h2.94V1166.4h-2.94zM367.66 1054.1h2.94V1176.1h-2.94zM370.56 1046.9h2.94V1151.2h-2.94zM373.45 1082.3h2.94V1117.9h-2.94zM376.34 1093.6h2.94V1116.4h-2.94zM379.23 1096.9h2.94V1117.2h-2.94zM382.13 1094.9h2.94V1117.9h-2.94zM385.02 1074.2h2.94V1147.2h-2.94zM387.91 1068.9h2.94V1141.2h-2.94zM390.81 1067.2h2.94V1146.2h-2.94zM393.70 1086.8h2.94V1123.2h-2.94zM396.59 1092.1h2.94V1117.6h-2.94zM399.48 1098.5h2.94V1114.5h-2.94zM402.38 1099.8h2.94V1113.3h-2.94zM405.27 1095.1h2.94V1123.1h-2.94zM408.16 1053.7h2.94V1155.8h-2.94zM411.06 1050.4h2.94V1155.1h-2.94zM413.95 1048.1h2.94V1161.0h-2.94zM416.84 1089.7h2.94V1123.5h-2.94zM419.73 1096.3h2.94V1117.3h-2.94zM422.63 1096.2h2.94V1115.0h-2.94zM425.52 1099.1h2.94V1116.0h-2.94zM428.41 1096.8h2.94V1117.3h-2.94zM431.31 1053.6h2.94V1149.8h-2.94zM434.20 1058.3h2.94V1148.3h-2.94zM437.09 1069.9h2.94V1127.0h-2.94zM439.98 1093.9h2.94V1118.1h-2.94zM442.88 1098.9h2.94V1120.5h-2.94zM445.77 1100.3h2.94V1120.0h-2.94zM448.66 1088.2h2.94V1131.5h-2.94zM451.56 1064.6h2.94V1143.2h-2.94zM454.45 1051.4h2.94V1154.4h-2.94zM457.34 1049.7h2.94V1146.5h-2.94zM460.23 1066.7h2.94V1116.5h-2.94zM463.13 1095.2h2.94V1115.7h-2.94zM466.02 1094.8h2.94V1114.2h-2.94zM468.91 1093.0h2.94V1115.7h-2.94zM471.81 1092.8h2.94V1120.7h-2.94zM474.70 1078.5h2.94V1123.3h-2.94zM477.59 1077.8h2.94V1123.8h-2.94zM480.48 1081.9h2.94V1115.1h-2.94zM483.38 1095.3h2.94V1113.6h-2.94zM486.27 1098.0h2.94V1111.9h-2.94zM489.16 1096.7h2.94V1112.0h-2.94zM492.06 1093.0h2.94V1125.5h-2.94zM494.95 1086.5h2.94V1149.6h-2.94zM497.84 1047.8h2.94V1161.9h-2.94zM500.73 1052.0h2.94V1156.6h-2.94zM503.63 1076.7h2.94V1148.4h-2.94zM506.52 1092.7h2.94V1117.4h-2.94zM509.41 1097.4h2.94V1113.8h-2.94zM512.31 1093.3h2.94V1113.7h-2.94zM515.20 1087.4h2.94V1141.7h-2.94zM518.09 1044.3h2.94V1157.3h-2.94zM520.98 1051.7h2.94V1163.3h-2.94zM523.88 1082.5h2.94V1136.9h-2.94zM526.77 1090.1h2.94V1120.1h-2.94zM529.66 1096.1h2.94V1116.1h-2.94zM532.56 1097.8h2.94V1115.4h-2.94zM535.45 1093.3h2.94V1117.0h-2.94zM538.34 1066.6h2.94V1149.0h-2.94zM541.23 1064.0h2.94V1154.9h-2.94zM544.13 1061.0h2.94V1153.3h-2.94zM547.02 1094.3h2.94V1119.5h-2.94zM549.91 1098.2h2.94V1113.6h-2.94zM552.81 1100.4h2.94V1114.2h-2.94zM555.70 1099.9h2.94V1113.8h-2.94zM558.59 1085.6h2.94V1152.4h-2.94zM561.48 1035.5h2.94V1152.9h-2.94zM564.38 1026.1h2.94V1149.0h-2.94zM567.27 1057.0h2.94V1147.6h-2.94zM570.16 1089.3h2.94V1119.9h-2.94zM573.06 1095.7h2.94V1115.8h-2.94zM575.95 1096.8h2.94V1122.0h-2.94zM578.84 1092.9h2.94V1124.8h-2.94zM581.73 1086.8h2.94V1148.0h-2.94zM584.63 1050.3h2.94V1161.3h-2.94zM587.52 1054.0h2.94V1151.6h-2.94zM590.41 1053.1h2.94V1116.4h-2.94z" fill="#0072bd"/></g>
<g filter="url(#bl2)"><rect x="190.40" y="990.90" width="427.70" height="2.90" fill="#808080"/><rect x="190.40" y="993.80" width="427.70" height="3.20" fill="#e4e4e4"/><rect x="190.40" y="1203.50" width="427.70" height="2.50" fill="#e8e8e8"/><rect x="190.40" y="1206.00" width="427.70" height="2.90" fill="#333333"/><rect x="190.40" y="990.90" width="2.70" height="218.00" fill="#5f5f5f"/><rect x="193.10" y="990.90" width="3.00" height="218.00" fill="#a8a8a8"/><rect x="612.90" y="990.90" width="2.60" height="218.00" fill="#6a6a6a"/><rect x="615.50" y="990.90" width="2.60" height="218.00" fill="#a0a0a0"/><rect x="426.02" y="1199.90" width="2.9" height="3.60" fill="#333333"/><rect x="426.02" y="997.00" width="2.9" height="3.60" fill="#333333"/><rect x="196.10" y="1036.05" width="3.60" height="2.9" fill="#333333"/><rect x="609.30" y="1036.05" width="3.60" height="2.9" fill="#333333"/><rect x="196.10" y="1106.05" width="3.60" height="2.9" fill="#333333"/><rect x="609.30" y="1106.05" width="3.60" height="2.9" fill="#333333"/><rect x="196.10" y="1174.55" width="3.60" height="2.9" fill="#333333"/><rect x="609.30" y="1174.55" width="3.60" height="2.9" fill="#333333"/></g><text transform="translate(192.8,1274.9) scale(0.935,1)" text-anchor="middle" font-size="50">0</text><text transform="translate(427.0,1274.9) scale(0.935,1)" text-anchor="middle" font-size="50">0.1</text><text transform="translate(176.1,1058.3) scale(0.935,1)" text-anchor="end" font-size="50">2</text><text transform="translate(176.1,1128.3) scale(0.935,1)" text-anchor="end" font-size="50">0</text><text transform="translate(176.1,1196.8) scale(0.935,1)" text-anchor="end" font-size="50">-2</text>
</g>
<g id="p21">
<g filter="url(#bl)"><path d="M748.69 1065.1h2.94V1073.7h-2.94zM751.58 1022.8h2.94V1080.4h-2.94zM855.65 1146.1h2.94V1164.3h-2.94zM855.65 1021.4h2.94V1042.8h-2.94zM873.00 1150.9h2.94V1171.6h-2.94zM887.45 1004.2h2.94V1070.0h-2.94zM881.67 1116.9h2.94V1173.2h-2.94zM896.12 1161.9h2.94V1191.7h-2.94zM913.47 1015.6h2.94V1040.4h-2.94zM930.81 1137.1h2.94V1161.2h-2.94zM933.70 1007.9h2.94V1063.7h-2.94zM942.37 1048.3h2.94V1066.7h-2.94zM948.16 1046.2h2.94V1061.5h-2.94zM942.37 1139.3h2.94V1151.6h-2.94zM959.72 1023.9h2.94V1031.9h-2.94zM968.39 1022.2h2.94V1071.0h-2.94zM968.39 1142.9h2.94V1167.7h-2.94zM982.85 1043.4h2.94V1072.3h-2.94zM985.74 1038.2h2.94V1068.3h-2.94zM994.41 1138.6h2.94V1152.0h-2.94zM1003.08 1026.5h2.94V1045.1h-2.94zM1014.64 1036.1h2.94V1059.8h-2.94zM1037.77 1147.4h2.94V1185.4h-2.94zM1040.66 1056.6h2.94V1066.6h-2.94zM1055.12 1151.3h2.94V1176.6h-2.94zM1075.35 1137.7h2.94V1194.6h-2.94zM1095.59 1033.8h2.94V1071.6h-2.94zM1101.37 1145.7h2.94V1159.1h-2.94zM1101.37 1145.7h2.94V1174.2h-2.94zM1112.93 1016.0h2.94V1046.1h-2.94zM1121.60 1029.5h2.94V1053.3h-2.94zM1136.06 1151.0h2.94V1188.4h-2.94z" fill="#0072bd" fill-opacity="0.22"/><path d="M745.80 1063.6h2.94V1073.7h-2.94zM754.47 1021.3h2.94V1036.9h-2.94zM838.31 1165.1h2.94V1172.0h-2.94zM852.76 1039.5h2.94V1042.8h-2.94zM852.76 1149.4h2.94V1165.8h-2.94zM858.54 1019.9h2.94V1042.8h-2.94zM875.89 1163.5h2.94V1173.1h-2.94zM884.56 1002.7h2.94V1016.2h-2.94zM884.56 1124.4h2.94V1174.7h-2.94zM899.01 1161.9h2.94V1193.2h-2.94zM910.58 1014.1h2.94V1040.4h-2.94zM927.92 1139.0h2.94V1162.7h-2.94zM930.81 1006.4h2.94V1015.5h-2.94zM939.48 1046.8h2.94V1066.7h-2.94zM945.27 1044.7h2.94V1061.5h-2.94zM945.27 1139.3h2.94V1153.1h-2.94zM956.83 1022.4h2.94V1031.9h-2.94zM965.50 1020.7h2.94V1043.8h-2.94zM965.50 1142.9h2.94V1169.2h-2.94zM979.95 1041.9h2.94V1063.7h-2.94zM988.63 1036.7h2.94V1062.7h-2.94zM991.52 1138.6h2.94V1153.5h-2.94zM1000.19 1025.0h2.94V1045.1h-2.94zM1017.54 1034.6h2.94V1059.8h-2.94zM1034.88 1147.4h2.94V1186.9h-2.94zM1043.55 1055.1h2.94V1066.6h-2.94zM1052.22 1151.3h2.94V1178.1h-2.94zM1072.46 1176.3h2.94V1196.1h-2.94zM1081.13 1135.2h2.94V1141.3h-2.94zM1092.70 1032.3h2.94V1071.6h-2.94zM1098.48 1050.9h2.94V1058.2h-2.94zM1098.48 1145.7h2.94V1160.6h-2.94zM1104.26 1041.1h2.94V1047.7h-2.94zM1104.26 1150.7h2.94V1175.7h-2.94zM1110.04 1014.5h2.94V1046.1h-2.94zM1118.71 1028.0h2.94V1036.3h-2.94zM1138.95 1151.0h2.94V1189.9h-2.94zM1144.73 1030.4h2.94V1064.5h-2.94z" fill="#0072bd" fill-opacity="0.58"/><path d="M745.80 1138.0h2.94V1158.9h-2.94zM757.36 1161.8h2.94V1165.8h-2.94zM766.04 1152.2h2.94V1172.3h-2.94zM768.93 1029.9h2.94V1051.9h-2.94zM771.82 1138.3h2.94V1147.6h-2.94zM783.38 1007.2h2.94V1038.4h-2.94zM783.38 1155.1h2.94V1177.2h-2.94zM789.16 1024.3h2.94V1038.4h-2.94zM797.83 1045.9h2.94V1055.4h-2.94zM803.62 1142.6h2.94V1155.3h-2.94zM806.51 1058.8h2.94V1064.8h-2.94zM809.40 1131.3h2.94V1152.0h-2.94zM815.18 1038.7h2.94V1059.0h-2.94zM820.96 1010.4h2.94V1023.8h-2.94zM820.96 1166.2h2.94V1183.6h-2.94zM838.31 1033.1h2.94V1053.6h-2.94zM846.98 1149.4h2.94V1179.0h-2.94zM861.43 1138.9h2.94V1173.8h-2.94zM864.32 1015.1h2.94V1037.4h-2.94zM873.00 1032.2h2.94V1055.7h-2.94zM890.34 1034.4h2.94V1064.2h-2.94zM890.34 1148.1h2.94V1174.2h-2.94zM899.01 1004.0h2.94V1036.5h-2.94zM904.79 1024.1h2.94V1036.5h-2.94zM907.68 1139.3h2.94V1160.0h-2.94zM922.14 1036.5h2.94V1063.6h-2.94zM922.14 1139.0h2.94V1155.3h-2.94zM939.48 1139.6h2.94V1164.6h-2.94zM959.72 1162.2h2.94V1180.1h-2.94zM974.17 1036.1h2.94V1057.4h-2.94zM974.17 1141.8h2.94V1166.7h-2.94zM982.85 1152.1h2.94V1175.8h-2.94zM1000.19 1148.6h2.94V1149.9h-2.94zM1005.97 1148.6h2.94V1160.5h-2.94zM1017.54 1172.3h2.94V1194.2h-2.94zM1023.32 994.0h2.94V1022.7h-2.94zM1023.32 1172.3h2.94V1202.8h-2.94zM1029.10 1150.8h2.94V1156.9h-2.94zM1034.88 1033.5h2.94V1048.0h-2.94zM1043.55 1119.7h2.94V1173.1h-2.94zM1052.22 1028.7h2.94V1046.6h-2.94zM1058.01 1033.6h2.94V1037.0h-2.94zM1069.57 1026.4h2.94V1039.3h-2.94zM1078.24 1044.1h2.94V1049.6h-2.94zM1086.91 1063.7h2.94V1073.7h-2.94zM1092.70 1145.4h2.94V1153.0h-2.94zM1110.04 1169.1h2.94V1177.4h-2.94zM1121.60 1149.3h2.94V1162.1h-2.94zM1127.39 1044.6h2.94V1058.4h-2.94zM1136.06 1042.7h2.94V1048.7h-2.94zM1144.73 1130.5h2.94V1135.8h-2.94z" fill="#0072bd" fill-opacity="0.9"/><path d="M745.80 1073.7h2.94V1138.0h-2.94zM748.69 1073.7h2.94V1138.0h-2.94zM751.58 1080.4h2.94V1121.4h-2.94zM754.47 1036.9h2.94V1161.8h-2.94zM757.36 1036.9h2.94V1161.8h-2.94zM760.25 1046.1h2.94V1154.2h-2.94zM763.14 1060.8h2.94V1152.2h-2.94zM766.04 1063.2h2.94V1152.2h-2.94zM768.93 1051.9h2.94V1138.3h-2.94zM771.82 1051.9h2.94V1138.3h-2.94zM774.71 1052.1h2.94V1127.6h-2.94zM777.60 1057.7h2.94V1136.0h-2.94zM780.49 1049.5h2.94V1138.8h-2.94zM783.38 1038.4h2.94V1155.1h-2.94zM786.27 1038.4h2.94V1155.1h-2.94zM789.16 1038.4h2.94V1143.0h-2.94zM792.05 1063.7h2.94V1134.9h-2.94zM794.94 1080.3h2.94V1135.8h-2.94zM797.83 1055.4h2.94V1136.5h-2.94zM800.73 1055.4h2.94V1142.6h-2.94zM803.62 1064.8h2.94V1142.6h-2.94zM806.51 1064.8h2.94V1108.9h-2.94zM809.40 1066.6h2.94V1131.3h-2.94zM812.29 1059.0h2.94V1131.3h-2.94zM815.18 1059.0h2.94V1152.7h-2.94zM818.07 1066.3h2.94V1162.4h-2.94zM820.96 1023.8h2.94V1166.2h-2.94zM823.85 1023.8h2.94V1166.2h-2.94zM826.74 1038.3h2.94V1160.5h-2.94zM829.63 1051.6h2.94V1130.4h-2.94zM832.52 1067.9h2.94V1137.4h-2.94zM835.41 1074.4h2.94V1150.2h-2.94zM838.31 1053.6h2.94V1165.1h-2.94zM841.20 1053.6h2.94V1165.1h-2.94zM844.09 1072.9h2.94V1110.2h-2.94zM846.98 1070.0h2.94V1149.4h-2.94zM849.87 1067.3h2.94V1149.4h-2.94zM852.76 1042.8h2.94V1149.4h-2.94zM855.65 1042.8h2.94V1146.1h-2.94zM858.54 1042.8h2.94V1138.9h-2.94zM861.43 1051.6h2.94V1138.9h-2.94zM864.32 1037.4h2.94V1135.4h-2.94zM867.21 1037.4h2.94V1127.4h-2.94zM870.10 1055.7h2.94V1146.8h-2.94zM873.00 1055.7h2.94V1150.9h-2.94zM875.89 1057.6h2.94V1163.5h-2.94zM878.78 1022.1h2.94V1163.5h-2.94zM881.67 1016.2h2.94V1116.9h-2.94zM884.56 1016.2h2.94V1124.4h-2.94zM887.45 1070.0h2.94V1124.4h-2.94zM890.34 1064.2h2.94V1148.1h-2.94zM893.23 1064.2h2.94V1148.1h-2.94zM896.12 1037.5h2.94V1161.9h-2.94zM899.01 1036.5h2.94V1161.9h-2.94zM901.90 1036.5h2.94V1153.3h-2.94zM904.79 1036.5h2.94V1139.3h-2.94zM907.68 1046.2h2.94V1139.3h-2.94zM910.58 1040.4h2.94V1137.3h-2.94zM913.47 1040.4h2.94V1147.9h-2.94zM916.36 1067.4h2.94V1147.9h-2.94zM919.25 1063.6h2.94V1133.8h-2.94zM922.14 1063.6h2.94V1139.0h-2.94zM925.03 1066.4h2.94V1139.0h-2.94zM927.92 1015.5h2.94V1139.0h-2.94zM930.81 1015.5h2.94V1137.1h-2.94zM933.70 1063.7h2.94V1131.2h-2.94zM936.59 1088.5h2.94V1139.6h-2.94zM939.48 1066.7h2.94V1139.6h-2.94zM942.37 1066.7h2.94V1139.3h-2.94zM945.27 1061.5h2.94V1139.3h-2.94zM948.16 1061.5h2.94V1133.2h-2.94zM951.05 1065.3h2.94V1135.4h-2.94zM953.94 1033.3h2.94V1157.0h-2.94zM956.83 1031.9h2.94V1162.2h-2.94zM959.72 1031.9h2.94V1162.2h-2.94zM962.61 1043.8h2.94V1140.4h-2.94zM965.50 1043.8h2.94V1142.9h-2.94zM968.39 1071.0h2.94V1142.9h-2.94zM971.28 1057.4h2.94V1141.8h-2.94zM974.17 1057.4h2.94V1141.8h-2.94zM977.06 1063.7h2.94V1139.5h-2.94zM979.95 1063.7h2.94V1152.1h-2.94zM982.85 1072.3h2.94V1152.1h-2.94zM985.74 1068.3h2.94V1132.4h-2.94zM988.63 1062.7h2.94V1127.3h-2.94zM991.52 1062.7h2.94V1138.6h-2.94zM994.41 1061.8h2.94V1138.6h-2.94zM997.30 1049.1h2.94V1138.1h-2.94zM1000.19 1045.1h2.94V1148.6h-2.94zM1003.08 1045.1h2.94V1148.6h-2.94zM1005.97 1046.8h2.94V1148.6h-2.94zM1008.86 1077.7h2.94V1129.7h-2.94zM1011.75 1071.3h2.94V1143.0h-2.94zM1014.64 1059.8h2.94V1161.8h-2.94zM1017.54 1059.8h2.94V1172.3h-2.94zM1020.43 1061.0h2.94V1172.3h-2.94zM1023.32 1022.7h2.94V1172.3h-2.94zM1026.21 1022.7h2.94V1150.8h-2.94zM1029.10 1061.3h2.94V1150.8h-2.94zM1031.99 1048.0h2.94V1143.9h-2.94zM1034.88 1048.0h2.94V1147.4h-2.94zM1037.77 1062.2h2.94V1147.4h-2.94zM1040.66 1066.6h2.94V1118.5h-2.94zM1043.55 1066.6h2.94V1119.7h-2.94zM1046.44 1067.6h2.94V1119.7h-2.94zM1049.33 1055.7h2.94V1140.7h-2.94zM1052.22 1046.6h2.94V1151.3h-2.94zM1055.12 1046.6h2.94V1151.3h-2.94zM1058.01 1037.0h2.94V1142.9h-2.94zM1060.90 1037.0h2.94V1128.0h-2.94zM1063.79 1054.7h2.94V1136.7h-2.94zM1066.68 1039.3h2.94V1163.3h-2.94zM1069.57 1039.3h2.94V1176.3h-2.94zM1072.46 1055.8h2.94V1176.3h-2.94zM1075.35 1049.6h2.94V1137.7h-2.94zM1078.24 1049.6h2.94V1135.2h-2.94zM1081.13 1068.0h2.94V1135.2h-2.94zM1084.02 1077.6h2.94V1134.3h-2.94zM1086.91 1073.7h2.94V1103.5h-2.94zM1089.81 1073.7h2.94V1120.1h-2.94zM1092.70 1071.6h2.94V1145.4h-2.94zM1095.59 1071.6h2.94V1145.4h-2.94zM1098.48 1058.2h2.94V1145.7h-2.94zM1101.37 1058.2h2.94V1145.7h-2.94zM1104.26 1047.7h2.94V1150.7h-2.94zM1107.15 1047.7h2.94V1150.7h-2.94zM1110.04 1046.1h2.94V1169.1h-2.94zM1112.93 1046.1h2.94V1169.1h-2.94zM1115.82 1036.3h2.94V1149.8h-2.94zM1118.71 1036.3h2.94V1137.0h-2.94zM1121.60 1053.3h2.94V1149.3h-2.94zM1124.49 1058.4h2.94V1149.3h-2.94zM1127.39 1058.4h2.94V1140.6h-2.94zM1130.28 1077.4h2.94V1136.2h-2.94zM1133.17 1048.7h2.94V1138.1h-2.94zM1136.06 1048.7h2.94V1151.0h-2.94zM1138.95 1072.9h2.94V1151.0h-2.94zM1141.84 1064.5h2.94V1130.5h-2.94zM1144.73 1064.5h2.94V1130.5h-2.94z" fill="#0072bd" fill-opacity="0.7"/><path d="M745.80 1079.3h2.94V1131.0h-2.94zM748.69 1076.2h2.94V1134.0h-2.94zM751.58 1084.0h2.94V1118.6h-2.94zM754.47 1042.2h2.94V1150.6h-2.94zM757.36 1038.5h2.94V1153.0h-2.94zM760.25 1047.8h2.94V1147.3h-2.94zM763.14 1061.3h2.94V1142.5h-2.94zM766.04 1069.1h2.94V1150.9h-2.94zM768.93 1055.7h2.94V1136.6h-2.94zM771.82 1052.2h2.94V1134.9h-2.94zM774.71 1053.0h2.94V1123.4h-2.94zM777.60 1065.8h2.94V1135.7h-2.94zM780.49 1054.5h2.94V1135.4h-2.94zM783.38 1042.8h2.94V1145.3h-2.94zM786.27 1040.8h2.94V1153.6h-2.94zM789.16 1039.9h2.94V1141.5h-2.94zM792.05 1067.6h2.94V1132.7h-2.94zM794.94 1081.1h2.94V1129.7h-2.94zM797.83 1062.9h2.94V1134.8h-2.94zM800.73 1064.1h2.94V1140.8h-2.94zM803.62 1069.5h2.94V1134.9h-2.94zM806.51 1069.6h2.94V1108.3h-2.94zM809.40 1069.9h2.94V1130.8h-2.94zM812.29 1067.0h2.94V1126.7h-2.94zM815.18 1065.5h2.94V1150.4h-2.94zM818.07 1069.7h2.94V1152.6h-2.94zM820.96 1026.4h2.94V1157.5h-2.94zM823.85 1032.6h2.94V1161.1h-2.94zM826.74 1040.5h2.94V1158.9h-2.94zM829.63 1056.5h2.94V1127.7h-2.94zM832.52 1069.8h2.94V1134.9h-2.94zM835.41 1077.6h2.94V1143.0h-2.94zM838.31 1062.4h2.94V1160.5h-2.94zM841.20 1063.1h2.94V1152.9h-2.94zM844.09 1073.7h2.94V1109.4h-2.94zM846.98 1072.5h2.94V1144.4h-2.94zM849.87 1069.5h2.94V1149.2h-2.94zM852.76 1050.3h2.94V1144.2h-2.94zM855.65 1054.2h2.94V1140.2h-2.94zM858.54 1050.4h2.94V1135.0h-2.94zM861.43 1058.5h2.94V1136.3h-2.94zM864.32 1041.3h2.94V1129.1h-2.94zM867.21 1040.6h2.94V1122.6h-2.94zM870.10 1056.3h2.94V1146.7h-2.94zM873.00 1057.6h2.94V1146.0h-2.94zM875.89 1063.7h2.94V1155.3h-2.94zM878.78 1037.1h2.94V1151.5h-2.94zM881.67 1028.0h2.94V1114.9h-2.94zM884.56 1021.6h2.94V1122.0h-2.94zM887.45 1070.0h2.94V1122.6h-2.94zM890.34 1070.6h2.94V1148.0h-2.94zM893.23 1065.8h2.94V1146.5h-2.94zM896.12 1048.4h2.94V1160.7h-2.94zM899.01 1043.3h2.94V1158.1h-2.94zM901.90 1049.3h2.94V1149.2h-2.94zM904.79 1037.4h2.94V1133.3h-2.94zM907.68 1047.5h2.94V1133.9h-2.94zM910.58 1045.0h2.94V1132.8h-2.94zM913.47 1052.3h2.94V1139.0h-2.94zM916.36 1074.5h2.94V1142.3h-2.94zM919.25 1068.8h2.94V1132.8h-2.94zM922.14 1066.4h2.94V1132.5h-2.94zM925.03 1068.3h2.94V1137.9h-2.94zM927.92 1025.8h2.94V1133.2h-2.94zM930.81 1025.5h2.94V1133.3h-2.94zM933.70 1066.9h2.94V1128.1h-2.94zM936.59 1088.5h2.94V1139.2h-2.94zM939.48 1068.5h2.94V1133.6h-2.94zM942.37 1068.5h2.94V1138.6h-2.94zM945.27 1063.4h2.94V1134.4h-2.94zM948.16 1068.5h2.94V1130.5h-2.94zM951.05 1069.1h2.94V1129.4h-2.94zM953.94 1041.7h2.94V1155.0h-2.94zM956.83 1036.6h2.94V1161.2h-2.94zM959.72 1037.9h2.94V1158.6h-2.94zM962.61 1049.9h2.94V1133.4h-2.94zM965.50 1054.6h2.94V1137.3h-2.94zM968.39 1073.8h2.94V1141.6h-2.94zM971.28 1057.8h2.94V1140.9h-2.94zM974.17 1058.8h2.94V1137.0h-2.94zM977.06 1064.2h2.94V1135.8h-2.94zM979.95 1069.5h2.94V1145.0h-2.94zM982.85 1073.3h2.94V1145.5h-2.94zM985.74 1071.3h2.94V1128.5h-2.94zM988.63 1062.7h2.94V1126.3h-2.94zM991.52 1063.4h2.94V1133.7h-2.94zM994.41 1070.0h2.94V1136.2h-2.94zM997.30 1052.0h2.94V1133.4h-2.94zM1000.19 1050.1h2.94V1147.1h-2.94zM1003.08 1045.9h2.94V1143.6h-2.94zM1005.97 1057.2h2.94V1147.7h-2.94zM1008.86 1080.2h2.94V1127.1h-2.94zM1011.75 1072.6h2.94V1137.7h-2.94zM1014.64 1064.1h2.94V1152.3h-2.94zM1017.54 1063.9h2.94V1170.3h-2.94zM1020.43 1065.0h2.94V1170.5h-2.94zM1023.32 1031.9h2.94V1158.8h-2.94zM1026.21 1023.4h2.94V1144.0h-2.94zM1029.10 1062.3h2.94V1147.8h-2.94zM1031.99 1048.6h2.94V1139.1h-2.94zM1034.88 1052.1h2.94V1141.1h-2.94zM1037.77 1064.4h2.94V1138.8h-2.94zM1040.66 1069.8h2.94V1118.5h-2.94zM1043.55 1071.2h2.94V1119.2h-2.94zM1046.44 1073.8h2.94V1117.3h-2.94zM1049.33 1056.8h2.94V1137.8h-2.94zM1052.22 1050.6h2.94V1142.8h-2.94zM1055.12 1057.9h2.94V1148.2h-2.94zM1058.01 1047.4h2.94V1136.0h-2.94zM1060.90 1044.8h2.94V1123.2h-2.94zM1063.79 1060.9h2.94V1130.3h-2.94zM1066.68 1046.5h2.94V1161.0h-2.94zM1069.57 1045.4h2.94V1171.3h-2.94zM1072.46 1061.4h2.94V1173.0h-2.94zM1075.35 1052.5h2.94V1134.2h-2.94zM1078.24 1054.0h2.94V1130.9h-2.94zM1081.13 1071.7h2.94V1133.4h-2.94zM1084.02 1081.5h2.94V1129.9h-2.94zM1086.91 1076.7h2.94V1103.5h-2.94zM1089.81 1079.1h2.94V1118.3h-2.94zM1092.70 1076.1h2.94V1138.4h-2.94zM1095.59 1074.6h2.94V1139.2h-2.94zM1098.48 1060.9h2.94V1142.7h-2.94zM1101.37 1064.9h2.94V1139.5h-2.94zM1104.26 1054.9h2.94V1144.2h-2.94zM1107.15 1054.7h2.94V1144.1h-2.94zM1110.04 1046.5h2.94V1156.4h-2.94zM1112.93 1052.1h2.94V1160.3h-2.94zM1115.82 1049.2h2.94V1142.3h-2.94zM1118.71 1037.7h2.94V1131.6h-2.94zM1121.60 1058.1h2.94V1145.8h-2.94zM1124.49 1060.8h2.94V1144.7h-2.94zM1127.39 1066.4h2.94V1134.2h-2.94zM1130.28 1081.8h2.94V1133.3h-2.94zM1133.17 1053.3h2.94V1135.9h-2.94zM1136.06 1050.7h2.94V1149.5h-2.94zM1138.95 1078.0h2.94V1147.8h-2.94zM1141.84 1071.1h2.94V1125.6h-2.94zM1144.73 1067.4h2.94V1129.8h-2.94z" fill="#0072bd"/></g>
<g filter="url(#bl2)"><rect x="746.00" y="990.90" width="424.90" height="2.90" fill="#808080"/><rect x="746.00" y="993.80" width="424.90" height="3.20" fill="#e4e4e4"/><rect x="746.00" y="1203.50" width="424.90" height="2.50" fill="#e8e8e8"/><rect x="746.00" y="1206.00" width="424.90" height="2.90" fill="#333333"/><rect x="746.00" y="990.90" width="2.80" height="218.00" fill="#6a6a6a"/><rect x="1168.00" y="990.90" width="2.90" height="218.00" fill="#555555"/><rect x="980.45" y="1199.90" width="2.9" height="3.60" fill="#333333"/><rect x="980.45" y="997.00" width="2.9" height="3.60" fill="#333333"/><rect x="748.80" y="1034.35" width="3.60" height="2.9" fill="#333333"/><rect x="1164.40" y="1034.35" width="3.60" height="2.9" fill="#333333"/><rect x="748.80" y="1103.55" width="3.60" height="2.9" fill="#333333"/><rect x="1164.40" y="1103.55" width="3.60" height="2.9" fill="#333333"/><rect x="748.80" y="1169.55" width="3.60" height="2.9" fill="#333333"/><rect x="1164.40" y="1169.55" width="3.60" height="2.9" fill="#333333"/></g><text transform="translate(747.4,1274.9) scale(0.935,1)" text-anchor="middle" font-size="50">0</text><text transform="translate(981.4,1274.9) scale(0.935,1)" text-anchor="middle" font-size="50">0.1</text><text transform="translate(730.7,1056.6) scale(0.935,1)" text-anchor="end" font-size="50">0.2</text><text transform="translate(730.7,1125.8) scale(0.935,1)" text-anchor="end" font-size="50">0</text><text transform="translate(730.7,1191.8) scale(0.935,1)" text-anchor="end" font-size="50">-0.2</text>
</g>
<g id="p22">
<g filter="url(#bl)"><path d="M1357.88 1170.0h2.96V1199.7h-2.96zM1421.90 1060.8h2.96V1082.9h-2.96zM1445.17 1160.3h2.96V1171.3h-2.96zM1468.45 1111.6h2.96V1128.9h-2.96zM1506.28 1038.9h2.96V1057.4h-2.96zM1512.10 1128.4h2.96V1158.4h-2.96zM1599.39 1136.7h2.96V1172.1h-2.96zM1677.95 1107.1h2.96V1124.1h-2.96z" fill="#0072bd" fill-opacity="0.22"/><path d="M1311.33 1083.4h2.96V1087.7h-2.96zM1311.33 1106.0h2.96V1108.7h-2.96zM1354.97 1170.0h2.96V1201.2h-2.96zM1418.99 1059.3h2.96V1082.1h-2.96zM1442.26 1160.3h2.96V1172.8h-2.96zM1462.63 1069.0h2.96V1074.1h-2.96zM1465.54 1117.8h2.96V1130.4h-2.96zM1509.19 1037.4h2.96V1051.4h-2.96zM1509.19 1135.8h2.96V1159.9h-2.96zM1523.74 1084.3h2.96V1086.6h-2.96zM1532.47 1083.5h2.96V1090.2h-2.96zM1596.48 1150.3h2.96V1173.6h-2.96zM1628.48 1086.5h2.96V1089.1h-2.96zM1660.49 1055.7h2.96V1059.7h-2.96zM1680.86 1110.1h2.96V1125.6h-2.96z" fill="#0072bd" fill-opacity="0.58"/><path d="M1302.60 1084.9h2.96V1087.9h-2.96zM1320.06 1103.2h2.96V1105.5h-2.96zM1337.52 1092.9h2.96V1094.3h-2.96zM1354.97 996.2h2.96V1044.8h-2.96zM1360.79 1043.3h2.96V1044.8h-2.96zM1369.52 1083.5h2.96V1087.1h-2.96zM1369.52 1107.9h2.96V1110.4h-2.96zM1375.34 1107.9h2.96V1114.4h-2.96zM1378.25 1088.4h2.96V1090.0h-2.96zM1395.71 1085.2h2.96V1090.4h-2.96zM1401.53 1107.9h2.96V1110.1h-2.96zM1421.90 1116.3h2.96V1124.6h-2.96zM1442.26 1001.3h2.96V1030.6h-2.96zM1483.00 1089.7h2.96V1092.3h-2.96zM1485.91 1104.1h2.96V1107.2h-2.96zM1526.65 1108.6h2.96V1112.1h-2.96zM1532.47 1107.4h2.96V1108.7h-2.96zM1549.92 1086.7h2.96V1089.7h-2.96zM1552.83 1105.0h2.96V1110.1h-2.96zM1555.74 1085.8h2.96V1089.7h-2.96zM1576.11 1050.1h2.96V1062.1h-2.96zM1576.11 1134.5h2.96V1144.9h-2.96zM1596.48 997.4h2.96V1042.8h-2.96zM1611.03 1109.3h2.96V1111.9h-2.96zM1613.94 1078.0h2.96V1083.5h-2.96zM1619.76 1112.1h2.96V1117.8h-2.96zM1622.67 1085.7h2.96V1089.1h-2.96zM1628.48 1105.3h2.96V1108.8h-2.96zM1637.21 1085.3h2.96V1091.2h-2.96zM1637.21 1105.9h2.96V1107.2h-2.96zM1643.03 1105.9h2.96V1112.0h-2.96zM1657.58 1134.3h2.96V1139.1h-2.96zM1663.40 1134.3h2.96V1151.6h-2.96zM1680.86 1073.6h2.96V1083.5h-2.96z" fill="#0072bd" fill-opacity="0.9"/><path d="M1302.60 1087.9h2.96V1105.5h-2.96zM1305.51 1087.9h2.96V1105.5h-2.96zM1308.42 1087.7h2.96V1106.0h-2.96zM1311.33 1087.7h2.96V1106.0h-2.96zM1314.24 1090.3h2.96V1104.1h-2.96zM1317.15 1093.3h2.96V1100.8h-2.96zM1320.06 1093.3h2.96V1103.2h-2.96zM1322.97 1094.3h2.96V1103.2h-2.96zM1325.88 1095.0h2.96V1103.0h-2.96zM1328.79 1093.2h2.96V1102.4h-2.96zM1331.70 1093.2h2.96V1102.3h-2.96zM1334.61 1094.4h2.96V1102.3h-2.96zM1337.52 1094.3h2.96V1101.6h-2.96zM1340.43 1094.3h2.96V1101.5h-2.96zM1343.34 1094.3h2.96V1100.9h-2.96zM1346.25 1096.0h2.96V1101.2h-2.96zM1349.15 1094.5h2.96V1102.3h-2.96zM1352.06 1058.1h2.96V1146.7h-2.96zM1354.97 1044.8h2.96V1170.0h-2.96zM1357.88 1044.8h2.96V1170.0h-2.96zM1360.79 1044.8h2.96V1145.8h-2.96zM1363.70 1080.0h2.96V1110.4h-2.96zM1366.61 1087.1h2.96V1107.0h-2.96zM1369.52 1087.1h2.96V1107.9h-2.96zM1372.43 1087.6h2.96V1107.9h-2.96zM1375.34 1090.0h2.96V1107.9h-2.96zM1378.25 1090.0h2.96V1105.6h-2.96zM1381.16 1092.3h2.96V1102.4h-2.96zM1384.07 1092.3h2.96V1102.4h-2.96zM1386.98 1093.1h2.96V1102.4h-2.96zM1389.89 1093.8h2.96V1103.5h-2.96zM1392.80 1093.0h2.96V1104.6h-2.96zM1395.71 1090.4h2.96V1107.1h-2.96zM1398.62 1090.4h2.96V1107.9h-2.96zM1401.53 1091.6h2.96V1107.9h-2.96zM1404.44 1091.6h2.96V1102.5h-2.96zM1407.35 1092.6h2.96V1101.8h-2.96zM1410.26 1095.0h2.96V1101.6h-2.96zM1413.17 1093.6h2.96V1102.4h-2.96zM1416.08 1082.1h2.96V1103.9h-2.96zM1418.99 1082.1h2.96V1116.3h-2.96zM1421.90 1082.9h2.96V1116.3h-2.96zM1424.81 1088.4h2.96V1114.8h-2.96zM1427.72 1091.9h2.96V1110.1h-2.96zM1430.63 1093.1h2.96V1102.4h-2.96zM1433.54 1094.3h2.96V1101.8h-2.96zM1436.45 1094.5h2.96V1103.2h-2.96zM1439.36 1030.6h2.96V1104.1h-2.96zM1442.26 1030.6h2.96V1160.3h-2.96zM1445.17 1050.5h2.96V1160.3h-2.96zM1448.08 1068.9h2.96V1127.5h-2.96zM1450.99 1085.3h2.96V1110.4h-2.96zM1453.90 1090.1h2.96V1107.0h-2.96zM1456.81 1089.1h2.96V1109.6h-2.96zM1459.72 1086.6h2.96V1110.4h-2.96zM1462.63 1074.1h2.96V1117.8h-2.96zM1465.54 1074.1h2.96V1117.8h-2.96zM1468.45 1074.1h2.96V1111.6h-2.96zM1471.36 1089.8h2.96V1108.1h-2.96zM1474.27 1092.2h2.96V1105.6h-2.96zM1477.18 1093.1h2.96V1104.8h-2.96zM1480.09 1093.6h2.96V1104.8h-2.96zM1483.00 1092.3h2.96V1104.1h-2.96zM1485.91 1092.3h2.96V1104.1h-2.96zM1488.82 1091.5h2.96V1103.5h-2.96zM1491.73 1091.5h2.96V1102.4h-2.96zM1494.64 1094.3h2.96V1101.6h-2.96zM1497.55 1094.6h2.96V1101.3h-2.96zM1500.46 1095.8h2.96V1102.2h-2.96zM1503.37 1093.1h2.96V1102.4h-2.96zM1506.28 1057.4h2.96V1135.8h-2.96zM1509.19 1051.4h2.96V1135.8h-2.96zM1512.10 1051.4h2.96V1128.4h-2.96zM1515.01 1056.7h2.96V1123.1h-2.96zM1517.92 1085.2h2.96V1110.2h-2.96zM1520.83 1086.6h2.96V1106.3h-2.96zM1523.74 1086.6h2.96V1108.6h-2.96zM1526.65 1088.0h2.96V1108.6h-2.96zM1529.56 1090.2h2.96V1107.4h-2.96zM1532.47 1090.2h2.96V1107.4h-2.96zM1535.37 1093.0h2.96V1104.2h-2.96zM1538.28 1094.7h2.96V1102.3h-2.96zM1541.19 1093.9h2.96V1102.5h-2.96zM1544.10 1093.8h2.96V1102.9h-2.96zM1547.01 1090.9h2.96V1104.1h-2.96zM1549.92 1089.7h2.96V1105.0h-2.96zM1552.83 1089.7h2.96V1105.0h-2.96zM1555.74 1089.7h2.96V1105.0h-2.96zM1558.65 1093.7h2.96V1104.0h-2.96zM1561.56 1095.1h2.96V1103.2h-2.96zM1564.47 1095.3h2.96V1102.8h-2.96zM1567.38 1092.8h2.96V1104.0h-2.96zM1570.29 1083.6h2.96V1111.7h-2.96zM1573.20 1062.1h2.96V1134.5h-2.96zM1576.11 1062.1h2.96V1134.5h-2.96zM1579.02 1077.2h2.96V1122.9h-2.96zM1581.93 1091.4h2.96V1104.0h-2.96zM1584.84 1094.3h2.96V1102.0h-2.96zM1587.75 1093.7h2.96V1102.4h-2.96zM1590.66 1055.5h2.96V1102.4h-2.96zM1593.57 1042.8h2.96V1150.3h-2.96zM1596.48 1042.8h2.96V1150.3h-2.96zM1599.39 1046.8h2.96V1136.7h-2.96zM1602.30 1067.9h2.96V1130.9h-2.96zM1605.21 1083.3h2.96V1111.8h-2.96zM1608.12 1083.4h2.96V1108.6h-2.96zM1611.03 1083.5h2.96V1109.3h-2.96zM1613.94 1083.5h2.96V1109.3h-2.96zM1616.85 1088.3h2.96V1112.1h-2.96zM1619.76 1090.7h2.96V1112.1h-2.96zM1622.67 1089.1h2.96V1107.2h-2.96zM1625.58 1089.1h2.96V1105.3h-2.96zM1628.48 1089.1h2.96V1105.3h-2.96zM1631.39 1092.7h2.96V1104.3h-2.96zM1634.30 1094.5h2.96V1102.4h-2.96zM1637.21 1091.2h2.96V1105.9h-2.96zM1640.12 1091.2h2.96V1105.9h-2.96zM1643.03 1091.2h2.96V1105.9h-2.96zM1645.94 1092.9h2.96V1103.9h-2.96zM1648.85 1094.3h2.96V1103.1h-2.96zM1651.76 1095.1h2.96V1102.5h-2.96zM1654.67 1094.5h2.96V1102.4h-2.96zM1657.58 1068.1h2.96V1134.3h-2.96zM1660.49 1059.7h2.96V1134.3h-2.96zM1663.40 1059.7h2.96V1134.3h-2.96zM1666.31 1077.0h2.96V1123.3h-2.96zM1669.22 1088.6h2.96V1111.5h-2.96zM1672.13 1091.3h2.96V1111.5h-2.96zM1675.04 1093.4h2.96V1107.0h-2.96zM1677.95 1089.8h2.96V1107.1h-2.96zM1680.86 1083.5h2.96V1110.1h-2.96zM1683.77 1083.5h2.96V1110.1h-2.96zM1686.68 1091.4h2.96V1105.6h-2.96zM1689.59 1093.7h2.96V1103.1h-2.96zM1692.50 1095.4h2.96V1102.0h-2.96zM1695.41 1095.4h2.96V1102.0h-2.96zM1698.32 1095.6h2.96V1101.8h-2.96zM1701.23 1095.6h2.96V1101.8h-2.96z" fill="#0072bd" fill-opacity="0.7"/><path d="M1302.60 1089.1h2.96V1104.9h-2.96zM1305.51 1089.0h2.96V1104.4h-2.96zM1308.42 1087.7h2.96V1104.7h-2.96zM1311.33 1089.4h2.96V1105.2h-2.96zM1314.24 1091.3h2.96V1103.9h-2.96zM1317.15 1094.2h2.96V1100.7h-2.96zM1320.06 1093.6h2.96V1102.8h-2.96zM1322.97 1094.9h2.96V1102.9h-2.96zM1325.88 1095.3h2.96V1103.0h-2.96zM1328.79 1093.9h2.96V1101.9h-2.96zM1331.70 1093.4h2.96V1102.0h-2.96zM1334.61 1095.1h2.96V1102.3h-2.96zM1337.52 1095.1h2.96V1101.6h-2.96zM1340.43 1094.5h2.96V1101.5h-2.96zM1343.34 1094.5h2.96V1100.8h-2.96zM1346.25 1096.3h2.96V1101.1h-2.96zM1349.15 1094.8h2.96V1102.0h-2.96zM1352.06 1061.2h2.96V1139.2h-2.96zM1354.97 1044.9h2.96V1165.3h-2.96zM1357.88 1046.0h2.96V1160.1h-2.96zM1360.79 1055.6h2.96V1143.8h-2.96zM1363.70 1080.2h2.96V1108.7h-2.96zM1366.61 1088.1h2.96V1105.5h-2.96zM1369.52 1087.3h2.96V1106.3h-2.96zM1372.43 1088.8h2.96V1107.2h-2.96zM1375.34 1091.4h2.96V1106.5h-2.96zM1378.25 1090.3h2.96V1105.0h-2.96zM1381.16 1093.5h2.96V1102.1h-2.96zM1384.07 1093.2h2.96V1102.0h-2.96zM1386.98 1093.7h2.96V1102.0h-2.96zM1389.89 1094.0h2.96V1103.0h-2.96zM1392.80 1094.1h2.96V1104.5h-2.96zM1395.71 1092.0h2.96V1105.5h-2.96zM1398.62 1090.5h2.96V1106.8h-2.96zM1401.53 1092.9h2.96V1107.1h-2.96zM1404.44 1091.8h2.96V1102.3h-2.96zM1407.35 1093.5h2.96V1101.4h-2.96zM1410.26 1095.2h2.96V1101.3h-2.96zM1413.17 1094.3h2.96V1101.9h-2.96zM1416.08 1082.2h2.96V1103.5h-2.96zM1418.99 1083.3h2.96V1115.8h-2.96zM1421.90 1083.8h2.96V1113.5h-2.96zM1424.81 1089.1h2.96V1113.0h-2.96zM1427.72 1093.1h2.96V1109.9h-2.96zM1430.63 1093.9h2.96V1102.3h-2.96zM1433.54 1095.2h2.96V1101.8h-2.96zM1436.45 1095.1h2.96V1102.9h-2.96zM1439.36 1033.1h2.96V1103.7h-2.96zM1442.26 1037.8h2.96V1156.6h-2.96zM1445.17 1059.9h2.96V1155.6h-2.96zM1448.08 1071.5h2.96V1126.2h-2.96zM1450.99 1088.0h2.96V1109.7h-2.96zM1453.90 1091.2h2.96V1105.7h-2.96zM1456.81 1089.9h2.96V1108.0h-2.96zM1459.72 1087.3h2.96V1110.2h-2.96zM1462.63 1076.3h2.96V1114.5h-2.96zM1465.54 1077.9h2.96V1116.8h-2.96zM1468.45 1074.8h2.96V1110.3h-2.96zM1471.36 1090.6h2.96V1106.4h-2.96zM1474.27 1093.4h2.96V1105.3h-2.96zM1477.18 1093.7h2.96V1104.3h-2.96zM1480.09 1093.7h2.96V1104.3h-2.96zM1483.00 1092.7h2.96V1103.5h-2.96zM1485.91 1092.4h2.96V1103.2h-2.96zM1488.82 1091.7h2.96V1103.2h-2.96zM1491.73 1092.6h2.96V1102.4h-2.96zM1494.64 1094.7h2.96V1101.6h-2.96zM1497.55 1095.0h2.96V1101.3h-2.96zM1500.46 1095.9h2.96V1102.1h-2.96zM1503.37 1093.2h2.96V1102.3h-2.96zM1506.28 1059.1h2.96V1132.0h-2.96zM1509.19 1053.7h2.96V1129.6h-2.96zM1512.10 1051.8h2.96V1124.1h-2.96zM1515.01 1057.6h2.96V1118.5h-2.96zM1517.92 1086.3h2.96V1108.9h-2.96zM1520.83 1088.8h2.96V1106.1h-2.96zM1523.74 1088.4h2.96V1107.5h-2.96zM1526.65 1088.6h2.96V1107.6h-2.96zM1529.56 1090.5h2.96V1106.7h-2.96zM1532.47 1090.7h2.96V1106.9h-2.96zM1535.37 1093.7h2.96V1104.1h-2.96zM1538.28 1095.4h2.96V1102.0h-2.96zM1541.19 1094.2h2.96V1102.4h-2.96zM1544.10 1094.3h2.96V1102.5h-2.96zM1547.01 1092.0h2.96V1103.7h-2.96zM1549.92 1091.3h2.96V1104.7h-2.96zM1552.83 1091.3h2.96V1103.8h-2.96zM1555.74 1090.2h2.96V1104.0h-2.96zM1558.65 1094.4h2.96V1103.8h-2.96zM1561.56 1095.8h2.96V1102.7h-2.96zM1564.47 1095.9h2.96V1102.3h-2.96zM1567.38 1092.9h2.96V1103.1h-2.96zM1570.29 1084.1h2.96V1111.0h-2.96zM1573.20 1066.6h2.96V1133.1h-2.96zM1576.11 1062.8h2.96V1129.8h-2.96zM1579.02 1077.6h2.96V1120.6h-2.96zM1581.93 1092.4h2.96V1103.3h-2.96zM1584.84 1094.3h2.96V1101.9h-2.96zM1587.75 1094.7h2.96V1102.1h-2.96zM1590.66 1059.2h2.96V1102.1h-2.96zM1593.57 1050.6h2.96V1142.7h-2.96zM1596.48 1048.6h2.96V1148.4h-2.96zM1599.39 1056.7h2.96V1129.4h-2.96zM1602.30 1072.7h2.96V1124.6h-2.96zM1605.21 1084.8h2.96V1109.7h-2.96zM1608.12 1084.2h2.96V1107.2h-2.96zM1611.03 1086.4h2.96V1107.6h-2.96zM1613.94 1084.3h2.96V1107.7h-2.96zM1616.85 1089.3h2.96V1111.3h-2.96zM1619.76 1092.0h2.96V1109.9h-2.96zM1622.67 1090.4h2.96V1106.9h-2.96zM1625.58 1089.4h2.96V1104.6h-2.96zM1628.48 1089.3h2.96V1105.1h-2.96zM1631.39 1093.6h2.96V1104.1h-2.96zM1634.30 1095.3h2.96V1102.2h-2.96zM1637.21 1091.6h2.96V1105.3h-2.96zM1640.12 1091.2h2.96V1105.3h-2.96zM1643.03 1091.2h2.96V1104.7h-2.96zM1645.94 1093.4h2.96V1103.9h-2.96zM1648.85 1095.2h2.96V1102.9h-2.96zM1651.76 1095.3h2.96V1102.5h-2.96zM1654.67 1094.6h2.96V1101.9h-2.96zM1657.58 1071.3h2.96V1132.5h-2.96zM1660.49 1067.3h2.96V1131.6h-2.96zM1663.40 1066.6h2.96V1133.4h-2.96zM1666.31 1080.8h2.96V1123.2h-2.96zM1669.22 1090.1h2.96V1109.5h-2.96zM1672.13 1092.4h2.96V1110.1h-2.96zM1675.04 1094.3h2.96V1106.7h-2.96zM1677.95 1090.8h2.96V1106.7h-2.96zM1680.86 1085.3h2.96V1108.4h-2.96zM1683.77 1085.4h2.96V1108.8h-2.96zM1686.68 1092.8h2.96V1104.6h-2.96zM1689.59 1094.3h2.96V1102.9h-2.96zM1692.50 1096.0h2.96V1101.7h-2.96zM1695.41 1095.4h2.96V1101.8h-2.96zM1698.32 1096.1h2.96V1101.3h-2.96zM1701.23 1096.0h2.96V1101.4h-2.96z" fill="#0072bd"/></g>
<g filter="url(#bl2)"><rect x="1301.10" y="990.90" width="428.00" height="2.90" fill="#808080"/><rect x="1301.10" y="993.80" width="428.00" height="3.20" fill="#e4e4e4"/><rect x="1301.10" y="1203.50" width="428.00" height="2.50" fill="#e8e8e8"/><rect x="1301.10" y="1206.00" width="428.00" height="2.90" fill="#333333"/><rect x="1301.10" y="990.90" width="2.90" height="218.00" fill="#c0c0c0"/><rect x="1304.00" y="990.90" width="3.00" height="218.00" fill="#a8a8a8"/><rect x="1723.90" y="990.90" width="2.60" height="218.00" fill="#9c9c9c"/><rect x="1726.50" y="990.90" width="2.60" height="218.00" fill="#c2c2c2"/><rect x="1537.08" y="1199.90" width="2.9" height="3.60" fill="#333333"/><rect x="1537.08" y="997.00" width="2.9" height="3.60" fill="#333333"/><rect x="1307.00" y="1046.05" width="3.60" height="2.9" fill="#333333"/><rect x="1720.30" y="1046.05" width="3.60" height="2.9" fill="#333333"/><rect x="1307.00" y="1099.05" width="3.60" height="2.9" fill="#333333"/><rect x="1720.30" y="1099.05" width="3.60" height="2.9" fill="#333333"/><rect x="1307.00" y="1149.55" width="3.60" height="2.9" fill="#333333"/><rect x="1720.30" y="1149.55" width="3.60" height="2.9" fill="#333333"/></g><text transform="translate(1304.2,1274.9) scale(0.935,1)" text-anchor="middle" font-size="50">0</text><text transform="translate(1538.0,1274.9) scale(0.935,1)" text-anchor="middle" font-size="50">0.1</text><text transform="translate(1287.5,1016.8) scale(0.935,1)" text-anchor="end" font-size="50">4</text><text transform="translate(1287.5,1068.3) scale(0.935,1)" text-anchor="end" font-size="50">2</text><text transform="translate(1287.5,1121.3) scale(0.935,1)" text-anchor="end" font-size="50">0</text><text transform="translate(1287.5,1171.8) scale(0.935,1)" text-anchor="end" font-size="50">-2</text><text transform="translate(1287.5,1224.3) scale(0.935,1)" text-anchor="end" font-size="50">-4</text>
</g>
<text transform="translate(925.0,1347.5) scale(1,1)" text-anchor="middle" font-size="54">Time(s)</text>
<text transform="translate(72,585.5) rotate(-90) scale(0.975,1)" text-anchor="middle" font-size="54">Amplitude(m/s<tspan dy="-28" font-size="31">2</tspan><tspan dy="28">)</tspan></text>
</svg>
</body></html>
